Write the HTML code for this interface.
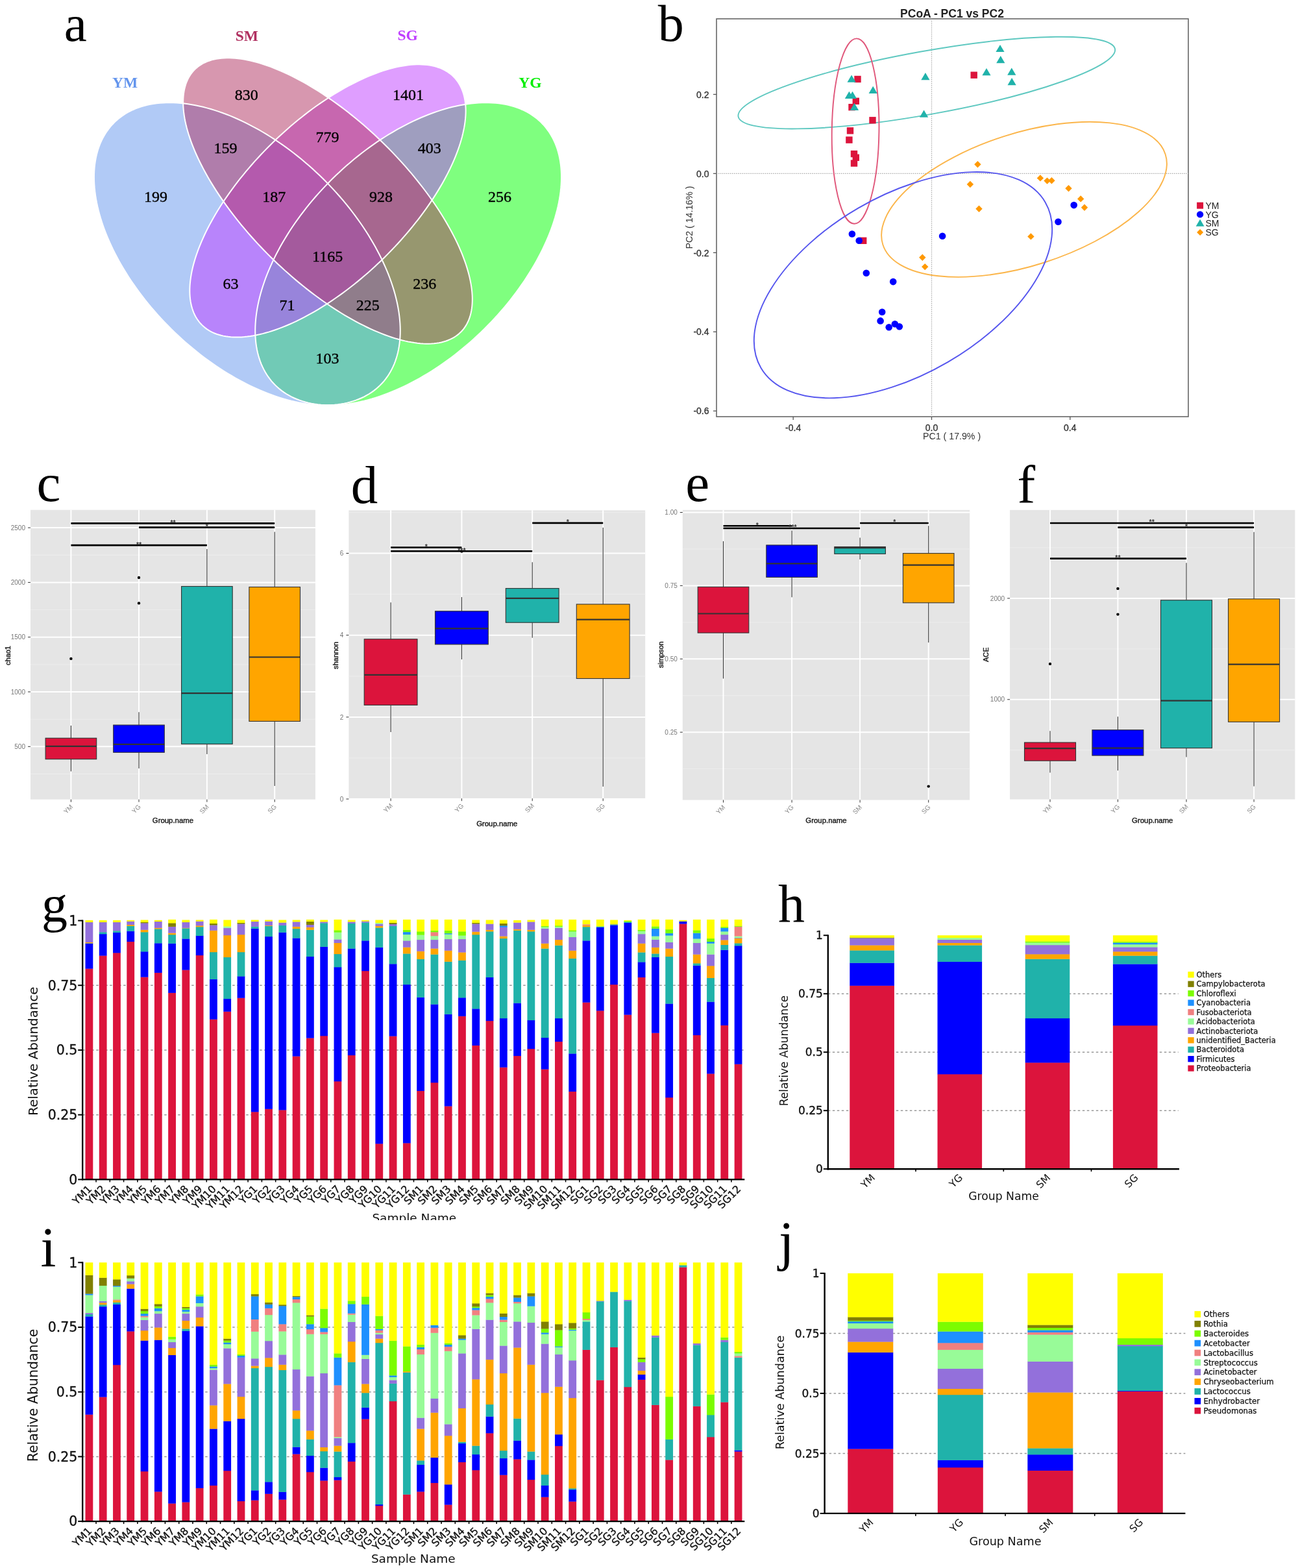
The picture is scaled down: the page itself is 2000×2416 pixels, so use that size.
<!DOCTYPE html>
<html><head><meta charset="utf-8"><title>Figure</title>
<style>html,body{margin:0;padding:0;background:#fff;}svg{display:block;}</style></head>
<body><svg width="2000" height="2416" viewBox="0 0 2000 2416">
<rect width="2000" height="2416" fill="#fff"/>
<path d="M833.96,188.84 L830.83,185.88 L827.55,183.06 L824.15,180.39 L820.6,177.86 L816.93,175.47 L813.13,173.24 L809.2,171.15 L805.15,169.22 L800.98,167.43 L796.69,165.8 L792.28,164.33 L787.77,163.01 L783.14,161.84 L778.41,160.84 L773.58,159.99 L768.65,159.3 L763.62,158.76 L758.5,158.39 L753.29,158.18 L748,158.13 L742.62,158.23 L737.17,158.5 L731.65,158.93 L726.05,159.51 L720.39,160.26 L714.66,161.16 L708.88,162.22 L703.04,163.44 L697.15,164.81 L691.21,166.34 L685.23,168.02 L679.21,169.86 L673.16,171.84 L667.08,173.98 L660.97,176.27 L654.84,178.7 L648.7,181.28 L642.53,184.01 L636.37,186.87 L630.19,189.88 L624.01,193.02 L617.84,196.3 L611.68,199.71 L605.53,203.26 L599.39,206.93 L593.27,210.73 L587.18,214.65 L581.12,218.7 L575.09,222.86 L569.1,227.14 L563.15,231.53 L557.24,236.03 L551.39,240.63 L545.58,245.34 L539.84,250.15 L534.15,255.06 L528.53,260.06 L522.98,265.15 L517.5,270.32 L512.1,275.58 L506.78,280.92 L501.54,286.33 L496.39,291.82 L491.33,297.37 L486.37,302.99 L481.5,308.67 L476.73,314.4 L472.07,320.19 L467.52,326.02 L463.08,331.9 L458.75,337.83 L454.54,343.78 L450.44,349.77 L446.47,355.79 L442.63,361.84 L438.91,367.9 L435.32,373.98 L431.87,380.07 L428.55,386.17 L425.37,392.27 L422.33,398.37 L419.43,404.47 L416.67,410.56 L414.06,416.63 L411.6,422.69 L409.28,428.73 L407.12,434.73 L405.11,440.71 L403.25,446.66 L401.55,452.57 L400,458.44 L398.61,464.26 L397.38,470.02 L396.31,475.74 L395.4,481.4 L394.64,487 L394.05,492.53 L393.62,497.99 L393.35,503.38 L393.24,508.69 L393.29,513.92 L393.51,519.06 L393.88,524.12 L394.42,529.09 L395.12,533.96 L395.98,538.74 L397,543.41 L398.18,547.98 L399.51,552.45 L401.01,556.8 L402.66,561.04 L404.46,565.16 L406.42,569.16 L408.53,573.05 L410.79,576.8 L413.21,580.43 L415.77,583.93 L418.47,587.3 L421.33,590.53 L424.32,593.63 L427.45,596.59 L430.73,599.4 L434.13,602.08 L437.68,604.61 L441.35,606.99 L445.15,609.23 L449.08,611.32 L453.13,613.25 L457.3,615.04 L461.59,616.67 L466,618.14 L470.51,619.46 L475.14,620.63 L479.87,621.63 L484.7,622.48 L489.63,623.17 L494.66,623.7 L499.78,624.08 L504.99,624.29 L510.28,624.34 L515.66,624.23 L521.11,623.97 L526.63,623.54 L532.23,622.96 L537.89,622.21 L543.62,621.31 L549.4,620.25 L555.24,619.03 L561.13,617.66 L567.07,616.13 L573.05,614.45 L579.07,612.61 L585.12,610.62 L591.2,608.49 L597.31,606.2 L603.44,603.77 L609.58,601.19 L615.75,598.46 L621.91,595.6 L628.09,592.59 L634.27,589.45 L640.44,586.17 L646.6,582.76 L652.75,579.21 L658.89,575.54 L665.01,571.74 L671.1,567.82 L677.16,563.77 L683.19,559.61 L689.18,555.33 L695.13,550.94 L701.04,546.44 L706.89,541.84 L712.7,537.13 L718.44,532.32 L724.13,527.41 L729.75,522.41 L735.3,517.32 L740.78,512.15 L746.18,506.89 L751.5,501.55 L756.74,496.14 L761.89,490.65 L766.95,485.1 L771.91,479.48 L776.78,473.8 L781.55,468.07 L786.21,462.28 L790.76,456.44 L795.2,450.56 L799.53,444.64 L803.74,438.68 L807.84,432.69 L811.81,426.67 L815.65,420.63 L819.37,414.57 L822.96,408.49 L826.41,402.4 L829.73,396.3 L832.91,390.2 L835.95,384.09 L838.85,378 L841.61,371.91 L844.22,365.84 L846.68,359.78 L849,353.74 L851.16,347.73 L853.17,341.75 L855.03,335.81 L856.73,329.9 L858.28,324.03 L859.67,318.21 L860.9,312.44 L861.97,306.73 L862.88,301.07 L863.64,295.47 L864.23,289.94 L864.66,284.48 L864.93,279.09 L865.04,273.78 L864.99,268.55 L864.77,263.4 L864.4,258.35 L863.86,253.38 L863.16,248.5 L862.3,243.73 L861.28,239.05 L860.1,234.48 L858.77,230.02 L857.27,225.67 L855.62,221.43 L853.82,217.31 L851.86,213.3 L849.75,209.42 L847.49,205.67 L845.07,202.04 L842.51,198.54 L839.81,195.17 L836.95,191.94Z" fill="#00FF00" fill-opacity="0.5"/>
<path d="M585.68,593.63 L588.67,590.53 L591.53,587.3 L594.23,583.93 L596.79,580.43 L599.21,576.8 L601.47,573.05 L603.58,569.16 L605.54,565.16 L607.34,561.04 L608.99,556.8 L610.49,552.45 L611.82,547.98 L613,543.41 L614.02,538.74 L614.88,533.96 L615.58,529.09 L616.12,524.12 L616.49,519.06 L616.71,513.92 L616.76,508.69 L616.65,503.38 L616.38,497.99 L615.95,492.53 L615.36,487 L614.6,481.4 L613.69,475.74 L612.62,470.02 L611.39,464.26 L610,458.44 L608.45,452.57 L606.75,446.66 L604.89,440.71 L602.88,434.73 L600.72,428.73 L598.4,422.69 L595.94,416.63 L593.33,410.56 L590.57,404.47 L587.67,398.37 L584.63,392.27 L581.45,386.17 L578.13,380.07 L574.68,373.98 L571.09,367.9 L567.37,361.84 L563.53,355.79 L559.56,349.77 L555.46,343.78 L551.25,337.83 L546.92,331.9 L542.48,326.02 L537.93,320.19 L533.27,314.4 L528.5,308.67 L523.63,302.99 L518.67,297.37 L513.61,291.82 L508.46,286.33 L503.22,280.92 L497.9,275.58 L492.5,270.32 L487.02,265.15 L481.47,260.06 L475.85,255.06 L470.16,250.15 L464.42,245.34 L458.61,240.63 L452.76,236.03 L446.85,231.53 L440.9,227.14 L434.91,222.86 L428.88,218.7 L422.82,214.65 L416.73,210.73 L410.61,206.93 L404.47,203.26 L398.32,199.71 L392.16,196.3 L385.99,193.02 L379.81,189.88 L373.63,186.87 L367.47,184.01 L361.3,181.28 L355.16,178.7 L349.03,176.27 L342.92,173.98 L336.84,171.84 L330.79,169.86 L324.77,168.02 L318.79,166.34 L312.85,164.81 L306.96,163.44 L301.12,162.22 L295.34,161.16 L289.61,160.26 L283.95,159.51 L278.35,158.93 L272.83,158.5 L267.38,158.23 L262,158.13 L256.71,158.18 L251.5,158.39 L246.38,158.76 L241.35,159.3 L236.42,159.99 L231.59,160.84 L226.86,161.84 L222.23,163.01 L217.72,164.33 L213.31,165.8 L209.02,167.43 L204.85,169.22 L200.8,171.15 L196.87,173.24 L193.07,175.47 L189.4,177.86 L185.85,180.39 L182.45,183.06 L179.17,185.88 L176.04,188.84 L173.05,191.94 L170.19,195.17 L167.49,198.54 L164.93,202.04 L162.51,205.67 L160.25,209.42 L158.14,213.3 L156.18,217.31 L154.38,221.43 L152.73,225.67 L151.23,230.02 L149.9,234.48 L148.72,239.05 L147.7,243.73 L146.84,248.5 L146.14,253.38 L145.6,258.35 L145.23,263.4 L145.01,268.55 L144.96,273.78 L145.07,279.09 L145.34,284.48 L145.77,289.94 L146.36,295.47 L147.12,301.07 L148.03,306.73 L149.1,312.44 L150.33,318.21 L151.72,324.03 L153.27,329.9 L154.97,335.81 L156.83,341.75 L158.84,347.73 L161,353.74 L163.32,359.78 L165.78,365.84 L168.39,371.91 L171.15,378 L174.05,384.09 L177.09,390.2 L180.27,396.3 L183.59,402.4 L187.04,408.49 L190.63,414.57 L194.35,420.63 L198.19,426.67 L202.16,432.69 L206.26,438.68 L210.47,444.64 L214.8,450.56 L219.24,456.44 L223.79,462.28 L228.45,468.07 L233.22,473.8 L238.09,479.48 L243.05,485.1 L248.11,490.65 L253.26,496.14 L258.5,501.55 L263.82,506.89 L269.22,512.15 L274.7,517.32 L280.25,522.41 L285.87,527.41 L291.56,532.32 L297.3,537.13 L303.11,541.84 L308.96,546.44 L314.87,550.94 L320.82,555.33 L326.81,559.61 L332.84,563.77 L338.9,567.82 L344.99,571.74 L351.11,575.54 L357.25,579.21 L363.4,582.76 L369.56,586.17 L375.73,589.45 L381.91,592.59 L388.09,595.6 L394.25,598.46 L400.42,601.19 L406.56,603.77 L412.69,606.2 L418.8,608.49 L424.88,610.62 L430.93,612.61 L436.95,614.45 L442.93,616.13 L448.87,617.66 L454.76,619.03 L460.6,620.25 L466.38,621.31 L472.11,622.21 L477.77,622.96 L483.37,623.54 L488.89,623.97 L494.34,624.23 L499.72,624.34 L505.01,624.29 L510.22,624.08 L515.34,623.7 L520.37,623.17 L525.3,622.48 L530.13,621.63 L534.86,620.63 L539.49,619.46 L544,618.14 L548.41,616.67 L552.7,615.04 L556.87,613.25 L560.92,611.32 L564.85,609.23 L568.65,606.99 L572.32,604.61 L575.87,602.08 L579.27,599.4 L582.55,596.59Z" fill="#6495ED" fill-opacity="0.5"/>
<path d="M698.7,118.05 L696.34,115.84 L693.84,113.77 L691.22,111.83 L688.47,110.03 L685.59,108.36 L682.59,106.83 L679.46,105.44 L676.22,104.19 L672.86,103.09 L669.38,102.12 L665.79,101.29 L662.1,100.61 L658.29,100.07 L654.38,99.67 L650.37,99.42 L646.25,99.31 L642.04,99.35 L637.74,99.53 L633.34,99.85 L628.86,100.32 L624.29,100.93 L619.64,101.68 L614.92,102.58 L610.11,103.62 L605.24,104.8 L600.29,106.11 L595.28,107.57 L590.21,109.17 L585.08,110.9 L579.9,112.77 L574.66,114.78 L569.38,116.92 L564.05,119.19 L558.68,121.59 L553.28,124.12 L547.84,126.77 L542.37,129.55 L536.88,132.46 L531.36,135.48 L525.83,138.63 L520.28,141.89 L514.73,145.27 L509.16,148.76 L503.59,152.36 L498.03,156.07 L492.47,159.88 L486.91,163.8 L481.37,167.81 L475.85,171.92 L470.34,176.13 L464.86,180.43 L459.41,184.81 L453.99,189.28 L448.6,193.84 L443.25,198.47 L437.95,203.18 L432.69,207.96 L427.48,212.81 L422.32,217.73 L417.22,222.71 L412.18,227.75 L407.2,232.85 L402.29,238 L397.45,243.2 L392.69,248.44 L388,253.72 L383.39,259.05 L378.87,264.4 L374.43,269.79 L370.08,275.21 L365.82,280.65 L361.66,286.11 L357.6,291.58 L353.63,297.07 L349.78,302.56 L346.02,308.06 L342.38,313.57 L338.85,319.06 L335.43,324.56 L332.13,330.04 L328.95,335.51 L325.88,340.96 L322.94,346.38 L320.13,351.79 L317.44,357.16 L314.88,362.5 L312.45,367.81 L310.15,373.07 L307.99,378.29 L305.96,383.46 L304.07,388.59 L302.32,393.66 L300.7,398.67 L299.22,403.62 L297.89,408.5 L296.7,413.32 L295.65,418.07 L294.74,422.74 L293.98,427.33 L293.36,431.85 L292.89,436.28 L292.56,440.62 L292.38,444.87 L292.34,449.03 L292.45,453.1 L292.71,457.06 L293.11,460.93 L293.65,464.69 L294.34,468.34 L295.18,471.89 L296.16,475.32 L297.28,478.64 L298.55,481.85 L299.95,484.94 L301.5,487.9 L303.18,490.75 L305.01,493.47 L306.97,496.06 L309.07,498.53 L311.3,500.86 L313.66,503.07 L316.16,505.14 L318.78,507.08 L321.53,508.88 L324.41,510.55 L327.41,512.07 L330.54,513.46 L333.78,514.71 L337.14,515.82 L340.62,516.79 L344.21,517.62 L347.9,518.3 L351.71,518.84 L355.62,519.23 L359.63,519.49 L363.75,519.59 L367.96,519.56 L372.26,519.38 L376.66,519.06 L381.14,518.59 L385.71,517.98 L390.36,517.22 L395.08,516.33 L399.89,515.29 L404.76,514.11 L409.71,512.79 L414.72,511.34 L419.79,509.74 L424.92,508 L430.1,506.13 L435.34,504.13 L440.62,501.99 L445.95,499.72 L451.32,497.32 L456.72,494.79 L462.16,492.14 L467.63,489.35 L473.12,486.45 L478.64,483.42 L484.17,480.28 L489.72,477.02 L495.27,473.64 L500.84,470.15 L506.41,466.55 L511.97,462.84 L517.53,459.03 L523.09,455.11 L528.63,451.1 L534.15,446.99 L539.66,442.78 L545.14,438.48 L550.59,434.1 L556.01,429.62 L561.4,425.07 L566.75,420.44 L572.05,415.73 L577.31,410.95 L582.52,406.09 L587.68,401.18 L592.78,396.19 L597.82,391.15 L602.8,386.06 L607.71,380.91 L612.55,375.71 L617.31,370.47 L622,365.18 L626.61,359.86 L631.13,354.5 L635.57,349.11 L639.92,343.7 L644.18,338.26 L648.34,332.8 L652.4,327.33 L656.37,321.84 L660.22,316.34 L663.98,310.84 L667.62,305.34 L671.15,299.84 L674.57,294.35 L677.87,288.87 L681.05,283.4 L684.12,277.95 L687.06,272.52 L689.87,267.12 L692.56,261.75 L695.12,256.41 L697.55,251.1 L699.85,245.84 L702.01,240.62 L704.04,235.44 L705.93,230.32 L707.68,225.25 L709.3,220.24 L710.78,215.29 L712.11,210.4 L713.3,205.59 L714.35,200.84 L715.26,196.17 L716.02,191.57 L716.64,187.06 L717.11,182.63 L717.44,178.29 L717.62,174.03 L717.66,169.87 L717.55,165.81 L717.29,161.84 L716.89,157.98 L716.35,154.22 L715.66,150.56 L714.82,147.02 L713.84,143.58 L712.72,140.26 L711.45,137.06 L710.05,133.97 L708.5,131.01 L706.82,128.16 L704.99,125.44 L703.03,122.85 L700.93,120.38Z" fill="#BF3EFF" fill-opacity="0.5"/>
<path d="M709.82,511.85 L712.05,509.51 L714.13,507.03 L716.08,504.42 L717.87,501.67 L719.53,498.8 L721.03,495.79 L722.39,492.65 L723.6,489.39 L724.65,486.01 L725.56,482.5 L726.32,478.88 L726.92,475.14 L727.37,471.29 L727.67,467.32 L727.82,463.25 L727.82,459.07 L727.66,454.79 L727.35,450.41 L726.88,445.93 L726.27,441.36 L725.5,436.7 L724.59,431.95 L723.52,427.12 L722.3,422.21 L720.93,417.22 L719.42,412.16 L717.76,407.02 L715.95,401.82 L714,396.56 L711.9,391.23 L709.66,385.85 L707.29,380.42 L704.77,374.94 L702.12,369.42 L699.33,363.85 L696.41,358.24 L693.35,352.61 L690.17,346.94 L686.86,341.25 L683.43,335.53 L679.87,329.8 L676.2,324.05 L672.41,318.3 L668.5,312.53 L664.48,306.77 L660.35,301.01 L656.12,295.25 L651.78,289.5 L647.34,283.77 L642.8,278.05 L638.17,272.36 L633.45,266.69 L628.64,261.05 L623.74,255.44 L618.76,249.87 L613.71,244.34 L608.58,238.86 L603.38,233.42 L598.11,228.04 L592.78,222.71 L587.39,217.44 L581.94,212.24 L576.44,207.1 L570.89,202.03 L565.29,197.04 L559.66,192.12 L553.98,187.28 L548.28,182.53 L542.54,177.86 L536.78,173.29 L530.99,168.8 L525.19,164.42 L519.37,160.13 L513.55,155.94 L507.72,151.86 L501.88,147.89 L496.05,144.03 L490.23,140.28 L484.41,136.65 L478.61,133.14 L472.83,129.74 L467.07,126.47 L461.33,123.33 L455.63,120.31 L449.95,117.43 L444.32,114.67 L438.73,112.05 L433.18,109.56 L427.68,107.21 L422.24,105 L416.85,102.93 L411.53,101 L406.26,99.22 L401.07,97.58 L395.94,96.08 L390.89,94.73 L385.92,93.52 L381.03,92.47 L376.23,91.56 L371.51,90.8 L366.89,90.2 L362.35,89.74 L357.92,89.43 L353.59,89.28 L349.36,89.27 L345.24,89.42 L341.23,89.71 L337.33,90.16 L333.54,90.76 L329.88,91.51 L326.33,92.4 L322.91,93.45 L319.61,94.64 L316.43,95.98 L313.39,97.47 L310.48,99.1 L307.7,100.88 L305.05,102.8 L302.55,104.86 L300.18,107.06 L297.95,109.4 L295.87,111.88 L293.92,114.49 L292.13,117.23 L290.47,120.11 L288.97,123.12 L287.61,126.26 L286.4,129.52 L285.35,132.9 L284.44,136.41 L283.68,140.03 L283.08,143.77 L282.63,147.62 L282.33,151.59 L282.18,155.66 L282.18,159.84 L282.34,164.12 L282.65,168.5 L283.12,172.97 L283.73,177.55 L284.5,182.21 L285.41,186.95 L286.48,191.79 L287.7,196.7 L289.07,201.69 L290.58,206.75 L292.24,211.89 L294.05,217.09 L296,222.35 L298.1,227.67 L300.34,233.05 L302.71,238.49 L305.23,243.97 L307.88,249.49 L310.67,255.06 L313.59,260.66 L316.65,266.3 L319.83,271.97 L323.14,277.66 L326.57,283.38 L330.13,289.11 L333.8,294.86 L337.59,300.61 L341.5,306.37 L345.52,312.14 L349.65,317.9 L353.88,323.66 L358.22,329.41 L362.66,335.14 L367.2,340.86 L371.83,346.55 L376.55,352.22 L381.36,357.86 L386.26,363.47 L391.24,369.03 L396.29,374.56 L401.42,380.05 L406.62,385.48 L411.89,390.87 L417.22,396.19 L422.61,401.46 L428.06,406.67 L433.56,411.81 L439.11,416.88 L444.71,421.87 L450.34,426.79 L456.02,431.63 L461.72,436.38 L467.46,441.05 L473.22,445.62 L479.01,450.11 L484.81,454.49 L490.63,458.78 L496.45,462.97 L502.28,467.05 L508.12,471.02 L513.95,474.88 L519.77,478.63 L525.59,482.26 L531.39,485.77 L537.17,489.16 L542.93,492.43 L548.67,495.58 L554.37,498.59 L560.05,501.48 L565.68,504.24 L571.27,506.86 L576.82,509.34 L582.32,511.69 L587.76,513.9 L593.15,515.97 L598.47,517.9 L603.74,519.69 L608.93,521.33 L614.06,522.83 L619.11,524.18 L624.08,525.38 L628.97,526.44 L633.77,527.35 L638.49,528.1 L643.11,528.71 L647.65,529.17 L652.08,529.48 L656.41,529.63 L660.64,529.64 L664.76,529.49 L668.77,529.19 L672.67,528.75 L676.46,528.15 L680.12,527.4 L683.67,526.51 L687.09,525.46 L690.39,524.27 L693.57,522.93 L696.61,521.44 L699.52,519.81 L702.3,518.03 L704.95,516.11 L707.45,514.05Z" fill="#B03060" fill-opacity="0.5"/>
<path d="M833.96,188.84 L830.83,185.88 L827.55,183.06 L824.15,180.39 L820.6,177.86 L816.93,175.47 L813.13,173.24 L809.2,171.15 L805.15,169.22 L800.98,167.43 L796.69,165.8 L792.28,164.33 L787.77,163.01 L783.14,161.84 L778.41,160.84 L773.58,159.99 L768.65,159.3 L763.62,158.76 L758.5,158.39 L753.29,158.18 L748,158.13 L742.62,158.23 L737.17,158.5 L731.65,158.93 L726.05,159.51 L720.39,160.26 L714.66,161.16 L708.88,162.22 L703.04,163.44 L697.15,164.81 L691.21,166.34 L685.23,168.02 L679.21,169.86 L673.16,171.84 L667.08,173.98 L660.97,176.27 L654.84,178.7 L648.7,181.28 L642.53,184.01 L636.37,186.87 L630.19,189.88 L624.01,193.02 L617.84,196.3 L611.68,199.71 L605.53,203.26 L599.39,206.93 L593.27,210.73 L587.18,214.65 L581.12,218.7 L575.09,222.86 L569.1,227.14 L563.15,231.53 L557.24,236.03 L551.39,240.63 L545.58,245.34 L539.84,250.15 L534.15,255.06 L528.53,260.06 L522.98,265.15 L517.5,270.32 L512.1,275.58 L506.78,280.92 L501.54,286.33 L496.39,291.82 L491.33,297.37 L486.37,302.99 L481.5,308.67 L476.73,314.4 L472.07,320.19 L467.52,326.02 L463.08,331.9 L458.75,337.83 L454.54,343.78 L450.44,349.77 L446.47,355.79 L442.63,361.84 L438.91,367.9 L435.32,373.98 L431.87,380.07 L428.55,386.17 L425.37,392.27 L422.33,398.37 L419.43,404.47 L416.67,410.56 L414.06,416.63 L411.6,422.69 L409.28,428.73 L407.12,434.73 L405.11,440.71 L403.25,446.66 L401.55,452.57 L400,458.44 L398.61,464.26 L397.38,470.02 L396.31,475.74 L395.4,481.4 L394.64,487 L394.05,492.53 L393.62,497.99 L393.35,503.38 L393.24,508.69 L393.29,513.92 L393.51,519.06 L393.88,524.12 L394.42,529.09 L395.12,533.96 L395.98,538.74 L397,543.41 L398.18,547.98 L399.51,552.45 L401.01,556.8 L402.66,561.04 L404.46,565.16 L406.42,569.16 L408.53,573.05 L410.79,576.8 L413.21,580.43 L415.77,583.93 L418.47,587.3 L421.33,590.53 L424.32,593.63 L427.45,596.59 L430.73,599.4 L434.13,602.08 L437.68,604.61 L441.35,606.99 L445.15,609.23 L449.08,611.32 L453.13,613.25 L457.3,615.04 L461.59,616.67 L466,618.14 L470.51,619.46 L475.14,620.63 L479.87,621.63 L484.7,622.48 L489.63,623.17 L494.66,623.7 L499.78,624.08 L504.99,624.29 L510.28,624.34 L515.66,624.23 L521.11,623.97 L526.63,623.54 L532.23,622.96 L537.89,622.21 L543.62,621.31 L549.4,620.25 L555.24,619.03 L561.13,617.66 L567.07,616.13 L573.05,614.45 L579.07,612.61 L585.12,610.62 L591.2,608.49 L597.31,606.2 L603.44,603.77 L609.58,601.19 L615.75,598.46 L621.91,595.6 L628.09,592.59 L634.27,589.45 L640.44,586.17 L646.6,582.76 L652.75,579.21 L658.89,575.54 L665.01,571.74 L671.1,567.82 L677.16,563.77 L683.19,559.61 L689.18,555.33 L695.13,550.94 L701.04,546.44 L706.89,541.84 L712.7,537.13 L718.44,532.32 L724.13,527.41 L729.75,522.41 L735.3,517.32 L740.78,512.15 L746.18,506.89 L751.5,501.55 L756.74,496.14 L761.89,490.65 L766.95,485.1 L771.91,479.48 L776.78,473.8 L781.55,468.07 L786.21,462.28 L790.76,456.44 L795.2,450.56 L799.53,444.64 L803.74,438.68 L807.84,432.69 L811.81,426.67 L815.65,420.63 L819.37,414.57 L822.96,408.49 L826.41,402.4 L829.73,396.3 L832.91,390.2 L835.95,384.09 L838.85,378 L841.61,371.91 L844.22,365.84 L846.68,359.78 L849,353.74 L851.16,347.73 L853.17,341.75 L855.03,335.81 L856.73,329.9 L858.28,324.03 L859.67,318.21 L860.9,312.44 L861.97,306.73 L862.88,301.07 L863.64,295.47 L864.23,289.94 L864.66,284.48 L864.93,279.09 L865.04,273.78 L864.99,268.55 L864.77,263.4 L864.4,258.35 L863.86,253.38 L863.16,248.5 L862.3,243.73 L861.28,239.05 L860.1,234.48 L858.77,230.02 L857.27,225.67 L855.62,221.43 L853.82,217.31 L851.86,213.3 L849.75,209.42 L847.49,205.67 L845.07,202.04 L842.51,198.54 L839.81,195.17 L836.95,191.94Z" fill="none" stroke="#fff" stroke-width="2"/>
<path d="M585.68,593.63 L588.67,590.53 L591.53,587.3 L594.23,583.93 L596.79,580.43 L599.21,576.8 L601.47,573.05 L603.58,569.16 L605.54,565.16 L607.34,561.04 L608.99,556.8 L610.49,552.45 L611.82,547.98 L613,543.41 L614.02,538.74 L614.88,533.96 L615.58,529.09 L616.12,524.12 L616.49,519.06 L616.71,513.92 L616.76,508.69 L616.65,503.38 L616.38,497.99 L615.95,492.53 L615.36,487 L614.6,481.4 L613.69,475.74 L612.62,470.02 L611.39,464.26 L610,458.44 L608.45,452.57 L606.75,446.66 L604.89,440.71 L602.88,434.73 L600.72,428.73 L598.4,422.69 L595.94,416.63 L593.33,410.56 L590.57,404.47 L587.67,398.37 L584.63,392.27 L581.45,386.17 L578.13,380.07 L574.68,373.98 L571.09,367.9 L567.37,361.84 L563.53,355.79 L559.56,349.77 L555.46,343.78 L551.25,337.83 L546.92,331.9 L542.48,326.02 L537.93,320.19 L533.27,314.4 L528.5,308.67 L523.63,302.99 L518.67,297.37 L513.61,291.82 L508.46,286.33 L503.22,280.92 L497.9,275.58 L492.5,270.32 L487.02,265.15 L481.47,260.06 L475.85,255.06 L470.16,250.15 L464.42,245.34 L458.61,240.63 L452.76,236.03 L446.85,231.53 L440.9,227.14 L434.91,222.86 L428.88,218.7 L422.82,214.65 L416.73,210.73 L410.61,206.93 L404.47,203.26 L398.32,199.71 L392.16,196.3 L385.99,193.02 L379.81,189.88 L373.63,186.87 L367.47,184.01 L361.3,181.28 L355.16,178.7 L349.03,176.27 L342.92,173.98 L336.84,171.84 L330.79,169.86 L324.77,168.02 L318.79,166.34 L312.85,164.81 L306.96,163.44 L301.12,162.22 L295.34,161.16 L289.61,160.26 L283.95,159.51 L278.35,158.93 L272.83,158.5 L267.38,158.23 L262,158.13 L256.71,158.18 L251.5,158.39 L246.38,158.76 L241.35,159.3 L236.42,159.99 L231.59,160.84 L226.86,161.84 L222.23,163.01 L217.72,164.33 L213.31,165.8 L209.02,167.43 L204.85,169.22 L200.8,171.15 L196.87,173.24 L193.07,175.47 L189.4,177.86 L185.85,180.39 L182.45,183.06 L179.17,185.88 L176.04,188.84 L173.05,191.94 L170.19,195.17 L167.49,198.54 L164.93,202.04 L162.51,205.67 L160.25,209.42 L158.14,213.3 L156.18,217.31 L154.38,221.43 L152.73,225.67 L151.23,230.02 L149.9,234.48 L148.72,239.05 L147.7,243.73 L146.84,248.5 L146.14,253.38 L145.6,258.35 L145.23,263.4 L145.01,268.55 L144.96,273.78 L145.07,279.09 L145.34,284.48 L145.77,289.94 L146.36,295.47 L147.12,301.07 L148.03,306.73 L149.1,312.44 L150.33,318.21 L151.72,324.03 L153.27,329.9 L154.97,335.81 L156.83,341.75 L158.84,347.73 L161,353.74 L163.32,359.78 L165.78,365.84 L168.39,371.91 L171.15,378 L174.05,384.09 L177.09,390.2 L180.27,396.3 L183.59,402.4 L187.04,408.49 L190.63,414.57 L194.35,420.63 L198.19,426.67 L202.16,432.69 L206.26,438.68 L210.47,444.64 L214.8,450.56 L219.24,456.44 L223.79,462.28 L228.45,468.07 L233.22,473.8 L238.09,479.48 L243.05,485.1 L248.11,490.65 L253.26,496.14 L258.5,501.55 L263.82,506.89 L269.22,512.15 L274.7,517.32 L280.25,522.41 L285.87,527.41 L291.56,532.32 L297.3,537.13 L303.11,541.84 L308.96,546.44 L314.87,550.94 L320.82,555.33 L326.81,559.61 L332.84,563.77 L338.9,567.82 L344.99,571.74 L351.11,575.54 L357.25,579.21 L363.4,582.76 L369.56,586.17 L375.73,589.45 L381.91,592.59 L388.09,595.6 L394.25,598.46 L400.42,601.19 L406.56,603.77 L412.69,606.2 L418.8,608.49 L424.88,610.62 L430.93,612.61 L436.95,614.45 L442.93,616.13 L448.87,617.66 L454.76,619.03 L460.6,620.25 L466.38,621.31 L472.11,622.21 L477.77,622.96 L483.37,623.54 L488.89,623.97 L494.34,624.23 L499.72,624.34 L505.01,624.29 L510.22,624.08 L515.34,623.7 L520.37,623.17 L525.3,622.48 L530.13,621.63 L534.86,620.63 L539.49,619.46 L544,618.14 L548.41,616.67 L552.7,615.04 L556.87,613.25 L560.92,611.32 L564.85,609.23 L568.65,606.99 L572.32,604.61 L575.87,602.08 L579.27,599.4 L582.55,596.59Z" fill="none" stroke="#fff" stroke-width="2"/>
<path d="M698.7,118.05 L696.34,115.84 L693.84,113.77 L691.22,111.83 L688.47,110.03 L685.59,108.36 L682.59,106.83 L679.46,105.44 L676.22,104.19 L672.86,103.09 L669.38,102.12 L665.79,101.29 L662.1,100.61 L658.29,100.07 L654.38,99.67 L650.37,99.42 L646.25,99.31 L642.04,99.35 L637.74,99.53 L633.34,99.85 L628.86,100.32 L624.29,100.93 L619.64,101.68 L614.92,102.58 L610.11,103.62 L605.24,104.8 L600.29,106.11 L595.28,107.57 L590.21,109.17 L585.08,110.9 L579.9,112.77 L574.66,114.78 L569.38,116.92 L564.05,119.19 L558.68,121.59 L553.28,124.12 L547.84,126.77 L542.37,129.55 L536.88,132.46 L531.36,135.48 L525.83,138.63 L520.28,141.89 L514.73,145.27 L509.16,148.76 L503.59,152.36 L498.03,156.07 L492.47,159.88 L486.91,163.8 L481.37,167.81 L475.85,171.92 L470.34,176.13 L464.86,180.43 L459.41,184.81 L453.99,189.28 L448.6,193.84 L443.25,198.47 L437.95,203.18 L432.69,207.96 L427.48,212.81 L422.32,217.73 L417.22,222.71 L412.18,227.75 L407.2,232.85 L402.29,238 L397.45,243.2 L392.69,248.44 L388,253.72 L383.39,259.05 L378.87,264.4 L374.43,269.79 L370.08,275.21 L365.82,280.65 L361.66,286.11 L357.6,291.58 L353.63,297.07 L349.78,302.56 L346.02,308.06 L342.38,313.57 L338.85,319.06 L335.43,324.56 L332.13,330.04 L328.95,335.51 L325.88,340.96 L322.94,346.38 L320.13,351.79 L317.44,357.16 L314.88,362.5 L312.45,367.81 L310.15,373.07 L307.99,378.29 L305.96,383.46 L304.07,388.59 L302.32,393.66 L300.7,398.67 L299.22,403.62 L297.89,408.5 L296.7,413.32 L295.65,418.07 L294.74,422.74 L293.98,427.33 L293.36,431.85 L292.89,436.28 L292.56,440.62 L292.38,444.87 L292.34,449.03 L292.45,453.1 L292.71,457.06 L293.11,460.93 L293.65,464.69 L294.34,468.34 L295.18,471.89 L296.16,475.32 L297.28,478.64 L298.55,481.85 L299.95,484.94 L301.5,487.9 L303.18,490.75 L305.01,493.47 L306.97,496.06 L309.07,498.53 L311.3,500.86 L313.66,503.07 L316.16,505.14 L318.78,507.08 L321.53,508.88 L324.41,510.55 L327.41,512.07 L330.54,513.46 L333.78,514.71 L337.14,515.82 L340.62,516.79 L344.21,517.62 L347.9,518.3 L351.71,518.84 L355.62,519.23 L359.63,519.49 L363.75,519.59 L367.96,519.56 L372.26,519.38 L376.66,519.06 L381.14,518.59 L385.71,517.98 L390.36,517.22 L395.08,516.33 L399.89,515.29 L404.76,514.11 L409.71,512.79 L414.72,511.34 L419.79,509.74 L424.92,508 L430.1,506.13 L435.34,504.13 L440.62,501.99 L445.95,499.72 L451.32,497.32 L456.72,494.79 L462.16,492.14 L467.63,489.35 L473.12,486.45 L478.64,483.42 L484.17,480.28 L489.72,477.02 L495.27,473.64 L500.84,470.15 L506.41,466.55 L511.97,462.84 L517.53,459.03 L523.09,455.11 L528.63,451.1 L534.15,446.99 L539.66,442.78 L545.14,438.48 L550.59,434.1 L556.01,429.62 L561.4,425.07 L566.75,420.44 L572.05,415.73 L577.31,410.95 L582.52,406.09 L587.68,401.18 L592.78,396.19 L597.82,391.15 L602.8,386.06 L607.71,380.91 L612.55,375.71 L617.31,370.47 L622,365.18 L626.61,359.86 L631.13,354.5 L635.57,349.11 L639.92,343.7 L644.18,338.26 L648.34,332.8 L652.4,327.33 L656.37,321.84 L660.22,316.34 L663.98,310.84 L667.62,305.34 L671.15,299.84 L674.57,294.35 L677.87,288.87 L681.05,283.4 L684.12,277.95 L687.06,272.52 L689.87,267.12 L692.56,261.75 L695.12,256.41 L697.55,251.1 L699.85,245.84 L702.01,240.62 L704.04,235.44 L705.93,230.32 L707.68,225.25 L709.3,220.24 L710.78,215.29 L712.11,210.4 L713.3,205.59 L714.35,200.84 L715.26,196.17 L716.02,191.57 L716.64,187.06 L717.11,182.63 L717.44,178.29 L717.62,174.03 L717.66,169.87 L717.55,165.81 L717.29,161.84 L716.89,157.98 L716.35,154.22 L715.66,150.56 L714.82,147.02 L713.84,143.58 L712.72,140.26 L711.45,137.06 L710.05,133.97 L708.5,131.01 L706.82,128.16 L704.99,125.44 L703.03,122.85 L700.93,120.38Z" fill="none" stroke="#fff" stroke-width="2"/>
<path d="M709.82,511.85 L712.05,509.51 L714.13,507.03 L716.08,504.42 L717.87,501.67 L719.53,498.8 L721.03,495.79 L722.39,492.65 L723.6,489.39 L724.65,486.01 L725.56,482.5 L726.32,478.88 L726.92,475.14 L727.37,471.29 L727.67,467.32 L727.82,463.25 L727.82,459.07 L727.66,454.79 L727.35,450.41 L726.88,445.93 L726.27,441.36 L725.5,436.7 L724.59,431.95 L723.52,427.12 L722.3,422.21 L720.93,417.22 L719.42,412.16 L717.76,407.02 L715.95,401.82 L714,396.56 L711.9,391.23 L709.66,385.85 L707.29,380.42 L704.77,374.94 L702.12,369.42 L699.33,363.85 L696.41,358.24 L693.35,352.61 L690.17,346.94 L686.86,341.25 L683.43,335.53 L679.87,329.8 L676.2,324.05 L672.41,318.3 L668.5,312.53 L664.48,306.77 L660.35,301.01 L656.12,295.25 L651.78,289.5 L647.34,283.77 L642.8,278.05 L638.17,272.36 L633.45,266.69 L628.64,261.05 L623.74,255.44 L618.76,249.87 L613.71,244.34 L608.58,238.86 L603.38,233.42 L598.11,228.04 L592.78,222.71 L587.39,217.44 L581.94,212.24 L576.44,207.1 L570.89,202.03 L565.29,197.04 L559.66,192.12 L553.98,187.28 L548.28,182.53 L542.54,177.86 L536.78,173.29 L530.99,168.8 L525.19,164.42 L519.37,160.13 L513.55,155.94 L507.72,151.86 L501.88,147.89 L496.05,144.03 L490.23,140.28 L484.41,136.65 L478.61,133.14 L472.83,129.74 L467.07,126.47 L461.33,123.33 L455.63,120.31 L449.95,117.43 L444.32,114.67 L438.73,112.05 L433.18,109.56 L427.68,107.21 L422.24,105 L416.85,102.93 L411.53,101 L406.26,99.22 L401.07,97.58 L395.94,96.08 L390.89,94.73 L385.92,93.52 L381.03,92.47 L376.23,91.56 L371.51,90.8 L366.89,90.2 L362.35,89.74 L357.92,89.43 L353.59,89.28 L349.36,89.27 L345.24,89.42 L341.23,89.71 L337.33,90.16 L333.54,90.76 L329.88,91.51 L326.33,92.4 L322.91,93.45 L319.61,94.64 L316.43,95.98 L313.39,97.47 L310.48,99.1 L307.7,100.88 L305.05,102.8 L302.55,104.86 L300.18,107.06 L297.95,109.4 L295.87,111.88 L293.92,114.49 L292.13,117.23 L290.47,120.11 L288.97,123.12 L287.61,126.26 L286.4,129.52 L285.35,132.9 L284.44,136.41 L283.68,140.03 L283.08,143.77 L282.63,147.62 L282.33,151.59 L282.18,155.66 L282.18,159.84 L282.34,164.12 L282.65,168.5 L283.12,172.97 L283.73,177.55 L284.5,182.21 L285.41,186.95 L286.48,191.79 L287.7,196.7 L289.07,201.69 L290.58,206.75 L292.24,211.89 L294.05,217.09 L296,222.35 L298.1,227.67 L300.34,233.05 L302.71,238.49 L305.23,243.97 L307.88,249.49 L310.67,255.06 L313.59,260.66 L316.65,266.3 L319.83,271.97 L323.14,277.66 L326.57,283.38 L330.13,289.11 L333.8,294.86 L337.59,300.61 L341.5,306.37 L345.52,312.14 L349.65,317.9 L353.88,323.66 L358.22,329.41 L362.66,335.14 L367.2,340.86 L371.83,346.55 L376.55,352.22 L381.36,357.86 L386.26,363.47 L391.24,369.03 L396.29,374.56 L401.42,380.05 L406.62,385.48 L411.89,390.87 L417.22,396.19 L422.61,401.46 L428.06,406.67 L433.56,411.81 L439.11,416.88 L444.71,421.87 L450.34,426.79 L456.02,431.63 L461.72,436.38 L467.46,441.05 L473.22,445.62 L479.01,450.11 L484.81,454.49 L490.63,458.78 L496.45,462.97 L502.28,467.05 L508.12,471.02 L513.95,474.88 L519.77,478.63 L525.59,482.26 L531.39,485.77 L537.17,489.16 L542.93,492.43 L548.67,495.58 L554.37,498.59 L560.05,501.48 L565.68,504.24 L571.27,506.86 L576.82,509.34 L582.32,511.69 L587.76,513.9 L593.15,515.97 L598.47,517.9 L603.74,519.69 L608.93,521.33 L614.06,522.83 L619.11,524.18 L624.08,525.38 L628.97,526.44 L633.77,527.35 L638.49,528.1 L643.11,528.71 L647.65,529.17 L652.08,529.48 L656.41,529.63 L660.64,529.64 L664.76,529.49 L668.77,529.19 L672.67,528.75 L676.46,528.15 L680.12,527.4 L683.67,526.51 L687.09,525.46 L690.39,524.27 L693.57,522.93 L696.61,521.44 L699.52,519.81 L702.3,518.03 L704.95,516.11 L707.45,514.05Z" fill="none" stroke="#fff" stroke-width="2"/>
<text x="379.8" y="154.3" font-family="'Liberation Serif', 'Times New Roman', serif" font-size="24" text-anchor="middle" fill="#000" stroke="#000" stroke-width="0.35">830</text>
<text x="628.9" y="154.3" font-family="'Liberation Serif', 'Times New Roman', serif" font-size="24" text-anchor="middle" fill="#000" stroke="#000" stroke-width="0.35">1401</text>
<text x="347.5" y="236" font-family="'Liberation Serif', 'Times New Roman', serif" font-size="24" text-anchor="middle" fill="#000" stroke="#000" stroke-width="0.35">159</text>
<text x="504.6" y="219.3" font-family="'Liberation Serif', 'Times New Roman', serif" font-size="24" text-anchor="middle" fill="#000" stroke="#000" stroke-width="0.35">779</text>
<text x="661.7" y="236" font-family="'Liberation Serif', 'Times New Roman', serif" font-size="24" text-anchor="middle" fill="#000" stroke="#000" stroke-width="0.35">403</text>
<text x="239.9" y="310.8" font-family="'Liberation Serif', 'Times New Roman', serif" font-size="24" text-anchor="middle" fill="#000" stroke="#000" stroke-width="0.35">199</text>
<text x="422.3" y="310.8" font-family="'Liberation Serif', 'Times New Roman', serif" font-size="24" text-anchor="middle" fill="#000" stroke="#000" stroke-width="0.35">187</text>
<text x="586.9" y="310.8" font-family="'Liberation Serif', 'Times New Roman', serif" font-size="24" text-anchor="middle" fill="#000" stroke="#000" stroke-width="0.35">928</text>
<text x="769.9" y="310.8" font-family="'Liberation Serif', 'Times New Roman', serif" font-size="24" text-anchor="middle" fill="#000" stroke="#000" stroke-width="0.35">256</text>
<text x="504.6" y="402.9" font-family="'Liberation Serif', 'Times New Roman', serif" font-size="24" text-anchor="middle" fill="#000" stroke="#000" stroke-width="0.35">1165</text>
<text x="355.6" y="444.9" font-family="'Liberation Serif', 'Times New Roman', serif" font-size="24" text-anchor="middle" fill="#000" stroke="#000" stroke-width="0.35">63</text>
<text x="654.2" y="444.9" font-family="'Liberation Serif', 'Times New Roman', serif" font-size="24" text-anchor="middle" fill="#000" stroke="#000" stroke-width="0.35">236</text>
<text x="442.5" y="477.7" font-family="'Liberation Serif', 'Times New Roman', serif" font-size="24" text-anchor="middle" fill="#000" stroke="#000" stroke-width="0.35">71</text>
<text x="566.7" y="477.7" font-family="'Liberation Serif', 'Times New Roman', serif" font-size="24" text-anchor="middle" fill="#000" stroke="#000" stroke-width="0.35">225</text>
<text x="504.6" y="560" font-family="'Liberation Serif', 'Times New Roman', serif" font-size="24" text-anchor="middle" fill="#000" stroke="#000" stroke-width="0.35">103</text>
<text x="192.6" y="135" font-family="'Liberation Serif', 'Times New Roman', serif" font-size="23.5" font-weight="bold" text-anchor="middle" fill="#6495ED">YM</text>
<text x="380.3" y="62.5" font-family="'Liberation Serif', 'Times New Roman', serif" font-size="23.5" font-weight="bold" text-anchor="middle" fill="#B03060">SM</text>
<text x="628.2" y="62.2" font-family="'Liberation Serif', 'Times New Roman', serif" font-size="23.5" font-weight="bold" text-anchor="middle" fill="#BF3EFF">SG</text>
<text x="816.9" y="134.6" font-family="'Liberation Serif', 'Times New Roman', serif" font-size="23.5" font-weight="bold" text-anchor="middle" fill="#00EE00">YG</text>
<rect x="1104" y="29" width="727" height="613" fill="#fff" stroke="#666" stroke-width="1.6"/>
<line x1="1104" y1="267.4" x2="1831" y2="267.4" stroke="#aaa" stroke-width="1.2" stroke-dasharray="1.5,1.5"/>
<line x1="1435.5" y1="29" x2="1435.5" y2="642" stroke="#aaa" stroke-width="1.2" stroke-dasharray="1.5,1.5"/>
<line x1="1099" y1="145.46" x2="1104" y2="145.46" stroke="#555" stroke-width="1.3"/>
<text x="1092.5" y="150.66" font-family="'Liberation Sans', Arial, sans-serif" font-size="14" text-anchor="end" fill="#333" stroke="#333" stroke-width="0.35">0.2</text>
<line x1="1099" y1="267.4" x2="1104" y2="267.4" stroke="#555" stroke-width="1.3"/>
<text x="1092.5" y="272.6" font-family="'Liberation Sans', Arial, sans-serif" font-size="14" text-anchor="end" fill="#333" stroke="#333" stroke-width="0.35">0.0</text>
<line x1="1099" y1="389.34" x2="1104" y2="389.34" stroke="#555" stroke-width="1.3"/>
<text x="1092.5" y="394.54" font-family="'Liberation Sans', Arial, sans-serif" font-size="14" text-anchor="end" fill="#333" stroke="#333" stroke-width="0.35">-0.2</text>
<line x1="1099" y1="511.28" x2="1104" y2="511.28" stroke="#555" stroke-width="1.3"/>
<text x="1092.5" y="516.48" font-family="'Liberation Sans', Arial, sans-serif" font-size="14" text-anchor="end" fill="#333" stroke="#333" stroke-width="0.35">-0.4</text>
<line x1="1099" y1="633.22" x2="1104" y2="633.22" stroke="#555" stroke-width="1.3"/>
<text x="1092.5" y="638.42" font-family="'Liberation Sans', Arial, sans-serif" font-size="14" text-anchor="end" fill="#333" stroke="#333" stroke-width="0.35">-0.6</text>
<line x1="1222.18" y1="642" x2="1222.18" y2="647" stroke="#555" stroke-width="1.3"/>
<text x="1222.18" y="664" font-family="'Liberation Sans', Arial, sans-serif" font-size="14" text-anchor="middle" fill="#333" stroke="#333" stroke-width="0.35">-0.4</text>
<line x1="1435.5" y1="642" x2="1435.5" y2="647" stroke="#555" stroke-width="1.3"/>
<text x="1435.5" y="664" font-family="'Liberation Sans', Arial, sans-serif" font-size="14" text-anchor="middle" fill="#333" stroke="#333" stroke-width="0.35">0.0</text>
<line x1="1648.82" y1="642" x2="1648.82" y2="647" stroke="#555" stroke-width="1.3"/>
<text x="1648.82" y="664" font-family="'Liberation Sans', Arial, sans-serif" font-size="14" text-anchor="middle" fill="#333" stroke="#333" stroke-width="0.35">0.4</text>
<text x="1467" y="26.5" font-family="'Liberation Sans', Arial, sans-serif" font-size="17.5" font-weight="bold" text-anchor="middle" fill="#222">PCoA - PC1 vs PC2</text>
<text x="1466.6" y="676.5" font-family="'Liberation Sans', Arial, sans-serif" font-size="14.2" text-anchor="middle" fill="#333">PC1 ( 17.9% )</text>
<text transform="translate(1066.5 335) rotate(-90)" font-family="'Liberation Sans', Arial, sans-serif" font-size="14.2" text-anchor="middle" fill="#333">PC2 ( 14.16% )</text>
<ellipse cx="1427.8" cy="127.6" rx="294.86" ry="48.81" transform="rotate(169.83 1427.8 127.6)" fill="none" stroke="#5ec8c0" stroke-width="1.9"/>
<ellipse cx="1318.1" cy="202.1" rx="142.71" ry="36.35" transform="rotate(90.77 1318.1 202.1)" fill="none" stroke="#e0567a" stroke-width="1.9"/>
<ellipse cx="1578" cy="307.3" rx="228.51" ry="102.03" transform="rotate(162.26 1578 307.3)" fill="none" stroke="#fbb54a" stroke-width="1.9"/>
<ellipse cx="1391.5" cy="439.2" rx="253.49" ry="137.23" transform="rotate(149.8 1391.5 439.2)" fill="none" stroke="#5555ee" stroke-width="1.9"/>
<rect x="1316.3" y="116.8" width="10.4" height="10.4" fill="#DC143C"/>
<rect x="1313.6" y="150.6" width="10.4" height="10.4" fill="#DC143C"/>
<rect x="1307.3" y="160" width="10.4" height="10.4" fill="#DC143C"/>
<rect x="1339.3" y="180.1" width="10.4" height="10.4" fill="#DC143C"/>
<rect x="1304.8" y="196.2" width="10.4" height="10.4" fill="#DC143C"/>
<rect x="1303.2" y="210.4" width="10.4" height="10.4" fill="#DC143C"/>
<rect x="1310.8" y="231.9" width="10.4" height="10.4" fill="#DC143C"/>
<rect x="1313.6" y="237.6" width="10.4" height="10.4" fill="#DC143C"/>
<rect x="1310.8" y="246.4" width="10.4" height="10.4" fill="#DC143C"/>
<rect x="1495.5" y="110.5" width="10.4" height="10.4" fill="#DC143C"/>
<rect x="1325" y="365.6" width="10.4" height="10.4" fill="#DC143C"/>
<circle cx="1312.9" cy="360.5" r="5.3" fill="#0000FF"/>
<circle cx="1323.7" cy="370.8" r="5.3" fill="#0000FF"/>
<circle cx="1334.8" cy="420.8" r="5.3" fill="#0000FF"/>
<circle cx="1376.2" cy="434.1" r="5.3" fill="#0000FF"/>
<circle cx="1359.2" cy="480.8" r="5.3" fill="#0000FF"/>
<circle cx="1356.6" cy="494.4" r="5.3" fill="#0000FF"/>
<circle cx="1369.7" cy="504.3" r="5.3" fill="#0000FF"/>
<circle cx="1378.9" cy="499.3" r="5.3" fill="#0000FF"/>
<circle cx="1385.8" cy="503.2" r="5.3" fill="#0000FF"/>
<circle cx="1452.1" cy="363.7" r="5.3" fill="#0000FF"/>
<circle cx="1654.7" cy="316.1" r="5.3" fill="#0000FF"/>
<circle cx="1630.5" cy="341.8" r="5.3" fill="#0000FF"/>
<path d="M1312.1,115.5 L1318.7,126.7 L1305.5,126.7Z" fill="#20B2AA"/>
<path d="M1345.2,132.7 L1351.8,143.9 L1338.6,143.9Z" fill="#20B2AA"/>
<path d="M1308.4,140.8 L1315,152 L1301.8,152Z" fill="#20B2AA"/>
<path d="M1313.5,140.8 L1320.1,152 L1306.9,152Z" fill="#20B2AA"/>
<path d="M1316.5,158.7 L1323.1,169.9 L1309.9,169.9Z" fill="#20B2AA"/>
<path d="M1541,68.9 L1547.6,80.1 L1534.4,80.1Z" fill="#20B2AA"/>
<path d="M1541.8,86.1 L1548.4,97.3 L1535.2,97.3Z" fill="#20B2AA"/>
<path d="M1520,105.1 L1526.6,116.3 L1513.4,116.3Z" fill="#20B2AA"/>
<path d="M1558.8,104.5 L1565.4,115.7 L1552.2,115.7Z" fill="#20B2AA"/>
<path d="M1559.1,120.1 L1565.7,131.3 L1552.5,131.3Z" fill="#20B2AA"/>
<path d="M1425.9,112 L1432.5,123.2 L1419.3,123.2Z" fill="#20B2AA"/>
<path d="M1423.6,169.6 L1430.2,180.8 L1417,180.8Z" fill="#20B2AA"/>
<path d="M1506.4,248.1 L1511.6,253.3 L1506.4,258.5 L1501.2,253.3Z" fill="#FF9900"/>
<path d="M1494.9,278.8 L1500.1,284 L1494.9,289.2 L1489.7,284Z" fill="#FF9900"/>
<path d="M1602.9,269.2 L1608.1,274.4 L1602.9,279.6 L1597.7,274.4Z" fill="#FF9900"/>
<path d="M1613.5,273.4 L1618.7,278.6 L1613.5,283.8 L1608.3,278.6Z" fill="#FF9900"/>
<path d="M1620.4,273.1 L1625.6,278.3 L1620.4,283.5 L1615.2,278.3Z" fill="#FF9900"/>
<path d="M1646.5,285 L1651.7,290.2 L1646.5,295.4 L1641.3,290.2Z" fill="#FF9900"/>
<path d="M1665.2,301.2 L1670.4,306.4 L1665.2,311.6 L1660,306.4Z" fill="#FF9900"/>
<path d="M1671,314.5 L1676.2,319.7 L1671,324.9 L1665.8,319.7Z" fill="#FF9900"/>
<path d="M1508.5,316.6 L1513.7,321.8 L1508.5,327 L1503.3,321.8Z" fill="#FF9900"/>
<path d="M1588.4,359.2 L1593.6,364.4 L1588.4,369.6 L1583.2,364.4Z" fill="#FF9900"/>
<path d="M1421.3,391.6 L1426.5,396.8 L1421.3,402 L1416.1,396.8Z" fill="#FF9900"/>
<path d="M1425.2,405.9 L1430.4,411.1 L1425.2,416.3 L1420,411.1Z" fill="#FF9900"/>
<rect x="1844.1" y="311.7" width="10" height="10" fill="#DC143C"/>
<circle cx="1849.1" cy="330.4" r="5.2" fill="#0000FF"/>
<path d="M1849.1,337.8 L1855.5,348.7 L1842.7,348.7Z" fill="#20B2AA"/>
<path d="M1849.1,352.9 L1854.1,357.9 L1849.1,362.9 L1844.1,357.9Z" fill="#FF9900"/>
<text x="1857.5" y="321.9" font-family="'Liberation Sans', Arial, sans-serif" font-size="14" fill="#222">YM</text>
<text x="1857.5" y="335.6" font-family="'Liberation Sans', Arial, sans-serif" font-size="14" fill="#222">YG</text>
<text x="1857.5" y="349.3" font-family="'Liberation Sans', Arial, sans-serif" font-size="14" fill="#222">SM</text>
<text x="1857.5" y="363.1" font-family="'Liberation Sans', Arial, sans-serif" font-size="14" fill="#222">SG</text>
<rect x="47" y="785.7" width="438.9" height="446.1" fill="#E5E5E5"/>
<line x1="47" y1="1192.45" x2="485.9" y2="1192.45" stroke="#EEEEEE" stroke-width="0.9"/>
<line x1="47" y1="1108.15" x2="485.9" y2="1108.15" stroke="#EEEEEE" stroke-width="0.9"/>
<line x1="47" y1="1023.85" x2="485.9" y2="1023.85" stroke="#EEEEEE" stroke-width="0.9"/>
<line x1="47" y1="939.55" x2="485.9" y2="939.55" stroke="#EEEEEE" stroke-width="0.9"/>
<line x1="47" y1="855.25" x2="485.9" y2="855.25" stroke="#EEEEEE" stroke-width="0.9"/>
<line x1="47" y1="1150.3" x2="485.9" y2="1150.3" stroke="#fff" stroke-width="2"/>
<line x1="43" y1="1150.3" x2="47" y2="1150.3" stroke="#333" stroke-width="1"/>
<text x="39" y="1153.9" font-family="'Liberation Sans', Arial, sans-serif" font-size="10" text-anchor="end" fill="#777">500</text>
<line x1="47" y1="1066" x2="485.9" y2="1066" stroke="#fff" stroke-width="2"/>
<line x1="43" y1="1066" x2="47" y2="1066" stroke="#333" stroke-width="1"/>
<text x="39" y="1069.6" font-family="'Liberation Sans', Arial, sans-serif" font-size="10" text-anchor="end" fill="#777">1000</text>
<line x1="47" y1="981.7" x2="485.9" y2="981.7" stroke="#fff" stroke-width="2"/>
<line x1="43" y1="981.7" x2="47" y2="981.7" stroke="#333" stroke-width="1"/>
<text x="39" y="985.3" font-family="'Liberation Sans', Arial, sans-serif" font-size="10" text-anchor="end" fill="#777">1500</text>
<line x1="47" y1="897.4" x2="485.9" y2="897.4" stroke="#fff" stroke-width="2"/>
<line x1="43" y1="897.4" x2="47" y2="897.4" stroke="#333" stroke-width="1"/>
<text x="39" y="901" font-family="'Liberation Sans', Arial, sans-serif" font-size="10" text-anchor="end" fill="#777">2000</text>
<line x1="47" y1="813.1" x2="485.9" y2="813.1" stroke="#fff" stroke-width="2"/>
<line x1="43" y1="813.1" x2="47" y2="813.1" stroke="#333" stroke-width="1"/>
<text x="39" y="816.7" font-family="'Liberation Sans', Arial, sans-serif" font-size="10" text-anchor="end" fill="#777">2500</text>
<line x1="109.4" y1="785.7" x2="109.4" y2="1231.8" stroke="#fff" stroke-width="2"/>
<line x1="214" y1="785.7" x2="214" y2="1231.8" stroke="#fff" stroke-width="2"/>
<line x1="318.9" y1="785.7" x2="318.9" y2="1231.8" stroke="#fff" stroke-width="2"/>
<line x1="423.2" y1="785.7" x2="423.2" y2="1231.8" stroke="#fff" stroke-width="2"/>
<line x1="109.4" y1="1117.9" x2="109.4" y2="1188.6" stroke="#333" stroke-width="1.1"/>
<rect x="70.1" y="1137.3" width="78.6" height="32.4" fill="#DC143C" stroke="#333" stroke-width="1.1"/>
<line x1="70.1" y1="1149.8" x2="148.7" y2="1149.8" stroke="#333" stroke-width="2.2"/>
<circle cx="109.4" cy="1014.9" r="2.2" fill="#000"/>
<line x1="214" y1="1097.2" x2="214" y2="1183.9" stroke="#333" stroke-width="1.1"/>
<rect x="174.7" y="1117.1" width="78.6" height="42.2" fill="#0000FF" stroke="#333" stroke-width="1.1"/>
<line x1="174.7" y1="1146.9" x2="253.3" y2="1146.9" stroke="#333" stroke-width="2.2"/>
<circle cx="214" cy="890" r="2.2" fill="#000"/>
<circle cx="214" cy="929.4" r="2.2" fill="#000"/>
<line x1="318.9" y1="846" x2="318.9" y2="1161.9" stroke="#333" stroke-width="1.1"/>
<rect x="279.6" y="903.5" width="78.6" height="242.9" fill="#20B2AA" stroke="#333" stroke-width="1.1"/>
<line x1="279.6" y1="1068.2" x2="358.2" y2="1068.2" stroke="#333" stroke-width="2.2"/>
<line x1="423.2" y1="819.4" x2="423.2" y2="1211.1" stroke="#333" stroke-width="1.1"/>
<rect x="383.9" y="904.5" width="78.6" height="206.9" fill="#FFA500" stroke="#333" stroke-width="1.1"/>
<line x1="383.9" y1="1012.5" x2="462.5" y2="1012.5" stroke="#333" stroke-width="2.2"/>
<line x1="109.4" y1="806.4" x2="423.2" y2="806.4" stroke="#000" stroke-width="2.6"/>
<text x="266.6" y="808.8" font-family="'Liberation Sans', Arial, sans-serif" font-size="10.5" font-weight="bold" text-anchor="middle" fill="#333">**</text>
<line x1="214" y1="812.6" x2="423.2" y2="812.6" stroke="#000" stroke-width="2.6"/>
<text x="318.9" y="815" font-family="'Liberation Sans', Arial, sans-serif" font-size="10.5" font-weight="bold" text-anchor="middle" fill="#333">*</text>
<line x1="109.4" y1="840.1" x2="318.9" y2="840.1" stroke="#000" stroke-width="2.6"/>
<text x="214" y="842.5" font-family="'Liberation Sans', Arial, sans-serif" font-size="10.5" font-weight="bold" text-anchor="middle" fill="#333">**</text>
<line x1="109.4" y1="1231.8" x2="109.4" y2="1235.8" stroke="#333" stroke-width="1"/>
<text transform="translate(112.9 1243.8) rotate(-45)" font-family="'Liberation Sans', Arial, sans-serif" font-size="10" text-anchor="end" fill="#888">YM</text>
<line x1="214" y1="1231.8" x2="214" y2="1235.8" stroke="#333" stroke-width="1"/>
<text transform="translate(217.5 1243.8) rotate(-45)" font-family="'Liberation Sans', Arial, sans-serif" font-size="10" text-anchor="end" fill="#888">YG</text>
<line x1="318.9" y1="1231.8" x2="318.9" y2="1235.8" stroke="#333" stroke-width="1"/>
<text transform="translate(322.4 1243.8) rotate(-45)" font-family="'Liberation Sans', Arial, sans-serif" font-size="10" text-anchor="end" fill="#888">SM</text>
<line x1="423.2" y1="1231.8" x2="423.2" y2="1235.8" stroke="#333" stroke-width="1"/>
<text transform="translate(426.7 1243.8) rotate(-45)" font-family="'Liberation Sans', Arial, sans-serif" font-size="10" text-anchor="end" fill="#888">SG</text>
<text x="266.45" y="1268" font-family="'Liberation Sans', Arial, sans-serif" font-size="11.4" text-anchor="middle" fill="#222" stroke="#222" stroke-width="0.45">Group.name</text>
<text transform="translate(15.5 1010) rotate(-90)" font-family="'Liberation Sans', Arial, sans-serif" font-size="11" text-anchor="middle" fill="#222" stroke="#222" stroke-width="0.45">chao1</text>
<rect x="537.4" y="786.3" width="456.8" height="443.9" fill="#E5E5E5"/>
<line x1="537.4" y1="1168" x2="994.2" y2="1168" stroke="#EEEEEE" stroke-width="0.9"/>
<line x1="537.4" y1="1041.8" x2="994.2" y2="1041.8" stroke="#EEEEEE" stroke-width="0.9"/>
<line x1="537.4" y1="915.6" x2="994.2" y2="915.6" stroke="#EEEEEE" stroke-width="0.9"/>
<line x1="537.4" y1="789.4" x2="994.2" y2="789.4" stroke="#EEEEEE" stroke-width="0.9"/>
<line x1="537.4" y1="1231.1" x2="994.2" y2="1231.1" stroke="#fff" stroke-width="2"/>
<line x1="533.4" y1="1231.1" x2="537.4" y2="1231.1" stroke="#333" stroke-width="1"/>
<text x="529.4" y="1234.7" font-family="'Liberation Sans', Arial, sans-serif" font-size="10" text-anchor="end" fill="#777">0</text>
<line x1="537.4" y1="1104.9" x2="994.2" y2="1104.9" stroke="#fff" stroke-width="2"/>
<line x1="533.4" y1="1104.9" x2="537.4" y2="1104.9" stroke="#333" stroke-width="1"/>
<text x="529.4" y="1108.5" font-family="'Liberation Sans', Arial, sans-serif" font-size="10" text-anchor="end" fill="#777">2</text>
<line x1="537.4" y1="978.7" x2="994.2" y2="978.7" stroke="#fff" stroke-width="2"/>
<line x1="533.4" y1="978.7" x2="537.4" y2="978.7" stroke="#333" stroke-width="1"/>
<text x="529.4" y="982.3" font-family="'Liberation Sans', Arial, sans-serif" font-size="10" text-anchor="end" fill="#777">4</text>
<line x1="537.4" y1="852.5" x2="994.2" y2="852.5" stroke="#fff" stroke-width="2"/>
<line x1="533.4" y1="852.5" x2="537.4" y2="852.5" stroke="#333" stroke-width="1"/>
<text x="529.4" y="856.1" font-family="'Liberation Sans', Arial, sans-serif" font-size="10" text-anchor="end" fill="#777">6</text>
<line x1="602.1" y1="786.3" x2="602.1" y2="1230.2" stroke="#fff" stroke-width="2"/>
<line x1="711.4" y1="786.3" x2="711.4" y2="1230.2" stroke="#fff" stroke-width="2"/>
<line x1="820.2" y1="786.3" x2="820.2" y2="1230.2" stroke="#fff" stroke-width="2"/>
<line x1="929.2" y1="786.3" x2="929.2" y2="1230.2" stroke="#fff" stroke-width="2"/>
<line x1="602.1" y1="928.2" x2="602.1" y2="1128.1" stroke="#333" stroke-width="1.1"/>
<rect x="561.2" y="984.8" width="81.8" height="101.6" fill="#DC143C" stroke="#333" stroke-width="1.1"/>
<line x1="561.2" y1="1039.8" x2="643" y2="1039.8" stroke="#333" stroke-width="2.2"/>
<line x1="711.4" y1="920.1" x2="711.4" y2="1015.9" stroke="#333" stroke-width="1.1"/>
<rect x="670.5" y="941.7" width="81.8" height="51.2" fill="#0000FF" stroke="#333" stroke-width="1.1"/>
<line x1="670.5" y1="968.4" x2="752.3" y2="968.4" stroke="#333" stroke-width="2.2"/>
<circle cx="711.4" cy="849.6" r="2.2" fill="#000"/>
<line x1="820.2" y1="866.3" x2="820.2" y2="982.8" stroke="#333" stroke-width="1.1"/>
<rect x="779.3" y="906.6" width="81.8" height="52.6" fill="#20B2AA" stroke="#333" stroke-width="1.1"/>
<line x1="779.3" y1="921.8" x2="861.1" y2="921.8" stroke="#333" stroke-width="2.2"/>
<line x1="929.2" y1="813.1" x2="929.2" y2="1212.1" stroke="#333" stroke-width="1.1"/>
<rect x="888.3" y="931" width="81.8" height="114.5" fill="#FFA500" stroke="#333" stroke-width="1.1"/>
<line x1="888.3" y1="954.6" x2="970.1" y2="954.6" stroke="#333" stroke-width="2.2"/>
<line x1="602.1" y1="843.5" x2="711.4" y2="843.5" stroke="#000" stroke-width="2.6"/>
<text x="656.8" y="845.9" font-family="'Liberation Sans', Arial, sans-serif" font-size="10.5" font-weight="bold" text-anchor="middle" fill="#333">*</text>
<line x1="602.1" y1="849.3" x2="820.2" y2="849.3" stroke="#000" stroke-width="2.6"/>
<text x="711.4" y="851.7" font-family="'Liberation Sans', Arial, sans-serif" font-size="10.5" font-weight="bold" text-anchor="middle" fill="#333">***</text>
<line x1="820.2" y1="805.9" x2="929.2" y2="805.9" stroke="#000" stroke-width="2.6"/>
<text x="874.7" y="808.3" font-family="'Liberation Sans', Arial, sans-serif" font-size="10.5" font-weight="bold" text-anchor="middle" fill="#333">*</text>
<line x1="602.1" y1="1230.2" x2="602.1" y2="1234.2" stroke="#333" stroke-width="1"/>
<text transform="translate(605.6 1242.2) rotate(-45)" font-family="'Liberation Sans', Arial, sans-serif" font-size="10" text-anchor="end" fill="#888">YM</text>
<line x1="711.4" y1="1230.2" x2="711.4" y2="1234.2" stroke="#333" stroke-width="1"/>
<text transform="translate(714.9 1242.2) rotate(-45)" font-family="'Liberation Sans', Arial, sans-serif" font-size="10" text-anchor="end" fill="#888">YG</text>
<line x1="820.2" y1="1230.2" x2="820.2" y2="1234.2" stroke="#333" stroke-width="1"/>
<text transform="translate(823.7 1242.2) rotate(-45)" font-family="'Liberation Sans', Arial, sans-serif" font-size="10" text-anchor="end" fill="#888">SM</text>
<line x1="929.2" y1="1230.2" x2="929.2" y2="1234.2" stroke="#333" stroke-width="1"/>
<text transform="translate(932.7 1242.2) rotate(-45)" font-family="'Liberation Sans', Arial, sans-serif" font-size="10" text-anchor="end" fill="#888">SG</text>
<text x="765.8" y="1273" font-family="'Liberation Sans', Arial, sans-serif" font-size="11.4" text-anchor="middle" fill="#222" stroke="#222" stroke-width="0.45">Group.name</text>
<text transform="translate(520.5 1010) rotate(-90)" font-family="'Liberation Sans', Arial, sans-serif" font-size="11" text-anchor="middle" fill="#222" stroke="#222" stroke-width="0.45">shannon</text>
<rect x="1051.8" y="785.8" width="442.4" height="446.8" fill="#E5E5E5"/>
<line x1="1051.8" y1="1184.65" x2="1494.2" y2="1184.65" stroke="#EEEEEE" stroke-width="0.9"/>
<line x1="1051.8" y1="1071.75" x2="1494.2" y2="1071.75" stroke="#EEEEEE" stroke-width="0.9"/>
<line x1="1051.8" y1="958.85" x2="1494.2" y2="958.85" stroke="#EEEEEE" stroke-width="0.9"/>
<line x1="1051.8" y1="845.95" x2="1494.2" y2="845.95" stroke="#EEEEEE" stroke-width="0.9"/>
<line x1="1051.8" y1="1128.2" x2="1494.2" y2="1128.2" stroke="#fff" stroke-width="2"/>
<line x1="1047.8" y1="1128.2" x2="1051.8" y2="1128.2" stroke="#333" stroke-width="1"/>
<text x="1043.8" y="1131.8" font-family="'Liberation Sans', Arial, sans-serif" font-size="10" text-anchor="end" fill="#777">0.25</text>
<line x1="1051.8" y1="1015.3" x2="1494.2" y2="1015.3" stroke="#fff" stroke-width="2"/>
<line x1="1047.8" y1="1015.3" x2="1051.8" y2="1015.3" stroke="#333" stroke-width="1"/>
<text x="1043.8" y="1018.9" font-family="'Liberation Sans', Arial, sans-serif" font-size="10" text-anchor="end" fill="#777">0.50</text>
<line x1="1051.8" y1="902.4" x2="1494.2" y2="902.4" stroke="#fff" stroke-width="2"/>
<line x1="1047.8" y1="902.4" x2="1051.8" y2="902.4" stroke="#333" stroke-width="1"/>
<text x="1043.8" y="906" font-family="'Liberation Sans', Arial, sans-serif" font-size="10" text-anchor="end" fill="#777">0.75</text>
<line x1="1051.8" y1="789.5" x2="1494.2" y2="789.5" stroke="#fff" stroke-width="2"/>
<line x1="1047.8" y1="789.5" x2="1051.8" y2="789.5" stroke="#333" stroke-width="1"/>
<text x="1043.8" y="793.1" font-family="'Liberation Sans', Arial, sans-serif" font-size="10" text-anchor="end" fill="#777">1.00</text>
<line x1="1114.5" y1="785.8" x2="1114.5" y2="1232.6" stroke="#fff" stroke-width="2"/>
<line x1="1220.1" y1="785.8" x2="1220.1" y2="1232.6" stroke="#fff" stroke-width="2"/>
<line x1="1325.1" y1="785.8" x2="1325.1" y2="1232.6" stroke="#fff" stroke-width="2"/>
<line x1="1430.7" y1="785.8" x2="1430.7" y2="1232.6" stroke="#fff" stroke-width="2"/>
<line x1="1114.5" y1="833.9" x2="1114.5" y2="1045.6" stroke="#333" stroke-width="1.1"/>
<rect x="1075.2" y="904.3" width="78.6" height="70.8" fill="#DC143C" stroke="#333" stroke-width="1.1"/>
<line x1="1075.2" y1="945.5" x2="1153.8" y2="945.5" stroke="#333" stroke-width="2.2"/>
<line x1="1220.1" y1="817.5" x2="1220.1" y2="920.2" stroke="#333" stroke-width="1.1"/>
<rect x="1180.8" y="839.9" width="78.6" height="49.5" fill="#0000FF" stroke="#333" stroke-width="1.1"/>
<line x1="1180.8" y1="868.4" x2="1259.4" y2="868.4" stroke="#333" stroke-width="2.2"/>
<line x1="1325.1" y1="828.4" x2="1325.1" y2="862.1" stroke="#333" stroke-width="1.1"/>
<rect x="1285.8" y="842.5" width="78.6" height="10.9" fill="#20B2AA" stroke="#333" stroke-width="1.1"/>
<line x1="1285.8" y1="844.2" x2="1364.4" y2="844.2" stroke="#333" stroke-width="2.2"/>
<line x1="1430.7" y1="810.3" x2="1430.7" y2="990.1" stroke="#333" stroke-width="1.1"/>
<rect x="1391.4" y="852.6" width="78.6" height="76.2" fill="#FFA500" stroke="#333" stroke-width="1.1"/>
<line x1="1391.4" y1="870.7" x2="1470" y2="870.7" stroke="#333" stroke-width="2.2"/>
<circle cx="1430.7" cy="1211.6" r="2.2" fill="#000"/>
<line x1="1114.5" y1="810.3" x2="1220.1" y2="810.3" stroke="#000" stroke-width="2.6"/>
<text x="1166.9" y="812.7" font-family="'Liberation Sans', Arial, sans-serif" font-size="10.5" font-weight="bold" text-anchor="middle" fill="#333">*</text>
<line x1="1114.5" y1="814" x2="1325.1" y2="814" stroke="#000" stroke-width="2.6"/>
<text x="1221.5" y="816.4" font-family="'Liberation Sans', Arial, sans-serif" font-size="10.5" font-weight="bold" text-anchor="middle" fill="#333">***</text>
<line x1="1325.1" y1="806" x2="1430.7" y2="806" stroke="#000" stroke-width="2.6"/>
<text x="1378.3" y="808.4" font-family="'Liberation Sans', Arial, sans-serif" font-size="10.5" font-weight="bold" text-anchor="middle" fill="#333">*</text>
<line x1="1114.5" y1="1232.6" x2="1114.5" y2="1236.6" stroke="#333" stroke-width="1"/>
<text transform="translate(1118 1244.6) rotate(-45)" font-family="'Liberation Sans', Arial, sans-serif" font-size="10" text-anchor="end" fill="#888">YM</text>
<line x1="1220.1" y1="1232.6" x2="1220.1" y2="1236.6" stroke="#333" stroke-width="1"/>
<text transform="translate(1223.6 1244.6) rotate(-45)" font-family="'Liberation Sans', Arial, sans-serif" font-size="10" text-anchor="end" fill="#888">YG</text>
<line x1="1325.1" y1="1232.6" x2="1325.1" y2="1236.6" stroke="#333" stroke-width="1"/>
<text transform="translate(1328.6 1244.6) rotate(-45)" font-family="'Liberation Sans', Arial, sans-serif" font-size="10" text-anchor="end" fill="#888">SM</text>
<line x1="1430.7" y1="1232.6" x2="1430.7" y2="1236.6" stroke="#333" stroke-width="1"/>
<text transform="translate(1434.2 1244.6) rotate(-45)" font-family="'Liberation Sans', Arial, sans-serif" font-size="10" text-anchor="end" fill="#888">SG</text>
<text x="1273" y="1268" font-family="'Liberation Sans', Arial, sans-serif" font-size="11.4" text-anchor="middle" fill="#222" stroke="#222" stroke-width="0.45">Group.name</text>
<text transform="translate(1021.5 1008.8) rotate(-90)" font-family="'Liberation Sans', Arial, sans-serif" font-size="11" text-anchor="middle" fill="#222" stroke="#222" stroke-width="0.45">simpson</text>
<rect x="1556.1" y="785.8" width="439.3" height="445.9" fill="#E5E5E5"/>
<line x1="1556.1" y1="1155.75" x2="1995.4" y2="1155.75" stroke="#EEEEEE" stroke-width="0.9"/>
<line x1="1556.1" y1="999.85" x2="1995.4" y2="999.85" stroke="#EEEEEE" stroke-width="0.9"/>
<line x1="1556.1" y1="843.95" x2="1995.4" y2="843.95" stroke="#EEEEEE" stroke-width="0.9"/>
<line x1="1556.1" y1="1077.8" x2="1995.4" y2="1077.8" stroke="#fff" stroke-width="2"/>
<line x1="1552.1" y1="1077.8" x2="1556.1" y2="1077.8" stroke="#333" stroke-width="1"/>
<text x="1548.1" y="1081.4" font-family="'Liberation Sans', Arial, sans-serif" font-size="10" text-anchor="end" fill="#777">1000</text>
<line x1="1556.1" y1="921.9" x2="1995.4" y2="921.9" stroke="#fff" stroke-width="2"/>
<line x1="1552.1" y1="921.9" x2="1556.1" y2="921.9" stroke="#333" stroke-width="1"/>
<text x="1548.1" y="925.5" font-family="'Liberation Sans', Arial, sans-serif" font-size="10" text-anchor="end" fill="#777">2000</text>
<line x1="1618" y1="785.8" x2="1618" y2="1231.7" stroke="#fff" stroke-width="2"/>
<line x1="1722.4" y1="785.8" x2="1722.4" y2="1231.7" stroke="#fff" stroke-width="2"/>
<line x1="1828" y1="785.8" x2="1828" y2="1231.7" stroke="#fff" stroke-width="2"/>
<line x1="1932.1" y1="785.8" x2="1932.1" y2="1231.7" stroke="#fff" stroke-width="2"/>
<line x1="1618" y1="1126.2" x2="1618" y2="1190.6" stroke="#333" stroke-width="1.1"/>
<rect x="1578.5" y="1144" width="79" height="28.2" fill="#DC143C" stroke="#333" stroke-width="1.1"/>
<line x1="1578.5" y1="1153.2" x2="1657.5" y2="1153.2" stroke="#333" stroke-width="2.2"/>
<circle cx="1618" cy="1022.9" r="2.2" fill="#000"/>
<line x1="1722.4" y1="1104.3" x2="1722.4" y2="1187.2" stroke="#333" stroke-width="1.1"/>
<rect x="1682.9" y="1124.7" width="79" height="39.4" fill="#0000FF" stroke="#333" stroke-width="1.1"/>
<line x1="1682.9" y1="1152.6" x2="1761.9" y2="1152.6" stroke="#333" stroke-width="2.2"/>
<circle cx="1722.4" cy="906.9" r="2.2" fill="#000"/>
<circle cx="1722.4" cy="946.6" r="2.2" fill="#000"/>
<line x1="1828" y1="867.2" x2="1828" y2="1166.4" stroke="#333" stroke-width="1.1"/>
<rect x="1788.5" y="924.8" width="79" height="227.8" fill="#20B2AA" stroke="#333" stroke-width="1.1"/>
<line x1="1788.5" y1="1079.6" x2="1867.5" y2="1079.6" stroke="#333" stroke-width="2.2"/>
<line x1="1932.1" y1="819.8" x2="1932.1" y2="1211.6" stroke="#333" stroke-width="1.1"/>
<rect x="1892.6" y="922.8" width="79" height="189.5" fill="#FFA500" stroke="#333" stroke-width="1.1"/>
<line x1="1892.6" y1="1023.7" x2="1971.6" y2="1023.7" stroke="#333" stroke-width="2.2"/>
<line x1="1618" y1="806" x2="1932.1" y2="806" stroke="#000" stroke-width="2.6"/>
<text x="1774.7" y="808.4" font-family="'Liberation Sans', Arial, sans-serif" font-size="10.5" font-weight="bold" text-anchor="middle" fill="#333">**</text>
<line x1="1722.4" y1="812.6" x2="1932.1" y2="812.6" stroke="#000" stroke-width="2.6"/>
<text x="1828" y="815" font-family="'Liberation Sans', Arial, sans-serif" font-size="10.5" font-weight="bold" text-anchor="middle" fill="#333">*</text>
<line x1="1618" y1="860.6" x2="1828" y2="860.6" stroke="#000" stroke-width="2.6"/>
<text x="1722.4" y="863" font-family="'Liberation Sans', Arial, sans-serif" font-size="10.5" font-weight="bold" text-anchor="middle" fill="#333">**</text>
<line x1="1618" y1="1231.7" x2="1618" y2="1235.7" stroke="#333" stroke-width="1"/>
<text transform="translate(1621.5 1243.7) rotate(-45)" font-family="'Liberation Sans', Arial, sans-serif" font-size="10" text-anchor="end" fill="#888">YM</text>
<line x1="1722.4" y1="1231.7" x2="1722.4" y2="1235.7" stroke="#333" stroke-width="1"/>
<text transform="translate(1725.9 1243.7) rotate(-45)" font-family="'Liberation Sans', Arial, sans-serif" font-size="10" text-anchor="end" fill="#888">YG</text>
<line x1="1828" y1="1231.7" x2="1828" y2="1235.7" stroke="#333" stroke-width="1"/>
<text transform="translate(1831.5 1243.7) rotate(-45)" font-family="'Liberation Sans', Arial, sans-serif" font-size="10" text-anchor="end" fill="#888">SM</text>
<line x1="1932.1" y1="1231.7" x2="1932.1" y2="1235.7" stroke="#333" stroke-width="1"/>
<text transform="translate(1935.6 1243.7) rotate(-45)" font-family="'Liberation Sans', Arial, sans-serif" font-size="10" text-anchor="end" fill="#888">SG</text>
<text x="1775.75" y="1268" font-family="'Liberation Sans', Arial, sans-serif" font-size="11.4" text-anchor="middle" fill="#222" stroke="#222" stroke-width="0.45">Group.name</text>
<text transform="translate(1522.5 1008.8) rotate(-90)" font-family="'Liberation Sans', Arial, sans-serif" font-size="11" text-anchor="middle" fill="#222" stroke="#222" stroke-width="0.45">ACE</text>
<line x1="127.2" y1="1717.68" x2="1147.3" y2="1717.68" stroke="#999" stroke-width="1.5" stroke-dasharray="3.5,3.5"/>
<line x1="127.2" y1="1617.95" x2="1147.3" y2="1617.95" stroke="#999" stroke-width="1.5" stroke-dasharray="3.5,3.5"/>
<line x1="127.2" y1="1518.22" x2="1147.3" y2="1518.22" stroke="#999" stroke-width="1.5" stroke-dasharray="3.5,3.5"/>
<rect x="131.5" y="1492.4" width="11.8" height="325.25" fill="#DC143C"/>
<rect x="131.5" y="1453.55" width="11.8" height="39.1" fill="#0000FF"/>
<rect x="131.5" y="1453.16" width="11.8" height="0.64" fill="#20B2AA"/>
<rect x="131.5" y="1451.79" width="11.8" height="1.62" fill="#FFA500"/>
<rect x="131.5" y="1420.79" width="11.8" height="31.25" fill="#9370DB"/>
<rect x="131.5" y="1417.85" width="11.8" height="3.19" fill="#FFFF00"/>
<rect x="152.78" y="1472.39" width="11.8" height="345.26" fill="#DC143C"/>
<rect x="152.78" y="1439.04" width="11.8" height="33.6" fill="#0000FF"/>
<rect x="152.78" y="1436.09" width="11.8" height="3.19" fill="#20B2AA"/>
<rect x="152.78" y="1420.79" width="11.8" height="15.55" fill="#9370DB"/>
<rect x="152.78" y="1417.85" width="11.8" height="3.19" fill="#FFFF00"/>
<rect x="174.06" y="1468.07" width="11.8" height="349.58" fill="#DC143C"/>
<rect x="174.06" y="1436.68" width="11.8" height="31.64" fill="#0000FF"/>
<rect x="174.06" y="1434.13" width="11.8" height="2.8" fill="#20B2AA"/>
<rect x="174.06" y="1420.79" width="11.8" height="13.59" fill="#9370DB"/>
<rect x="174.06" y="1417.85" width="11.8" height="3.19" fill="#FFFF00"/>
<rect x="195.34" y="1450.81" width="11.8" height="366.84" fill="#DC143C"/>
<rect x="195.34" y="1434.52" width="11.8" height="16.53" fill="#0000FF"/>
<rect x="195.34" y="1426.68" width="11.8" height="8.1" fill="#20B2AA"/>
<rect x="195.34" y="1424.71" width="11.8" height="2.21" fill="#FFA500"/>
<rect x="195.34" y="1419.42" width="11.8" height="5.55" fill="#9370DB"/>
<rect x="195.34" y="1417.85" width="11.8" height="1.82" fill="#FFFF00"/>
<rect x="216.62" y="1505.35" width="11.8" height="312.3" fill="#DC143C"/>
<rect x="216.62" y="1466.11" width="11.8" height="39.49" fill="#0000FF"/>
<rect x="216.62" y="1436.09" width="11.8" height="30.27" fill="#20B2AA"/>
<rect x="216.62" y="1432.56" width="11.8" height="3.78" fill="#FFA500"/>
<rect x="216.62" y="1422.16" width="11.8" height="10.65" fill="#9370DB"/>
<rect x="216.62" y="1420.79" width="11.8" height="1.62" fill="#808000"/>
<rect x="216.62" y="1417.46" width="11.8" height="3.59" fill="#FFFF00"/>
<rect x="237.9" y="1498.68" width="11.8" height="318.97" fill="#DC143C"/>
<rect x="237.9" y="1453.16" width="11.8" height="45.77" fill="#0000FF"/>
<rect x="237.9" y="1431.19" width="11.8" height="22.22" fill="#20B2AA"/>
<rect x="237.9" y="1429.62" width="11.8" height="1.82" fill="#FFA500"/>
<rect x="237.9" y="1419.81" width="11.8" height="10.06" fill="#9370DB"/>
<rect x="237.9" y="1417.85" width="11.8" height="2.21" fill="#FFFF00"/>
<rect x="259.18" y="1529.68" width="11.8" height="287.97" fill="#DC143C"/>
<rect x="259.18" y="1453.55" width="11.8" height="76.37" fill="#0000FF"/>
<rect x="259.18" y="1440.02" width="11.8" height="13.79" fill="#20B2AA"/>
<rect x="259.18" y="1437.47" width="11.8" height="2.8" fill="#FFA500"/>
<rect x="259.18" y="1427.66" width="11.8" height="10.06" fill="#9370DB"/>
<rect x="259.18" y="1422.16" width="11.8" height="5.74" fill="#808000"/>
<rect x="259.18" y="1416.87" width="11.8" height="5.55" fill="#FFFF00"/>
<rect x="280.46" y="1494.36" width="11.8" height="323.29" fill="#DC143C"/>
<rect x="280.46" y="1446.3" width="11.8" height="48.32" fill="#0000FF"/>
<rect x="280.46" y="1430.21" width="11.8" height="16.34" fill="#20B2AA"/>
<rect x="280.46" y="1429.62" width="11.8" height="0.84" fill="#FFA500"/>
<rect x="280.46" y="1420.79" width="11.8" height="9.08" fill="#9370DB"/>
<rect x="280.46" y="1417.46" width="11.8" height="3.59" fill="#FFFF00"/>
<rect x="301.74" y="1471.8" width="11.8" height="345.85" fill="#DC143C"/>
<rect x="301.74" y="1441.78" width="11.8" height="30.27" fill="#0000FF"/>
<rect x="301.74" y="1428.05" width="11.8" height="13.98" fill="#20B2AA"/>
<rect x="301.74" y="1426.09" width="11.8" height="2.21" fill="#FFA500"/>
<rect x="301.74" y="1419.42" width="11.8" height="6.92" fill="#9370DB"/>
<rect x="301.74" y="1417.46" width="11.8" height="2.21" fill="#FFFF00"/>
<rect x="323.02" y="1570.48" width="11.8" height="247.17" fill="#DC143C"/>
<rect x="323.02" y="1508.68" width="11.8" height="62.05" fill="#0000FF"/>
<rect x="323.02" y="1466.9" width="11.8" height="42.04" fill="#20B2AA"/>
<rect x="323.02" y="1433.54" width="11.8" height="33.6" fill="#FFA500"/>
<rect x="323.02" y="1425.3" width="11.8" height="8.49" fill="#9370DB"/>
<rect x="323.02" y="1422.75" width="11.8" height="2.8" fill="#808000"/>
<rect x="323.02" y="1416.87" width="11.8" height="6.14" fill="#FFFF00"/>
<rect x="344.3" y="1558.52" width="11.8" height="259.13" fill="#DC143C"/>
<rect x="344.3" y="1538.9" width="11.8" height="19.87" fill="#0000FF"/>
<rect x="344.3" y="1474.74" width="11.8" height="64.4" fill="#20B2AA"/>
<rect x="344.3" y="1441" width="11.8" height="33.99" fill="#FFA500"/>
<rect x="344.3" y="1429.62" width="11.8" height="11.63" fill="#9370DB"/>
<rect x="344.3" y="1427.26" width="11.8" height="2.6" fill="#98FB98"/>
<rect x="344.3" y="1417.46" width="11.8" height="10.06" fill="#FFFF00"/>
<rect x="365.58" y="1537.52" width="11.8" height="280.13" fill="#DC143C"/>
<rect x="365.58" y="1504.17" width="11.8" height="33.6" fill="#0000FF"/>
<rect x="365.58" y="1466.9" width="11.8" height="37.53" fill="#20B2AA"/>
<rect x="365.58" y="1440.02" width="11.8" height="27.13" fill="#FFA500"/>
<rect x="365.58" y="1423.34" width="11.8" height="16.93" fill="#9370DB"/>
<rect x="365.58" y="1421.77" width="11.8" height="1.82" fill="#808000"/>
<rect x="365.58" y="1417.46" width="11.8" height="4.57" fill="#FFFF00"/>
<rect x="386.86" y="1713.11" width="11.8" height="104.54" fill="#DC143C"/>
<rect x="386.86" y="1430.6" width="11.8" height="282.76" fill="#0000FF"/>
<rect x="386.86" y="1427.66" width="11.8" height="3.19" fill="#20B2AA"/>
<rect x="386.86" y="1419.81" width="11.8" height="8.1" fill="#9370DB"/>
<rect x="386.86" y="1417.46" width="11.8" height="2.6" fill="#FFFF00"/>
<rect x="408.14" y="1708.6" width="11.8" height="109.05" fill="#DC143C"/>
<rect x="408.14" y="1442.96" width="11.8" height="265.89" fill="#0000FF"/>
<rect x="408.14" y="1426.68" width="11.8" height="16.53" fill="#20B2AA"/>
<rect x="408.14" y="1425.7" width="11.8" height="1.23" fill="#FFA500"/>
<rect x="408.14" y="1419.42" width="11.8" height="6.53" fill="#9370DB"/>
<rect x="408.14" y="1417.46" width="11.8" height="2.21" fill="#FFFF00"/>
<rect x="429.42" y="1710.17" width="11.8" height="107.48" fill="#DC143C"/>
<rect x="429.42" y="1436.49" width="11.8" height="273.94" fill="#0000FF"/>
<rect x="429.42" y="1425.7" width="11.8" height="11.04" fill="#20B2AA"/>
<rect x="429.42" y="1421.38" width="11.8" height="4.57" fill="#9370DB"/>
<rect x="429.42" y="1417.46" width="11.8" height="4.17" fill="#FFFF00"/>
<rect x="450.7" y="1627.38" width="11.8" height="190.27" fill="#DC143C"/>
<rect x="450.7" y="1445.31" width="11.8" height="182.31" fill="#0000FF"/>
<rect x="450.7" y="1430.99" width="11.8" height="14.57" fill="#20B2AA"/>
<rect x="450.7" y="1427.66" width="11.8" height="3.59" fill="#FFA500"/>
<rect x="450.7" y="1420.2" width="11.8" height="7.71" fill="#9370DB"/>
<rect x="450.7" y="1417.46" width="11.8" height="3" fill="#FFFF00"/>
<rect x="471.98" y="1599.32" width="11.8" height="218.33" fill="#DC143C"/>
<rect x="471.98" y="1473.76" width="11.8" height="125.81" fill="#0000FF"/>
<rect x="471.98" y="1432.56" width="11.8" height="41.45" fill="#20B2AA"/>
<rect x="471.98" y="1428.64" width="11.8" height="4.17" fill="#FFA500"/>
<rect x="471.98" y="1424.71" width="11.8" height="4.17" fill="#9370DB"/>
<rect x="471.98" y="1419.81" width="11.8" height="5.15" fill="#808000"/>
<rect x="471.98" y="1416.87" width="11.8" height="3.19" fill="#FFFF00"/>
<rect x="493.26" y="1595.99" width="11.8" height="221.66" fill="#DC143C"/>
<rect x="493.26" y="1458.66" width="11.8" height="137.58" fill="#0000FF"/>
<rect x="493.26" y="1422.16" width="11.8" height="36.74" fill="#20B2AA"/>
<rect x="493.26" y="1420.2" width="11.8" height="2.21" fill="#9370DB"/>
<rect x="493.26" y="1417.46" width="11.8" height="3" fill="#FFFF00"/>
<rect x="514.54" y="1666.03" width="11.8" height="151.62" fill="#DC143C"/>
<rect x="514.54" y="1490.05" width="11.8" height="176.23" fill="#0000FF"/>
<rect x="514.54" y="1469.84" width="11.8" height="20.46" fill="#20B2AA"/>
<rect x="514.54" y="1452.77" width="11.8" height="17.32" fill="#FFA500"/>
<rect x="514.54" y="1447.28" width="11.8" height="5.74" fill="#9370DB"/>
<rect x="514.54" y="1436.49" width="11.8" height="11.04" fill="#98FB98"/>
<rect x="514.54" y="1433.15" width="11.8" height="3.59" fill="#7CFC00"/>
<rect x="514.54" y="1416.87" width="11.8" height="16.53" fill="#FFFF00"/>
<rect x="535.82" y="1625.81" width="11.8" height="191.84" fill="#DC143C"/>
<rect x="535.82" y="1461.4" width="11.8" height="164.66" fill="#0000FF"/>
<rect x="535.82" y="1422.75" width="11.8" height="38.9" fill="#20B2AA"/>
<rect x="535.82" y="1420.2" width="11.8" height="2.8" fill="#9370DB"/>
<rect x="535.82" y="1417.46" width="11.8" height="3" fill="#FFFF00"/>
<rect x="557.1" y="1495.93" width="11.8" height="321.72" fill="#DC143C"/>
<rect x="557.1" y="1449.24" width="11.8" height="46.94" fill="#0000FF"/>
<rect x="557.1" y="1421.38" width="11.8" height="28.11" fill="#20B2AA"/>
<rect x="557.1" y="1419.42" width="11.8" height="2.21" fill="#9370DB"/>
<rect x="557.1" y="1417.85" width="11.8" height="1.82" fill="#FFFF00"/>
<rect x="578.38" y="1762.16" width="11.8" height="55.49" fill="#DC143C"/>
<rect x="578.38" y="1459.64" width="11.8" height="302.77" fill="#0000FF"/>
<rect x="578.38" y="1429.23" width="11.8" height="30.66" fill="#20B2AA"/>
<rect x="578.38" y="1426.68" width="11.8" height="2.8" fill="#FFA500"/>
<rect x="578.38" y="1423.34" width="11.8" height="3.59" fill="#9370DB"/>
<rect x="578.38" y="1421.77" width="11.8" height="1.82" fill="#98FB98"/>
<rect x="578.38" y="1417.46" width="11.8" height="4.57" fill="#FFFF00"/>
<rect x="599.66" y="1596.38" width="11.8" height="221.27" fill="#DC143C"/>
<rect x="599.66" y="1485.14" width="11.8" height="111.49" fill="#0000FF"/>
<rect x="599.66" y="1426.68" width="11.8" height="58.71" fill="#20B2AA"/>
<rect x="599.66" y="1423.73" width="11.8" height="3.19" fill="#9370DB"/>
<rect x="599.66" y="1421.77" width="11.8" height="2.21" fill="#808000"/>
<rect x="599.66" y="1417.46" width="11.8" height="4.57" fill="#FFFF00"/>
<rect x="620.94" y="1761.18" width="11.8" height="56.47" fill="#DC143C"/>
<rect x="620.94" y="1516.92" width="11.8" height="244.51" fill="#0000FF"/>
<rect x="620.94" y="1469.25" width="11.8" height="47.92" fill="#20B2AA"/>
<rect x="620.94" y="1459.44" width="11.8" height="10.06" fill="#FFA500"/>
<rect x="620.94" y="1449.24" width="11.8" height="10.45" fill="#9370DB"/>
<rect x="620.94" y="1439.82" width="11.8" height="9.67" fill="#98FB98"/>
<rect x="620.94" y="1435.9" width="11.8" height="4.17" fill="#1E90FF"/>
<rect x="620.94" y="1432.56" width="11.8" height="3.59" fill="#7CFC00"/>
<rect x="620.94" y="1416.87" width="11.8" height="15.95" fill="#FFFF00"/>
<rect x="642.22" y="1680.74" width="11.8" height="136.91" fill="#DC143C"/>
<rect x="642.22" y="1536.54" width="11.8" height="144.45" fill="#0000FF"/>
<rect x="642.22" y="1477.69" width="11.8" height="59.11" fill="#20B2AA"/>
<rect x="642.22" y="1465.52" width="11.8" height="12.41" fill="#FFA500"/>
<rect x="642.22" y="1447.86" width="11.8" height="17.91" fill="#9370DB"/>
<rect x="642.22" y="1440.41" width="11.8" height="7.71" fill="#98FB98"/>
<rect x="642.22" y="1435.11" width="11.8" height="5.55" fill="#7CFC00"/>
<rect x="642.22" y="1416.87" width="11.8" height="18.5" fill="#FFFF00"/>
<rect x="663.5" y="1667.99" width="11.8" height="149.66" fill="#DC143C"/>
<rect x="663.5" y="1547.33" width="11.8" height="120.91" fill="#0000FF"/>
<rect x="663.5" y="1470.43" width="11.8" height="77.16" fill="#20B2AA"/>
<rect x="663.5" y="1461.4" width="11.8" height="9.27" fill="#FFA500"/>
<rect x="663.5" y="1447.86" width="11.8" height="13.79" fill="#9370DB"/>
<rect x="663.5" y="1441.98" width="11.8" height="6.14" fill="#98FB98"/>
<rect x="663.5" y="1436.09" width="11.8" height="6.14" fill="#F08080"/>
<rect x="663.5" y="1433.54" width="11.8" height="2.8" fill="#7CFC00"/>
<rect x="663.5" y="1416.87" width="11.8" height="16.93" fill="#FFFF00"/>
<rect x="684.78" y="1704.28" width="11.8" height="113.37" fill="#DC143C"/>
<rect x="684.78" y="1562.64" width="11.8" height="141.9" fill="#0000FF"/>
<rect x="684.78" y="1481.61" width="11.8" height="81.28" fill="#20B2AA"/>
<rect x="684.78" y="1464.54" width="11.8" height="17.32" fill="#FFA500"/>
<rect x="684.78" y="1446.88" width="11.8" height="17.91" fill="#9370DB"/>
<rect x="684.78" y="1439.43" width="11.8" height="7.71" fill="#98FB98"/>
<rect x="684.78" y="1438.06" width="11.8" height="1.62" fill="#1E90FF"/>
<rect x="684.78" y="1433.54" width="11.8" height="4.76" fill="#7CFC00"/>
<rect x="684.78" y="1416.87" width="11.8" height="16.93" fill="#FFFF00"/>
<rect x="706.06" y="1565.58" width="11.8" height="252.07" fill="#DC143C"/>
<rect x="706.06" y="1537.13" width="11.8" height="28.7" fill="#0000FF"/>
<rect x="706.06" y="1479.65" width="11.8" height="57.73" fill="#20B2AA"/>
<rect x="706.06" y="1467.29" width="11.8" height="12.61" fill="#FFA500"/>
<rect x="706.06" y="1446.88" width="11.8" height="20.65" fill="#9370DB"/>
<rect x="706.06" y="1441.39" width="11.8" height="5.74" fill="#98FB98"/>
<rect x="706.06" y="1435.11" width="11.8" height="6.53" fill="#7CFC00"/>
<rect x="706.06" y="1416.87" width="11.8" height="18.5" fill="#FFFF00"/>
<rect x="727.34" y="1610.7" width="11.8" height="206.95" fill="#DC143C"/>
<rect x="727.34" y="1554.2" width="11.8" height="56.75" fill="#0000FF"/>
<rect x="727.34" y="1440.02" width="11.8" height="114.43" fill="#20B2AA"/>
<rect x="727.34" y="1435.5" width="11.8" height="4.76" fill="#FFA500"/>
<rect x="727.34" y="1423.34" width="11.8" height="12.41" fill="#9370DB"/>
<rect x="727.34" y="1421.77" width="11.8" height="1.82" fill="#808000"/>
<rect x="727.34" y="1417.46" width="11.8" height="4.57" fill="#FFFF00"/>
<rect x="748.62" y="1572.84" width="11.8" height="244.81" fill="#DC143C"/>
<rect x="748.62" y="1505.74" width="11.8" height="67.35" fill="#0000FF"/>
<rect x="748.62" y="1435.11" width="11.8" height="70.88" fill="#20B2AA"/>
<rect x="748.62" y="1432.56" width="11.8" height="2.8" fill="#FFA500"/>
<rect x="748.62" y="1423.34" width="11.8" height="9.47" fill="#9370DB"/>
<rect x="748.62" y="1417.46" width="11.8" height="6.14" fill="#FFFF00"/>
<rect x="769.9" y="1644.45" width="11.8" height="173.2" fill="#DC143C"/>
<rect x="769.9" y="1568.91" width="11.8" height="75.78" fill="#0000FF"/>
<rect x="769.9" y="1445.9" width="11.8" height="123.26" fill="#20B2AA"/>
<rect x="769.9" y="1442.37" width="11.8" height="3.78" fill="#FFA500"/>
<rect x="769.9" y="1428.64" width="11.8" height="13.98" fill="#9370DB"/>
<rect x="769.9" y="1426.09" width="11.8" height="2.8" fill="#1E90FF"/>
<rect x="769.9" y="1422.75" width="11.8" height="3.59" fill="#808000"/>
<rect x="769.9" y="1417.46" width="11.8" height="5.55" fill="#FFFF00"/>
<rect x="791.18" y="1626.79" width="11.8" height="190.86" fill="#DC143C"/>
<rect x="791.18" y="1545.37" width="11.8" height="81.67" fill="#0000FF"/>
<rect x="791.18" y="1433.54" width="11.8" height="112.08" fill="#20B2AA"/>
<rect x="791.18" y="1431.58" width="11.8" height="2.21" fill="#FFA500"/>
<rect x="791.18" y="1421.38" width="11.8" height="10.45" fill="#9370DB"/>
<rect x="791.18" y="1417.85" width="11.8" height="3.78" fill="#FFFF00"/>
<rect x="812.46" y="1616" width="11.8" height="201.65" fill="#DC143C"/>
<rect x="812.46" y="1571.86" width="11.8" height="44.39" fill="#0000FF"/>
<rect x="812.46" y="1435.11" width="11.8" height="136.99" fill="#20B2AA"/>
<rect x="812.46" y="1432.56" width="11.8" height="2.8" fill="#FFA500"/>
<rect x="812.46" y="1420.2" width="11.8" height="12.61" fill="#9370DB"/>
<rect x="812.46" y="1417.46" width="11.8" height="3" fill="#FFFF00"/>
<rect x="833.74" y="1647.39" width="11.8" height="170.26" fill="#DC143C"/>
<rect x="833.74" y="1598.73" width="11.8" height="48.91" fill="#0000FF"/>
<rect x="833.74" y="1461.4" width="11.8" height="137.58" fill="#20B2AA"/>
<rect x="833.74" y="1453.55" width="11.8" height="8.1" fill="#FFA500"/>
<rect x="833.74" y="1430.6" width="11.8" height="23.2" fill="#9370DB"/>
<rect x="833.74" y="1428.05" width="11.8" height="2.8" fill="#98FB98"/>
<rect x="833.74" y="1426.68" width="11.8" height="1.62" fill="#7CFC00"/>
<rect x="833.74" y="1416.87" width="11.8" height="10.06" fill="#FFFF00"/>
<rect x="855.02" y="1604.82" width="11.8" height="212.83" fill="#DC143C"/>
<rect x="855.02" y="1568.91" width="11.8" height="36.15" fill="#0000FF"/>
<rect x="855.02" y="1456.5" width="11.8" height="112.67" fill="#20B2AA"/>
<rect x="855.02" y="1447.86" width="11.8" height="8.88" fill="#FFA500"/>
<rect x="855.02" y="1429.62" width="11.8" height="18.5" fill="#9370DB"/>
<rect x="855.02" y="1427.66" width="11.8" height="2.21" fill="#98FB98"/>
<rect x="855.02" y="1426.09" width="11.8" height="1.82" fill="#7CFC00"/>
<rect x="855.02" y="1416.87" width="11.8" height="9.47" fill="#FFFF00"/>
<rect x="876.3" y="1681.72" width="11.8" height="135.93" fill="#DC143C"/>
<rect x="876.3" y="1623.26" width="11.8" height="58.71" fill="#0000FF"/>
<rect x="876.3" y="1476.7" width="11.8" height="146.8" fill="#20B2AA"/>
<rect x="876.3" y="1464.54" width="11.8" height="12.41" fill="#FFA500"/>
<rect x="876.3" y="1443.74" width="11.8" height="21.05" fill="#9370DB"/>
<rect x="876.3" y="1435.11" width="11.8" height="8.88" fill="#98FB98"/>
<rect x="876.3" y="1433.15" width="11.8" height="2.21" fill="#7CFC00"/>
<rect x="876.3" y="1416.87" width="11.8" height="16.53" fill="#FFFF00"/>
<rect x="897.58" y="1544.39" width="11.8" height="273.26" fill="#DC143C"/>
<rect x="897.58" y="1449.24" width="11.8" height="95.4" fill="#0000FF"/>
<rect x="897.58" y="1428.05" width="11.8" height="21.44" fill="#20B2AA"/>
<rect x="897.58" y="1425.7" width="11.8" height="2.6" fill="#FFA500"/>
<rect x="897.58" y="1424.13" width="11.8" height="1.82" fill="#F08080"/>
<rect x="897.58" y="1417.46" width="11.8" height="6.92" fill="#FFFF00"/>
<rect x="918.86" y="1557.14" width="11.8" height="260.51" fill="#DC143C"/>
<rect x="918.86" y="1428.64" width="11.8" height="128.75" fill="#0000FF"/>
<rect x="918.86" y="1427.26" width="11.8" height="1.62" fill="#20B2AA"/>
<rect x="918.86" y="1416.87" width="11.8" height="10.65" fill="#FFFF00"/>
<rect x="940.14" y="1516.92" width="11.8" height="300.73" fill="#DC143C"/>
<rect x="940.14" y="1425.3" width="11.8" height="91.87" fill="#0000FF"/>
<rect x="940.14" y="1424.13" width="11.8" height="1.43" fill="#20B2AA"/>
<rect x="940.14" y="1423.34" width="11.8" height="1.03" fill="#FFA500"/>
<rect x="940.14" y="1417.46" width="11.8" height="6.14" fill="#FFFF00"/>
<rect x="961.42" y="1563.42" width="11.8" height="254.23" fill="#DC143C"/>
<rect x="961.42" y="1421.77" width="11.8" height="141.9" fill="#0000FF"/>
<rect x="961.42" y="1420.2" width="11.8" height="1.82" fill="#20B2AA"/>
<rect x="961.42" y="1419.02" width="11.8" height="1.43" fill="#7CFC00"/>
<rect x="961.42" y="1417.85" width="11.8" height="1.43" fill="#FFFF00"/>
<rect x="982.7" y="1505.74" width="11.8" height="311.91" fill="#DC143C"/>
<rect x="982.7" y="1482.2" width="11.8" height="23.79" fill="#0000FF"/>
<rect x="982.7" y="1467.29" width="11.8" height="15.16" fill="#20B2AA"/>
<rect x="982.7" y="1453.55" width="11.8" height="13.98" fill="#FFA500"/>
<rect x="982.7" y="1439.04" width="11.8" height="14.77" fill="#9370DB"/>
<rect x="982.7" y="1434.52" width="11.8" height="4.76" fill="#98FB98"/>
<rect x="982.7" y="1432.56" width="11.8" height="2.21" fill="#7CFC00"/>
<rect x="982.7" y="1416.87" width="11.8" height="15.95" fill="#FFFF00"/>
<rect x="1003.98" y="1591.48" width="11.8" height="226.17" fill="#DC143C"/>
<rect x="1003.98" y="1474.74" width="11.8" height="116.98" fill="#0000FF"/>
<rect x="1003.98" y="1469.25" width="11.8" height="5.74" fill="#20B2AA"/>
<rect x="1003.98" y="1459.64" width="11.8" height="9.86" fill="#FFA500"/>
<rect x="1003.98" y="1447.67" width="11.8" height="12.22" fill="#9370DB"/>
<rect x="1003.98" y="1442.37" width="11.8" height="5.55" fill="#98FB98"/>
<rect x="1003.98" y="1430.6" width="11.8" height="12.02" fill="#1E90FF"/>
<rect x="1003.98" y="1427.26" width="11.8" height="3.59" fill="#7CFC00"/>
<rect x="1003.98" y="1416.87" width="11.8" height="10.65" fill="#FFFF00"/>
<rect x="1025.26" y="1690.94" width="11.8" height="126.71" fill="#DC143C"/>
<rect x="1025.26" y="1546.35" width="11.8" height="144.84" fill="#0000FF"/>
<rect x="1025.26" y="1473.76" width="11.8" height="72.84" fill="#20B2AA"/>
<rect x="1025.26" y="1461.4" width="11.8" height="12.61" fill="#FFA500"/>
<rect x="1025.26" y="1451.59" width="11.8" height="10.06" fill="#9370DB"/>
<rect x="1025.26" y="1441.39" width="11.8" height="10.45" fill="#98FB98"/>
<rect x="1025.26" y="1437.86" width="11.8" height="3.78" fill="#1E90FF"/>
<rect x="1025.26" y="1431.97" width="11.8" height="6.14" fill="#7CFC00"/>
<rect x="1025.26" y="1416.87" width="11.8" height="15.36" fill="#FFFF00"/>
<rect x="1046.54" y="1423.34" width="11.8" height="394.31" fill="#DC143C"/>
<rect x="1046.54" y="1419.42" width="11.8" height="4.17" fill="#0000FF"/>
<rect x="1046.54" y="1417.85" width="11.8" height="1.82" fill="#FFFF00"/>
<rect x="1067.82" y="1594.81" width="11.8" height="222.84" fill="#DC143C"/>
<rect x="1067.82" y="1487.5" width="11.8" height="107.57" fill="#0000FF"/>
<rect x="1067.82" y="1484.16" width="11.8" height="3.59" fill="#20B2AA"/>
<rect x="1067.82" y="1470.43" width="11.8" height="13.98" fill="#FFA500"/>
<rect x="1067.82" y="1452.77" width="11.8" height="17.91" fill="#9370DB"/>
<rect x="1067.82" y="1446.3" width="11.8" height="6.72" fill="#98FB98"/>
<rect x="1067.82" y="1437.47" width="11.8" height="9.08" fill="#1E90FF"/>
<rect x="1067.82" y="1433.15" width="11.8" height="4.57" fill="#7CFC00"/>
<rect x="1067.82" y="1416.87" width="11.8" height="16.53" fill="#FFFF00"/>
<rect x="1089.1" y="1654.26" width="11.8" height="163.39" fill="#DC143C"/>
<rect x="1089.1" y="1543.41" width="11.8" height="111.1" fill="#0000FF"/>
<rect x="1089.1" y="1506.72" width="11.8" height="36.94" fill="#20B2AA"/>
<rect x="1089.1" y="1488.08" width="11.8" height="18.89" fill="#FFA500"/>
<rect x="1089.1" y="1470.43" width="11.8" height="17.91" fill="#9370DB"/>
<rect x="1089.1" y="1453.55" width="11.8" height="17.12" fill="#98FB98"/>
<rect x="1089.1" y="1450.81" width="11.8" height="3" fill="#1E90FF"/>
<rect x="1089.1" y="1445.9" width="11.8" height="5.15" fill="#7CFC00"/>
<rect x="1089.1" y="1416.87" width="11.8" height="29.29" fill="#FFFF00"/>
<rect x="1110.38" y="1579.7" width="11.8" height="237.95" fill="#DC143C"/>
<rect x="1110.38" y="1463.56" width="11.8" height="116.39" fill="#0000FF"/>
<rect x="1110.38" y="1455.71" width="11.8" height="8.1" fill="#20B2AA"/>
<rect x="1110.38" y="1448.26" width="11.8" height="7.71" fill="#FFA500"/>
<rect x="1110.38" y="1440.02" width="11.8" height="8.49" fill="#9370DB"/>
<rect x="1110.38" y="1435.11" width="11.8" height="5.15" fill="#98FB98"/>
<rect x="1110.38" y="1429.62" width="11.8" height="5.74" fill="#1E90FF"/>
<rect x="1110.38" y="1428.05" width="11.8" height="1.82" fill="#7CFC00"/>
<rect x="1110.38" y="1416.87" width="11.8" height="11.43" fill="#FFFF00"/>
<rect x="1131.66" y="1639.54" width="11.8" height="178.11" fill="#DC143C"/>
<rect x="1131.66" y="1457.09" width="11.8" height="182.71" fill="#0000FF"/>
<rect x="1131.66" y="1453.16" width="11.8" height="4.17" fill="#20B2AA"/>
<rect x="1131.66" y="1445.71" width="11.8" height="7.71" fill="#FFA500"/>
<rect x="1131.66" y="1444.92" width="11.8" height="1.03" fill="#9370DB"/>
<rect x="1131.66" y="1442.37" width="11.8" height="2.8" fill="#98FB98"/>
<rect x="1131.66" y="1427.66" width="11.8" height="14.96" fill="#F08080"/>
<rect x="1131.66" y="1426.48" width="11.8" height="1.43" fill="#7CFC00"/>
<rect x="1131.66" y="1416.87" width="11.8" height="9.86" fill="#FFFF00"/>
<line x1="127.2" y1="1417.5" x2="127.2" y2="1818.6" stroke="#000" stroke-width="2.4"/>
<line x1="126" y1="1817.4" x2="1147.3" y2="1817.4" stroke="#000" stroke-width="2.4"/>
<line x1="120.2" y1="1817.4" x2="127.2" y2="1817.4" stroke="#000" stroke-width="2"/>
<text x="119.4" y="1824.78" font-family="'DejaVu Sans', 'Liberation Sans', sans-serif" font-size="20.5" text-anchor="end" fill="#111" stroke="#111" stroke-width="0.35">0</text>
<line x1="120.2" y1="1717.68" x2="127.2" y2="1717.68" stroke="#000" stroke-width="2"/>
<text x="119.4" y="1725.06" font-family="'DejaVu Sans', 'Liberation Sans', sans-serif" font-size="20.5" text-anchor="end" fill="#111" stroke="#111" stroke-width="0.35">0.25</text>
<line x1="120.2" y1="1617.95" x2="127.2" y2="1617.95" stroke="#000" stroke-width="2"/>
<text x="119.4" y="1625.33" font-family="'DejaVu Sans', 'Liberation Sans', sans-serif" font-size="20.5" text-anchor="end" fill="#111" stroke="#111" stroke-width="0.35">0.5</text>
<line x1="120.2" y1="1518.22" x2="127.2" y2="1518.22" stroke="#000" stroke-width="2"/>
<text x="119.4" y="1525.61" font-family="'DejaVu Sans', 'Liberation Sans', sans-serif" font-size="20.5" text-anchor="end" fill="#111" stroke="#111" stroke-width="0.35">0.75</text>
<line x1="120.2" y1="1418.5" x2="127.2" y2="1418.5" stroke="#000" stroke-width="2"/>
<text x="119.4" y="1425.88" font-family="'DejaVu Sans', 'Liberation Sans', sans-serif" font-size="20.5" text-anchor="end" fill="#111" stroke="#111" stroke-width="0.35">1</text>
<line x1="148.04" y1="1817.4" x2="148.04" y2="1821.4" stroke="#000" stroke-width="1.6"/>
<line x1="169.32" y1="1817.4" x2="169.32" y2="1821.4" stroke="#000" stroke-width="1.6"/>
<line x1="190.6" y1="1817.4" x2="190.6" y2="1821.4" stroke="#000" stroke-width="1.6"/>
<line x1="211.88" y1="1817.4" x2="211.88" y2="1821.4" stroke="#000" stroke-width="1.6"/>
<line x1="233.16" y1="1817.4" x2="233.16" y2="1821.4" stroke="#000" stroke-width="1.6"/>
<line x1="254.44" y1="1817.4" x2="254.44" y2="1821.4" stroke="#000" stroke-width="1.6"/>
<line x1="275.72" y1="1817.4" x2="275.72" y2="1821.4" stroke="#000" stroke-width="1.6"/>
<line x1="297" y1="1817.4" x2="297" y2="1821.4" stroke="#000" stroke-width="1.6"/>
<line x1="318.28" y1="1817.4" x2="318.28" y2="1821.4" stroke="#000" stroke-width="1.6"/>
<line x1="339.56" y1="1817.4" x2="339.56" y2="1821.4" stroke="#000" stroke-width="1.6"/>
<line x1="360.84" y1="1817.4" x2="360.84" y2="1821.4" stroke="#000" stroke-width="1.6"/>
<line x1="382.12" y1="1817.4" x2="382.12" y2="1821.4" stroke="#000" stroke-width="1.6"/>
<line x1="403.4" y1="1817.4" x2="403.4" y2="1821.4" stroke="#000" stroke-width="1.6"/>
<line x1="424.68" y1="1817.4" x2="424.68" y2="1821.4" stroke="#000" stroke-width="1.6"/>
<line x1="445.96" y1="1817.4" x2="445.96" y2="1821.4" stroke="#000" stroke-width="1.6"/>
<line x1="467.24" y1="1817.4" x2="467.24" y2="1821.4" stroke="#000" stroke-width="1.6"/>
<line x1="488.52" y1="1817.4" x2="488.52" y2="1821.4" stroke="#000" stroke-width="1.6"/>
<line x1="509.8" y1="1817.4" x2="509.8" y2="1821.4" stroke="#000" stroke-width="1.6"/>
<line x1="531.08" y1="1817.4" x2="531.08" y2="1821.4" stroke="#000" stroke-width="1.6"/>
<line x1="552.36" y1="1817.4" x2="552.36" y2="1821.4" stroke="#000" stroke-width="1.6"/>
<line x1="573.64" y1="1817.4" x2="573.64" y2="1821.4" stroke="#000" stroke-width="1.6"/>
<line x1="594.92" y1="1817.4" x2="594.92" y2="1821.4" stroke="#000" stroke-width="1.6"/>
<line x1="616.2" y1="1817.4" x2="616.2" y2="1821.4" stroke="#000" stroke-width="1.6"/>
<line x1="637.48" y1="1817.4" x2="637.48" y2="1821.4" stroke="#000" stroke-width="1.6"/>
<line x1="658.76" y1="1817.4" x2="658.76" y2="1821.4" stroke="#000" stroke-width="1.6"/>
<line x1="680.04" y1="1817.4" x2="680.04" y2="1821.4" stroke="#000" stroke-width="1.6"/>
<line x1="701.32" y1="1817.4" x2="701.32" y2="1821.4" stroke="#000" stroke-width="1.6"/>
<line x1="722.6" y1="1817.4" x2="722.6" y2="1821.4" stroke="#000" stroke-width="1.6"/>
<line x1="743.88" y1="1817.4" x2="743.88" y2="1821.4" stroke="#000" stroke-width="1.6"/>
<line x1="765.16" y1="1817.4" x2="765.16" y2="1821.4" stroke="#000" stroke-width="1.6"/>
<line x1="786.44" y1="1817.4" x2="786.44" y2="1821.4" stroke="#000" stroke-width="1.6"/>
<line x1="807.72" y1="1817.4" x2="807.72" y2="1821.4" stroke="#000" stroke-width="1.6"/>
<line x1="829" y1="1817.4" x2="829" y2="1821.4" stroke="#000" stroke-width="1.6"/>
<line x1="850.28" y1="1817.4" x2="850.28" y2="1821.4" stroke="#000" stroke-width="1.6"/>
<line x1="871.56" y1="1817.4" x2="871.56" y2="1821.4" stroke="#000" stroke-width="1.6"/>
<line x1="892.84" y1="1817.4" x2="892.84" y2="1821.4" stroke="#000" stroke-width="1.6"/>
<line x1="914.12" y1="1817.4" x2="914.12" y2="1821.4" stroke="#000" stroke-width="1.6"/>
<line x1="935.4" y1="1817.4" x2="935.4" y2="1821.4" stroke="#000" stroke-width="1.6"/>
<line x1="956.68" y1="1817.4" x2="956.68" y2="1821.4" stroke="#000" stroke-width="1.6"/>
<line x1="977.96" y1="1817.4" x2="977.96" y2="1821.4" stroke="#000" stroke-width="1.6"/>
<line x1="999.24" y1="1817.4" x2="999.24" y2="1821.4" stroke="#000" stroke-width="1.6"/>
<line x1="1020.52" y1="1817.4" x2="1020.52" y2="1821.4" stroke="#000" stroke-width="1.6"/>
<line x1="1041.8" y1="1817.4" x2="1041.8" y2="1821.4" stroke="#000" stroke-width="1.6"/>
<line x1="1063.08" y1="1817.4" x2="1063.08" y2="1821.4" stroke="#000" stroke-width="1.6"/>
<line x1="1084.36" y1="1817.4" x2="1084.36" y2="1821.4" stroke="#000" stroke-width="1.6"/>
<line x1="1105.64" y1="1817.4" x2="1105.64" y2="1821.4" stroke="#000" stroke-width="1.6"/>
<line x1="1126.92" y1="1817.4" x2="1126.92" y2="1821.4" stroke="#000" stroke-width="1.6"/>
<text transform="translate(142.4 1833) rotate(-45)" font-family="'DejaVu Sans', 'Liberation Sans', sans-serif" font-size="16" text-anchor="end" fill="#111" stroke="#111" stroke-width="0.3">YM1</text>
<text transform="translate(163.68 1833) rotate(-45)" font-family="'DejaVu Sans', 'Liberation Sans', sans-serif" font-size="16" text-anchor="end" fill="#111" stroke="#111" stroke-width="0.3">YM2</text>
<text transform="translate(184.96 1833) rotate(-45)" font-family="'DejaVu Sans', 'Liberation Sans', sans-serif" font-size="16" text-anchor="end" fill="#111" stroke="#111" stroke-width="0.3">YM3</text>
<text transform="translate(206.24 1833) rotate(-45)" font-family="'DejaVu Sans', 'Liberation Sans', sans-serif" font-size="16" text-anchor="end" fill="#111" stroke="#111" stroke-width="0.3">YM4</text>
<text transform="translate(227.52 1833) rotate(-45)" font-family="'DejaVu Sans', 'Liberation Sans', sans-serif" font-size="16" text-anchor="end" fill="#111" stroke="#111" stroke-width="0.3">YM5</text>
<text transform="translate(248.8 1833) rotate(-45)" font-family="'DejaVu Sans', 'Liberation Sans', sans-serif" font-size="16" text-anchor="end" fill="#111" stroke="#111" stroke-width="0.3">YM6</text>
<text transform="translate(270.08 1833) rotate(-45)" font-family="'DejaVu Sans', 'Liberation Sans', sans-serif" font-size="16" text-anchor="end" fill="#111" stroke="#111" stroke-width="0.3">YM7</text>
<text transform="translate(291.36 1833) rotate(-45)" font-family="'DejaVu Sans', 'Liberation Sans', sans-serif" font-size="16" text-anchor="end" fill="#111" stroke="#111" stroke-width="0.3">YM8</text>
<text transform="translate(312.64 1833) rotate(-45)" font-family="'DejaVu Sans', 'Liberation Sans', sans-serif" font-size="16" text-anchor="end" fill="#111" stroke="#111" stroke-width="0.3">YM9</text>
<text transform="translate(333.92 1833) rotate(-45)" font-family="'DejaVu Sans', 'Liberation Sans', sans-serif" font-size="16" text-anchor="end" fill="#111" stroke="#111" stroke-width="0.3">YM10</text>
<text transform="translate(355.2 1833) rotate(-45)" font-family="'DejaVu Sans', 'Liberation Sans', sans-serif" font-size="16" text-anchor="end" fill="#111" stroke="#111" stroke-width="0.3">YM11</text>
<text transform="translate(376.48 1833) rotate(-45)" font-family="'DejaVu Sans', 'Liberation Sans', sans-serif" font-size="16" text-anchor="end" fill="#111" stroke="#111" stroke-width="0.3">YM12</text>
<text transform="translate(397.76 1833) rotate(-45)" font-family="'DejaVu Sans', 'Liberation Sans', sans-serif" font-size="16" text-anchor="end" fill="#111" stroke="#111" stroke-width="0.3">YG1</text>
<text transform="translate(419.04 1833) rotate(-45)" font-family="'DejaVu Sans', 'Liberation Sans', sans-serif" font-size="16" text-anchor="end" fill="#111" stroke="#111" stroke-width="0.3">YG2</text>
<text transform="translate(440.32 1833) rotate(-45)" font-family="'DejaVu Sans', 'Liberation Sans', sans-serif" font-size="16" text-anchor="end" fill="#111" stroke="#111" stroke-width="0.3">YG3</text>
<text transform="translate(461.6 1833) rotate(-45)" font-family="'DejaVu Sans', 'Liberation Sans', sans-serif" font-size="16" text-anchor="end" fill="#111" stroke="#111" stroke-width="0.3">YG4</text>
<text transform="translate(482.88 1833) rotate(-45)" font-family="'DejaVu Sans', 'Liberation Sans', sans-serif" font-size="16" text-anchor="end" fill="#111" stroke="#111" stroke-width="0.3">YG5</text>
<text transform="translate(504.16 1833) rotate(-45)" font-family="'DejaVu Sans', 'Liberation Sans', sans-serif" font-size="16" text-anchor="end" fill="#111" stroke="#111" stroke-width="0.3">YG6</text>
<text transform="translate(525.44 1833) rotate(-45)" font-family="'DejaVu Sans', 'Liberation Sans', sans-serif" font-size="16" text-anchor="end" fill="#111" stroke="#111" stroke-width="0.3">YG7</text>
<text transform="translate(546.72 1833) rotate(-45)" font-family="'DejaVu Sans', 'Liberation Sans', sans-serif" font-size="16" text-anchor="end" fill="#111" stroke="#111" stroke-width="0.3">YG8</text>
<text transform="translate(568 1833) rotate(-45)" font-family="'DejaVu Sans', 'Liberation Sans', sans-serif" font-size="16" text-anchor="end" fill="#111" stroke="#111" stroke-width="0.3">YG9</text>
<text transform="translate(589.28 1833) rotate(-45)" font-family="'DejaVu Sans', 'Liberation Sans', sans-serif" font-size="16" text-anchor="end" fill="#111" stroke="#111" stroke-width="0.3">YG10</text>
<text transform="translate(610.56 1833) rotate(-45)" font-family="'DejaVu Sans', 'Liberation Sans', sans-serif" font-size="16" text-anchor="end" fill="#111" stroke="#111" stroke-width="0.3">YG11</text>
<text transform="translate(631.84 1833) rotate(-45)" font-family="'DejaVu Sans', 'Liberation Sans', sans-serif" font-size="16" text-anchor="end" fill="#111" stroke="#111" stroke-width="0.3">YG12</text>
<text transform="translate(653.12 1833) rotate(-45)" font-family="'DejaVu Sans', 'Liberation Sans', sans-serif" font-size="16" text-anchor="end" fill="#111" stroke="#111" stroke-width="0.3">SM1</text>
<text transform="translate(674.4 1833) rotate(-45)" font-family="'DejaVu Sans', 'Liberation Sans', sans-serif" font-size="16" text-anchor="end" fill="#111" stroke="#111" stroke-width="0.3">SM2</text>
<text transform="translate(695.68 1833) rotate(-45)" font-family="'DejaVu Sans', 'Liberation Sans', sans-serif" font-size="16" text-anchor="end" fill="#111" stroke="#111" stroke-width="0.3">SM3</text>
<text transform="translate(716.96 1833) rotate(-45)" font-family="'DejaVu Sans', 'Liberation Sans', sans-serif" font-size="16" text-anchor="end" fill="#111" stroke="#111" stroke-width="0.3">SM4</text>
<text transform="translate(738.24 1833) rotate(-45)" font-family="'DejaVu Sans', 'Liberation Sans', sans-serif" font-size="16" text-anchor="end" fill="#111" stroke="#111" stroke-width="0.3">SM5</text>
<text transform="translate(759.52 1833) rotate(-45)" font-family="'DejaVu Sans', 'Liberation Sans', sans-serif" font-size="16" text-anchor="end" fill="#111" stroke="#111" stroke-width="0.3">SM6</text>
<text transform="translate(780.8 1833) rotate(-45)" font-family="'DejaVu Sans', 'Liberation Sans', sans-serif" font-size="16" text-anchor="end" fill="#111" stroke="#111" stroke-width="0.3">SM7</text>
<text transform="translate(802.08 1833) rotate(-45)" font-family="'DejaVu Sans', 'Liberation Sans', sans-serif" font-size="16" text-anchor="end" fill="#111" stroke="#111" stroke-width="0.3">SM8</text>
<text transform="translate(823.36 1833) rotate(-45)" font-family="'DejaVu Sans', 'Liberation Sans', sans-serif" font-size="16" text-anchor="end" fill="#111" stroke="#111" stroke-width="0.3">SM9</text>
<text transform="translate(844.64 1833) rotate(-45)" font-family="'DejaVu Sans', 'Liberation Sans', sans-serif" font-size="16" text-anchor="end" fill="#111" stroke="#111" stroke-width="0.3">SM10</text>
<text transform="translate(865.92 1833) rotate(-45)" font-family="'DejaVu Sans', 'Liberation Sans', sans-serif" font-size="16" text-anchor="end" fill="#111" stroke="#111" stroke-width="0.3">SM11</text>
<text transform="translate(887.2 1833) rotate(-45)" font-family="'DejaVu Sans', 'Liberation Sans', sans-serif" font-size="16" text-anchor="end" fill="#111" stroke="#111" stroke-width="0.3">SM12</text>
<text transform="translate(908.48 1833) rotate(-45)" font-family="'DejaVu Sans', 'Liberation Sans', sans-serif" font-size="16" text-anchor="end" fill="#111" stroke="#111" stroke-width="0.3">SG1</text>
<text transform="translate(929.76 1833) rotate(-45)" font-family="'DejaVu Sans', 'Liberation Sans', sans-serif" font-size="16" text-anchor="end" fill="#111" stroke="#111" stroke-width="0.3">SG2</text>
<text transform="translate(951.04 1833) rotate(-45)" font-family="'DejaVu Sans', 'Liberation Sans', sans-serif" font-size="16" text-anchor="end" fill="#111" stroke="#111" stroke-width="0.3">SG3</text>
<text transform="translate(972.32 1833) rotate(-45)" font-family="'DejaVu Sans', 'Liberation Sans', sans-serif" font-size="16" text-anchor="end" fill="#111" stroke="#111" stroke-width="0.3">SG4</text>
<text transform="translate(993.6 1833) rotate(-45)" font-family="'DejaVu Sans', 'Liberation Sans', sans-serif" font-size="16" text-anchor="end" fill="#111" stroke="#111" stroke-width="0.3">SG5</text>
<text transform="translate(1014.88 1833) rotate(-45)" font-family="'DejaVu Sans', 'Liberation Sans', sans-serif" font-size="16" text-anchor="end" fill="#111" stroke="#111" stroke-width="0.3">SG6</text>
<text transform="translate(1036.16 1833) rotate(-45)" font-family="'DejaVu Sans', 'Liberation Sans', sans-serif" font-size="16" text-anchor="end" fill="#111" stroke="#111" stroke-width="0.3">SG7</text>
<text transform="translate(1057.44 1833) rotate(-45)" font-family="'DejaVu Sans', 'Liberation Sans', sans-serif" font-size="16" text-anchor="end" fill="#111" stroke="#111" stroke-width="0.3">SG8</text>
<text transform="translate(1078.72 1833) rotate(-45)" font-family="'DejaVu Sans', 'Liberation Sans', sans-serif" font-size="16" text-anchor="end" fill="#111" stroke="#111" stroke-width="0.3">SG9</text>
<text transform="translate(1100 1833) rotate(-45)" font-family="'DejaVu Sans', 'Liberation Sans', sans-serif" font-size="16" text-anchor="end" fill="#111" stroke="#111" stroke-width="0.3">SG10</text>
<text transform="translate(1121.28 1833) rotate(-45)" font-family="'DejaVu Sans', 'Liberation Sans', sans-serif" font-size="16" text-anchor="end" fill="#111" stroke="#111" stroke-width="0.3">SG11</text>
<text transform="translate(1142.56 1833) rotate(-45)" font-family="'DejaVu Sans', 'Liberation Sans', sans-serif" font-size="16" text-anchor="end" fill="#111" stroke="#111" stroke-width="0.3">SG12</text>
<text x="638.3" y="1883" font-family="'DejaVu Sans', 'Liberation Sans', sans-serif" font-size="18.5" text-anchor="middle" fill="#111">Sample Name</text>
<text transform="translate(57.6 1619.7) rotate(-90)" font-family="'DejaVu Sans', 'Liberation Sans', sans-serif" font-size="19.9" text-anchor="middle" fill="#111">Relative Abundance</text>
<rect x="0" y="1880" width="1180" height="536" fill="#fff"/>
<line x1="127.2" y1="2244.4" x2="1147.3" y2="2244.4" stroke="#999" stroke-width="1.5" stroke-dasharray="3.5,3.5"/>
<line x1="127.2" y1="2144.7" x2="1147.3" y2="2144.7" stroke="#999" stroke-width="1.5" stroke-dasharray="3.5,3.5"/>
<line x1="127.2" y1="2045" x2="1147.3" y2="2045" stroke="#999" stroke-width="1.5" stroke-dasharray="3.5,3.5"/>
<rect x="131.5" y="2179.46" width="11.8" height="164.89" fill="#DC143C"/>
<rect x="131.5" y="2028.28" width="11.8" height="151.43" fill="#0000FF"/>
<rect x="131.5" y="2024.92" width="11.8" height="3.61" fill="#20B2AA"/>
<rect x="131.5" y="2022.94" width="11.8" height="2.23" fill="#9370DB"/>
<rect x="131.5" y="1995.27" width="11.8" height="27.92" fill="#98FB98"/>
<rect x="131.5" y="1993.3" width="11.8" height="2.23" fill="#1E90FF"/>
<rect x="131.5" y="1964.64" width="11.8" height="28.9" fill="#808000"/>
<rect x="131.5" y="1945.28" width="11.8" height="19.62" fill="#FFFF00"/>
<rect x="152.78" y="2152.38" width="11.8" height="191.97" fill="#DC143C"/>
<rect x="152.78" y="2013.06" width="11.8" height="139.57" fill="#0000FF"/>
<rect x="152.78" y="2010.1" width="11.8" height="3.21" fill="#20B2AA"/>
<rect x="152.78" y="2007.13" width="11.8" height="3.21" fill="#FFA500"/>
<rect x="152.78" y="2004.56" width="11.8" height="2.82" fill="#9370DB"/>
<rect x="152.78" y="1980.85" width="11.8" height="23.96" fill="#98FB98"/>
<rect x="152.78" y="1968.6" width="11.8" height="12.5" fill="#808000"/>
<rect x="152.78" y="1945.28" width="11.8" height="23.57" fill="#FFFF00"/>
<rect x="174.06" y="2102.98" width="11.8" height="241.37" fill="#DC143C"/>
<rect x="174.06" y="2009.7" width="11.8" height="93.53" fill="#0000FF"/>
<rect x="174.06" y="2006.54" width="11.8" height="3.41" fill="#20B2AA"/>
<rect x="174.06" y="2003.57" width="11.8" height="3.21" fill="#FFA500"/>
<rect x="174.06" y="2002.19" width="11.8" height="1.63" fill="#F08080"/>
<rect x="174.06" y="1982.43" width="11.8" height="20.01" fill="#98FB98"/>
<rect x="174.06" y="1981.05" width="11.8" height="1.63" fill="#1E90FF"/>
<rect x="174.06" y="1971.16" width="11.8" height="10.13" fill="#808000"/>
<rect x="174.06" y="1945.28" width="11.8" height="26.14" fill="#FFFF00"/>
<rect x="195.34" y="2051.2" width="11.8" height="293.15" fill="#DC143C"/>
<rect x="195.34" y="1985.39" width="11.8" height="66.06" fill="#0000FF"/>
<rect x="195.34" y="1978.48" width="11.8" height="7.17" fill="#FFA500"/>
<rect x="195.34" y="1974.13" width="11.8" height="4.6" fill="#9370DB"/>
<rect x="195.34" y="1969.58" width="11.8" height="4.8" fill="#98FB98"/>
<rect x="195.34" y="1965.04" width="11.8" height="4.8" fill="#808000"/>
<rect x="195.34" y="1945.28" width="11.8" height="20.01" fill="#FFFF00"/>
<rect x="216.62" y="2267" width="11.8" height="77.35" fill="#DC143C"/>
<rect x="216.62" y="2065.43" width="11.8" height="201.82" fill="#0000FF"/>
<rect x="216.62" y="2050.02" width="11.8" height="15.66" fill="#FFA500"/>
<rect x="216.62" y="2033.81" width="11.8" height="16.45" fill="#9370DB"/>
<rect x="216.62" y="2029.46" width="11.8" height="4.6" fill="#98FB98"/>
<rect x="216.62" y="2027.49" width="11.8" height="2.23" fill="#F08080"/>
<rect x="216.62" y="2023.93" width="11.8" height="3.81" fill="#1E90FF"/>
<rect x="216.62" y="2019.98" width="11.8" height="4.2" fill="#7CFC00"/>
<rect x="216.62" y="2016.62" width="11.8" height="3.61" fill="#808000"/>
<rect x="216.62" y="1945.28" width="11.8" height="71.59" fill="#FFFF00"/>
<rect x="237.9" y="2298.23" width="11.8" height="46.12" fill="#DC143C"/>
<rect x="237.9" y="2064.44" width="11.8" height="234.04" fill="#0000FF"/>
<rect x="237.9" y="2045.27" width="11.8" height="19.42" fill="#FFA500"/>
<rect x="237.9" y="2023.93" width="11.8" height="21.59" fill="#9370DB"/>
<rect x="237.9" y="2019.98" width="11.8" height="4.2" fill="#98FB98"/>
<rect x="237.9" y="2015.63" width="11.8" height="4.6" fill="#1E90FF"/>
<rect x="237.9" y="2012.66" width="11.8" height="3.21" fill="#7CFC00"/>
<rect x="237.9" y="2009.11" width="11.8" height="3.81" fill="#808000"/>
<rect x="237.9" y="1945.28" width="11.8" height="64.08" fill="#FFFF00"/>
<rect x="259.18" y="2316.41" width="11.8" height="27.94" fill="#DC143C"/>
<rect x="259.18" y="2087.76" width="11.8" height="228.9" fill="#0000FF"/>
<rect x="259.18" y="2076.89" width="11.8" height="11.12" fill="#FFA500"/>
<rect x="259.18" y="2067.8" width="11.8" height="9.34" fill="#9370DB"/>
<rect x="259.18" y="2063.45" width="11.8" height="4.6" fill="#98FB98"/>
<rect x="259.18" y="2059.5" width="11.8" height="4.2" fill="#7CFC00"/>
<rect x="259.18" y="1945.28" width="11.8" height="114.47" fill="#FFFF00"/>
<rect x="280.46" y="2314.43" width="11.8" height="29.92" fill="#DC143C"/>
<rect x="280.46" y="2050.61" width="11.8" height="264.07" fill="#0000FF"/>
<rect x="280.46" y="2047.25" width="11.8" height="3.61" fill="#20B2AA"/>
<rect x="280.46" y="2034.8" width="11.8" height="12.7" fill="#FFA500"/>
<rect x="280.46" y="2023.93" width="11.8" height="11.12" fill="#9370DB"/>
<rect x="280.46" y="2020.96" width="11.8" height="3.21" fill="#98FB98"/>
<rect x="280.46" y="2018" width="11.8" height="3.21" fill="#1E90FF"/>
<rect x="280.46" y="2015.63" width="11.8" height="2.62" fill="#7CFC00"/>
<rect x="280.46" y="2013.65" width="11.8" height="2.23" fill="#808000"/>
<rect x="280.46" y="1945.28" width="11.8" height="68.63" fill="#FFFF00"/>
<rect x="301.74" y="2292.69" width="11.8" height="51.66" fill="#DC143C"/>
<rect x="301.74" y="2043.3" width="11.8" height="249.65" fill="#0000FF"/>
<rect x="301.74" y="2029.86" width="11.8" height="13.69" fill="#FFA500"/>
<rect x="301.74" y="2013.06" width="11.8" height="17.05" fill="#9370DB"/>
<rect x="301.74" y="2007.72" width="11.8" height="5.59" fill="#98FB98"/>
<rect x="301.74" y="1997.25" width="11.8" height="10.72" fill="#1E90FF"/>
<rect x="301.74" y="1994.29" width="11.8" height="3.21" fill="#7CFC00"/>
<rect x="301.74" y="1945.28" width="11.8" height="49.26" fill="#FFFF00"/>
<rect x="323.02" y="2288.74" width="11.8" height="55.61" fill="#DC143C"/>
<rect x="323.02" y="2201.39" width="11.8" height="87.6" fill="#0000FF"/>
<rect x="323.02" y="2165.23" width="11.8" height="36.41" fill="#FFA500"/>
<rect x="323.02" y="2110.49" width="11.8" height="54.99" fill="#9370DB"/>
<rect x="323.02" y="2107.92" width="11.8" height="2.82" fill="#98FB98"/>
<rect x="323.02" y="2105.35" width="11.8" height="2.82" fill="#1E90FF"/>
<rect x="323.02" y="2102.58" width="11.8" height="3.02" fill="#7CFC00"/>
<rect x="323.02" y="1945.28" width="11.8" height="157.56" fill="#FFFF00"/>
<rect x="344.3" y="2266.01" width="11.8" height="78.34" fill="#DC143C"/>
<rect x="344.3" y="2189.54" width="11.8" height="76.73" fill="#0000FF"/>
<rect x="344.3" y="2132.23" width="11.8" height="57.56" fill="#FFA500"/>
<rect x="344.3" y="2077.29" width="11.8" height="55.19" fill="#9370DB"/>
<rect x="344.3" y="2070.96" width="11.8" height="6.57" fill="#98FB98"/>
<rect x="344.3" y="2068.39" width="11.8" height="2.82" fill="#1E90FF"/>
<rect x="344.3" y="2065.43" width="11.8" height="3.21" fill="#7CFC00"/>
<rect x="344.3" y="2062.47" width="11.8" height="3.21" fill="#808000"/>
<rect x="344.3" y="1945.28" width="11.8" height="117.44" fill="#FFFF00"/>
<rect x="365.58" y="2312.85" width="11.8" height="31.5" fill="#DC143C"/>
<rect x="365.58" y="2185.98" width="11.8" height="127.12" fill="#0000FF"/>
<rect x="365.58" y="2151.99" width="11.8" height="34.24" fill="#FFA500"/>
<rect x="365.58" y="2091.52" width="11.8" height="60.72" fill="#9370DB"/>
<rect x="365.58" y="2088.75" width="11.8" height="3.02" fill="#1E90FF"/>
<rect x="365.58" y="2086.77" width="11.8" height="2.23" fill="#7CFC00"/>
<rect x="365.58" y="1945.28" width="11.8" height="141.75" fill="#FFFF00"/>
<rect x="386.86" y="2311.47" width="11.8" height="32.88" fill="#DC143C"/>
<rect x="386.86" y="2296.25" width="11.8" height="15.47" fill="#0000FF"/>
<rect x="386.86" y="2107.92" width="11.8" height="188.58" fill="#20B2AA"/>
<rect x="386.86" y="2104.36" width="11.8" height="3.81" fill="#FFA500"/>
<rect x="386.86" y="2093.1" width="11.8" height="11.51" fill="#9370DB"/>
<rect x="386.86" y="2051.6" width="11.8" height="41.75" fill="#98FB98"/>
<rect x="386.86" y="2032.82" width="11.8" height="19.02" fill="#F08080"/>
<rect x="386.86" y="1997.25" width="11.8" height="35.82" fill="#1E90FF"/>
<rect x="386.86" y="1993.89" width="11.8" height="3.61" fill="#808000"/>
<rect x="386.86" y="1945.28" width="11.8" height="48.86" fill="#FFFF00"/>
<rect x="408.14" y="2301.59" width="11.8" height="42.76" fill="#DC143C"/>
<rect x="408.14" y="2283.21" width="11.8" height="18.63" fill="#0000FF"/>
<rect x="408.14" y="2105.94" width="11.8" height="177.52" fill="#20B2AA"/>
<rect x="408.14" y="2092.11" width="11.8" height="14.08" fill="#FFA500"/>
<rect x="408.14" y="2066.02" width="11.8" height="26.34" fill="#9370DB"/>
<rect x="408.14" y="2025.91" width="11.8" height="40.37" fill="#98FB98"/>
<rect x="408.14" y="2015.63" width="11.8" height="10.53" fill="#F08080"/>
<rect x="408.14" y="2009.7" width="11.8" height="6.18" fill="#1E90FF"/>
<rect x="408.14" y="2006.54" width="11.8" height="3.41" fill="#808000"/>
<rect x="408.14" y="1945.28" width="11.8" height="61.51" fill="#FFFF00"/>
<rect x="429.42" y="2310.48" width="11.8" height="33.87" fill="#DC143C"/>
<rect x="429.42" y="2298.62" width="11.8" height="12.11" fill="#0000FF"/>
<rect x="429.42" y="2110.88" width="11.8" height="187.99" fill="#20B2AA"/>
<rect x="429.42" y="2102.58" width="11.8" height="8.55" fill="#FFA500"/>
<rect x="429.42" y="2087.17" width="11.8" height="15.66" fill="#9370DB"/>
<rect x="429.42" y="2051.2" width="11.8" height="36.22" fill="#98FB98"/>
<rect x="429.42" y="2040.13" width="11.8" height="11.32" fill="#F08080"/>
<rect x="429.42" y="2012.07" width="11.8" height="28.31" fill="#1E90FF"/>
<rect x="429.42" y="2010.1" width="11.8" height="2.23" fill="#808000"/>
<rect x="429.42" y="1945.28" width="11.8" height="65.07" fill="#FFFF00"/>
<rect x="450.7" y="2240.32" width="11.8" height="104.03" fill="#DC143C"/>
<rect x="450.7" y="2229.45" width="11.8" height="11.12" fill="#0000FF"/>
<rect x="450.7" y="2185.98" width="11.8" height="43.73" fill="#20B2AA"/>
<rect x="450.7" y="2173.13" width="11.8" height="13.1" fill="#FFA500"/>
<rect x="450.7" y="2109.89" width="11.8" height="63.49" fill="#9370DB"/>
<rect x="450.7" y="2007.13" width="11.8" height="103.01" fill="#98FB98"/>
<rect x="450.7" y="2001.8" width="11.8" height="5.59" fill="#F08080"/>
<rect x="450.7" y="1998.24" width="11.8" height="3.81" fill="#1E90FF"/>
<rect x="450.7" y="1996.66" width="11.8" height="1.83" fill="#808000"/>
<rect x="450.7" y="1945.28" width="11.8" height="51.63" fill="#FFFF00"/>
<rect x="471.98" y="2267.99" width="11.8" height="76.36" fill="#DC143C"/>
<rect x="471.98" y="2242.89" width="11.8" height="25.35" fill="#0000FF"/>
<rect x="471.98" y="2217.6" width="11.8" height="25.55" fill="#20B2AA"/>
<rect x="471.98" y="2204.16" width="11.8" height="13.69" fill="#FFA500"/>
<rect x="471.98" y="2120.37" width="11.8" height="84.04" fill="#9370DB"/>
<rect x="471.98" y="2055.55" width="11.8" height="65.07" fill="#98FB98"/>
<rect x="471.98" y="2048.04" width="11.8" height="7.76" fill="#F08080"/>
<rect x="471.98" y="2040.13" width="11.8" height="8.15" fill="#1E90FF"/>
<rect x="471.98" y="2028.28" width="11.8" height="12.11" fill="#7CFC00"/>
<rect x="471.98" y="2026.3" width="11.8" height="2.23" fill="#808000"/>
<rect x="471.98" y="1945.28" width="11.8" height="81.27" fill="#FFFF00"/>
<rect x="493.26" y="2281.23" width="11.8" height="63.12" fill="#DC143C"/>
<rect x="493.26" y="2261.47" width="11.8" height="20.01" fill="#0000FF"/>
<rect x="493.26" y="2235.98" width="11.8" height="25.74" fill="#20B2AA"/>
<rect x="493.26" y="2229.85" width="11.8" height="6.38" fill="#FFA500"/>
<rect x="493.26" y="2115.82" width="11.8" height="114.28" fill="#9370DB"/>
<rect x="493.26" y="2055.55" width="11.8" height="60.52" fill="#98FB98"/>
<rect x="493.26" y="2052.19" width="11.8" height="3.61" fill="#F08080"/>
<rect x="493.26" y="2046.06" width="11.8" height="6.38" fill="#1E90FF"/>
<rect x="493.26" y="2016.42" width="11.8" height="29.89" fill="#7CFC00"/>
<rect x="493.26" y="1945.28" width="11.8" height="71.39" fill="#FFFF00"/>
<rect x="514.54" y="2280.44" width="11.8" height="63.91" fill="#DC143C"/>
<rect x="514.54" y="2275.9" width="11.8" height="4.8" fill="#0000FF"/>
<rect x="514.54" y="2236.37" width="11.8" height="39.77" fill="#20B2AA"/>
<rect x="514.54" y="2227.48" width="11.8" height="9.14" fill="#FFA500"/>
<rect x="514.54" y="2215.62" width="11.8" height="12.11" fill="#9370DB"/>
<rect x="514.54" y="2214.04" width="11.8" height="1.83" fill="#98FB98"/>
<rect x="514.54" y="2134.2" width="11.8" height="80.09" fill="#F08080"/>
<rect x="514.54" y="2091.52" width="11.8" height="42.94" fill="#1E90FF"/>
<rect x="514.54" y="2085.19" width="11.8" height="6.57" fill="#7CFC00"/>
<rect x="514.54" y="1945.28" width="11.8" height="140.17" fill="#FFFF00"/>
<rect x="535.82" y="2251.79" width="11.8" height="92.56" fill="#DC143C"/>
<rect x="535.82" y="2223.13" width="11.8" height="28.9" fill="#0000FF"/>
<rect x="535.82" y="2098.63" width="11.8" height="124.75" fill="#20B2AA"/>
<rect x="535.82" y="2067.01" width="11.8" height="31.87" fill="#FFA500"/>
<rect x="535.82" y="2036.77" width="11.8" height="30.49" fill="#9370DB"/>
<rect x="535.82" y="2025.51" width="11.8" height="11.51" fill="#98FB98"/>
<rect x="535.82" y="2023.53" width="11.8" height="2.23" fill="#F08080"/>
<rect x="535.82" y="2009.11" width="11.8" height="14.68" fill="#1E90FF"/>
<rect x="535.82" y="2004.17" width="11.8" height="5.19" fill="#7CFC00"/>
<rect x="535.82" y="1945.28" width="11.8" height="59.14" fill="#FFFF00"/>
<rect x="557.1" y="2186.37" width="11.8" height="157.98" fill="#DC143C"/>
<rect x="557.1" y="2168.59" width="11.8" height="18.04" fill="#0000FF"/>
<rect x="557.1" y="2146.06" width="11.8" height="22.78" fill="#20B2AA"/>
<rect x="557.1" y="2132.23" width="11.8" height="14.08" fill="#FFA500"/>
<rect x="557.1" y="2093.69" width="11.8" height="38.79" fill="#9370DB"/>
<rect x="557.1" y="2087.56" width="11.8" height="6.38" fill="#98FB98"/>
<rect x="557.1" y="2009.7" width="11.8" height="78.11" fill="#1E90FF"/>
<rect x="557.1" y="1997.84" width="11.8" height="12.11" fill="#7CFC00"/>
<rect x="557.1" y="1945.28" width="11.8" height="52.82" fill="#FFFF00"/>
<rect x="578.38" y="2319.97" width="11.8" height="24.38" fill="#DC143C"/>
<rect x="578.38" y="2317.99" width="11.8" height="2.23" fill="#0000FF"/>
<rect x="578.38" y="2068.99" width="11.8" height="249.25" fill="#20B2AA"/>
<rect x="578.38" y="2062.47" width="11.8" height="6.77" fill="#FFA500"/>
<rect x="578.38" y="2055.94" width="11.8" height="6.77" fill="#9370DB"/>
<rect x="578.38" y="2053.57" width="11.8" height="2.62" fill="#98FB98"/>
<rect x="578.38" y="2049.62" width="11.8" height="4.2" fill="#F08080"/>
<rect x="578.38" y="2047.64" width="11.8" height="2.23" fill="#1E90FF"/>
<rect x="578.38" y="2027.49" width="11.8" height="20.41" fill="#7CFC00"/>
<rect x="578.38" y="1945.28" width="11.8" height="82.46" fill="#FFFF00"/>
<rect x="599.66" y="2158.9" width="11.8" height="185.45" fill="#DC143C"/>
<rect x="599.66" y="2131.63" width="11.8" height="27.52" fill="#20B2AA"/>
<rect x="599.66" y="2126.3" width="11.8" height="5.59" fill="#9370DB"/>
<rect x="599.66" y="2121.75" width="11.8" height="4.8" fill="#98FB98"/>
<rect x="599.66" y="2119.18" width="11.8" height="2.82" fill="#1E90FF"/>
<rect x="599.66" y="2065.82" width="11.8" height="53.61" fill="#7CFC00"/>
<rect x="599.66" y="1945.28" width="11.8" height="120.8" fill="#FFFF00"/>
<rect x="620.94" y="2302.57" width="11.8" height="41.78" fill="#DC143C"/>
<rect x="620.94" y="2114.44" width="11.8" height="188.38" fill="#20B2AA"/>
<rect x="620.94" y="2112.86" width="11.8" height="1.83" fill="#FFA500"/>
<rect x="620.94" y="2074.32" width="11.8" height="38.79" fill="#7CFC00"/>
<rect x="620.94" y="1945.28" width="11.8" height="129.3" fill="#FFFF00"/>
<rect x="642.22" y="2298.23" width="11.8" height="46.12" fill="#DC143C"/>
<rect x="642.22" y="2256.73" width="11.8" height="41.75" fill="#0000FF"/>
<rect x="642.22" y="2250.2" width="11.8" height="6.77" fill="#20B2AA"/>
<rect x="642.22" y="2201.39" width="11.8" height="49.06" fill="#FFA500"/>
<rect x="642.22" y="2184.4" width="11.8" height="17.25" fill="#9370DB"/>
<rect x="642.22" y="2086.77" width="11.8" height="97.87" fill="#98FB98"/>
<rect x="642.22" y="2078.87" width="11.8" height="8.15" fill="#F08080"/>
<rect x="642.22" y="2075.71" width="11.8" height="3.41" fill="#1E90FF"/>
<rect x="642.22" y="2071.75" width="11.8" height="4.2" fill="#7CFC00"/>
<rect x="642.22" y="1945.28" width="11.8" height="126.73" fill="#FFFF00"/>
<rect x="663.5" y="2284.79" width="11.8" height="59.56" fill="#DC143C"/>
<rect x="663.5" y="2245.66" width="11.8" height="39.38" fill="#0000FF"/>
<rect x="663.5" y="2176.49" width="11.8" height="69.42" fill="#FFA500"/>
<rect x="663.5" y="2154.75" width="11.8" height="21.99" fill="#9370DB"/>
<rect x="663.5" y="2053.57" width="11.8" height="101.43" fill="#98FB98"/>
<rect x="663.5" y="2045.67" width="11.8" height="8.15" fill="#F08080"/>
<rect x="663.5" y="2041.72" width="11.8" height="4.2" fill="#1E90FF"/>
<rect x="663.5" y="1945.28" width="11.8" height="96.69" fill="#FFFF00"/>
<rect x="684.78" y="2318.38" width="11.8" height="25.97" fill="#DC143C"/>
<rect x="684.78" y="2287.16" width="11.8" height="31.47" fill="#0000FF"/>
<rect x="684.78" y="2212.06" width="11.8" height="75.35" fill="#FFA500"/>
<rect x="684.78" y="2194.28" width="11.8" height="18.04" fill="#9370DB"/>
<rect x="684.78" y="2081.63" width="11.8" height="112.89" fill="#98FB98"/>
<rect x="684.78" y="2074.92" width="11.8" height="6.97" fill="#F08080"/>
<rect x="684.78" y="2071.75" width="11.8" height="3.41" fill="#1E90FF"/>
<rect x="684.78" y="2069.38" width="11.8" height="2.62" fill="#7CFC00"/>
<rect x="684.78" y="1945.28" width="11.8" height="124.36" fill="#FFFF00"/>
<rect x="706.06" y="2252.77" width="11.8" height="91.58" fill="#DC143C"/>
<rect x="706.06" y="2223.92" width="11.8" height="29.1" fill="#0000FF"/>
<rect x="706.06" y="2221.55" width="11.8" height="2.62" fill="#20B2AA"/>
<rect x="706.06" y="2169.77" width="11.8" height="52.03" fill="#FFA500"/>
<rect x="706.06" y="2085.19" width="11.8" height="84.83" fill="#9370DB"/>
<rect x="706.06" y="2064.44" width="11.8" height="21" fill="#98FB98"/>
<rect x="706.06" y="2062.47" width="11.8" height="2.23" fill="#1E90FF"/>
<rect x="706.06" y="2057.13" width="11.8" height="5.59" fill="#808000"/>
<rect x="706.06" y="1945.28" width="11.8" height="112.1" fill="#FFFF00"/>
<rect x="727.34" y="2265.03" width="11.8" height="79.32" fill="#DC143C"/>
<rect x="727.34" y="2240.92" width="11.8" height="24.36" fill="#0000FF"/>
<rect x="727.34" y="2227.48" width="11.8" height="13.69" fill="#20B2AA"/>
<rect x="727.34" y="2125.11" width="11.8" height="102.62" fill="#FFA500"/>
<rect x="727.34" y="2047.64" width="11.8" height="77.72" fill="#9370DB"/>
<rect x="727.34" y="2026.3" width="11.8" height="21.59" fill="#98FB98"/>
<rect x="727.34" y="2018.4" width="11.8" height="8.15" fill="#F08080"/>
<rect x="727.34" y="2015.04" width="11.8" height="3.61" fill="#1E90FF"/>
<rect x="727.34" y="2013.06" width="11.8" height="2.23" fill="#7CFC00"/>
<rect x="727.34" y="2008.12" width="11.8" height="5.19" fill="#808000"/>
<rect x="727.34" y="1945.28" width="11.8" height="63.09" fill="#FFFF00"/>
<rect x="748.62" y="2208.11" width="11.8" height="136.24" fill="#DC143C"/>
<rect x="748.62" y="2182.42" width="11.8" height="25.94" fill="#0000FF"/>
<rect x="748.62" y="2163.84" width="11.8" height="18.83" fill="#20B2AA"/>
<rect x="748.62" y="2094.68" width="11.8" height="69.42" fill="#FFA500"/>
<rect x="748.62" y="2033.42" width="11.8" height="61.51" fill="#9370DB"/>
<rect x="748.62" y="2007.13" width="11.8" height="26.53" fill="#98FB98"/>
<rect x="748.62" y="2001.2" width="11.8" height="6.18" fill="#F08080"/>
<rect x="748.62" y="1997.84" width="11.8" height="3.61" fill="#1E90FF"/>
<rect x="748.62" y="1995.27" width="11.8" height="2.82" fill="#7CFC00"/>
<rect x="748.62" y="1992.31" width="11.8" height="3.21" fill="#808000"/>
<rect x="748.62" y="1945.28" width="11.8" height="47.28" fill="#FFFF00"/>
<rect x="769.9" y="2272.54" width="11.8" height="71.81" fill="#DC143C"/>
<rect x="769.9" y="2246.85" width="11.8" height="25.94" fill="#0000FF"/>
<rect x="769.9" y="2234.99" width="11.8" height="12.11" fill="#20B2AA"/>
<rect x="769.9" y="2115.82" width="11.8" height="119.42" fill="#FFA500"/>
<rect x="769.9" y="2073.33" width="11.8" height="42.74" fill="#9370DB"/>
<rect x="769.9" y="2036.77" width="11.8" height="36.81" fill="#98FB98"/>
<rect x="769.9" y="2033.42" width="11.8" height="3.61" fill="#F08080"/>
<rect x="769.9" y="2028.87" width="11.8" height="4.8" fill="#1E90FF"/>
<rect x="769.9" y="2023.53" width="11.8" height="5.59" fill="#808000"/>
<rect x="769.9" y="1945.28" width="11.8" height="78.51" fill="#FFFF00"/>
<rect x="791.18" y="2248.23" width="11.8" height="96.12" fill="#DC143C"/>
<rect x="791.18" y="2219.57" width="11.8" height="28.9" fill="#0000FF"/>
<rect x="791.18" y="2185.58" width="11.8" height="34.24" fill="#20B2AA"/>
<rect x="791.18" y="2076.3" width="11.8" height="109.53" fill="#FFA500"/>
<rect x="791.18" y="2036.18" width="11.8" height="40.37" fill="#9370DB"/>
<rect x="791.18" y="2008.12" width="11.8" height="28.31" fill="#98FB98"/>
<rect x="791.18" y="2005.75" width="11.8" height="2.62" fill="#F08080"/>
<rect x="791.18" y="1999.23" width="11.8" height="6.77" fill="#1E90FF"/>
<rect x="791.18" y="1995.27" width="11.8" height="4.2" fill="#808000"/>
<rect x="791.18" y="1945.28" width="11.8" height="50.25" fill="#FFFF00"/>
<rect x="812.46" y="2279.85" width="11.8" height="64.5" fill="#DC143C"/>
<rect x="812.46" y="2249.22" width="11.8" height="30.88" fill="#0000FF"/>
<rect x="812.46" y="2236.37" width="11.8" height="13.1" fill="#20B2AA"/>
<rect x="812.46" y="2102.58" width="11.8" height="134.04" fill="#FFA500"/>
<rect x="812.46" y="2037.76" width="11.8" height="65.07" fill="#9370DB"/>
<rect x="812.46" y="2012.47" width="11.8" height="25.55" fill="#98FB98"/>
<rect x="812.46" y="1997.25" width="11.8" height="15.47" fill="#1E90FF"/>
<rect x="812.46" y="1992.31" width="11.8" height="5.19" fill="#808000"/>
<rect x="812.46" y="1945.28" width="11.8" height="47.28" fill="#FFFF00"/>
<rect x="833.74" y="2306.53" width="11.8" height="37.82" fill="#DC143C"/>
<rect x="833.74" y="2288.74" width="11.8" height="18.04" fill="#0000FF"/>
<rect x="833.74" y="2271.94" width="11.8" height="17.05" fill="#20B2AA"/>
<rect x="833.74" y="2146.06" width="11.8" height="126.13" fill="#FFA500"/>
<rect x="833.74" y="2070.37" width="11.8" height="75.94" fill="#9370DB"/>
<rect x="833.74" y="2055.55" width="11.8" height="15.07" fill="#98FB98"/>
<rect x="833.74" y="2053.18" width="11.8" height="2.62" fill="#1E90FF"/>
<rect x="833.74" y="2047.25" width="11.8" height="6.18" fill="#7CFC00"/>
<rect x="833.74" y="2036.18" width="11.8" height="11.32" fill="#808000"/>
<rect x="833.74" y="1945.28" width="11.8" height="91.16" fill="#FFFF00"/>
<rect x="855.02" y="2227.87" width="11.8" height="116.48" fill="#DC143C"/>
<rect x="855.02" y="2210.09" width="11.8" height="18.04" fill="#0000FF"/>
<rect x="855.02" y="2136.57" width="11.8" height="73.76" fill="#FFA500"/>
<rect x="855.02" y="2086.77" width="11.8" height="50.05" fill="#9370DB"/>
<rect x="855.02" y="2075.71" width="11.8" height="11.32" fill="#98FB98"/>
<rect x="855.02" y="2074.32" width="11.8" height="1.63" fill="#1E90FF"/>
<rect x="855.02" y="2049.22" width="11.8" height="25.35" fill="#7CFC00"/>
<rect x="855.02" y="2040.13" width="11.8" height="9.34" fill="#808000"/>
<rect x="855.02" y="1945.28" width="11.8" height="95.11" fill="#FFFF00"/>
<rect x="876.3" y="2313.44" width="11.8" height="30.91" fill="#DC143C"/>
<rect x="876.3" y="2295.06" width="11.8" height="18.63" fill="#0000FF"/>
<rect x="876.3" y="2293.09" width="11.8" height="2.23" fill="#20B2AA"/>
<rect x="876.3" y="2153.96" width="11.8" height="139.37" fill="#FFA500"/>
<rect x="876.3" y="2096.06" width="11.8" height="58.15" fill="#9370DB"/>
<rect x="876.3" y="2050.02" width="11.8" height="46.3" fill="#98FB98"/>
<rect x="876.3" y="2048.63" width="11.8" height="1.63" fill="#1E90FF"/>
<rect x="876.3" y="2046.66" width="11.8" height="2.23" fill="#7CFC00"/>
<rect x="876.3" y="2038.16" width="11.8" height="8.75" fill="#808000"/>
<rect x="876.3" y="1945.28" width="11.8" height="93.13" fill="#FFFF00"/>
<rect x="897.58" y="2079.66" width="11.8" height="264.69" fill="#DC143C"/>
<rect x="897.58" y="2036.18" width="11.8" height="43.73" fill="#20B2AA"/>
<rect x="897.58" y="2033.81" width="11.8" height="2.62" fill="#98FB98"/>
<rect x="897.58" y="2031.83" width="11.8" height="2.23" fill="#F08080"/>
<rect x="897.58" y="2021.95" width="11.8" height="10.13" fill="#7CFC00"/>
<rect x="897.58" y="1945.28" width="11.8" height="76.93" fill="#FFFF00"/>
<rect x="918.86" y="2126.3" width="11.8" height="218.05" fill="#DC143C"/>
<rect x="918.86" y="2005.16" width="11.8" height="121.39" fill="#20B2AA"/>
<rect x="918.86" y="2004.17" width="11.8" height="1.24" fill="#9370DB"/>
<rect x="918.86" y="1945.28" width="11.8" height="59.14" fill="#FFFF00"/>
<rect x="940.14" y="2075.71" width="11.8" height="268.64" fill="#DC143C"/>
<rect x="940.14" y="1990.33" width="11.8" height="85.62" fill="#20B2AA"/>
<rect x="940.14" y="1945.28" width="11.8" height="45.31" fill="#FFFF00"/>
<rect x="961.42" y="2136.97" width="11.8" height="207.38" fill="#DC143C"/>
<rect x="961.42" y="2004.56" width="11.8" height="132.66" fill="#20B2AA"/>
<rect x="961.42" y="2002.59" width="11.8" height="2.23" fill="#9370DB"/>
<rect x="961.42" y="1945.28" width="11.8" height="57.56" fill="#FFFF00"/>
<rect x="982.7" y="2125.7" width="11.8" height="218.65" fill="#DC143C"/>
<rect x="982.7" y="2117.8" width="11.8" height="8.15" fill="#0000FF"/>
<rect x="982.7" y="2111.87" width="11.8" height="6.18" fill="#FFA500"/>
<rect x="982.7" y="2098.63" width="11.8" height="13.49" fill="#9370DB"/>
<rect x="982.7" y="2094.08" width="11.8" height="4.8" fill="#7CFC00"/>
<rect x="982.7" y="2091.52" width="11.8" height="2.82" fill="#808000"/>
<rect x="982.7" y="1945.28" width="11.8" height="146.49" fill="#FFFF00"/>
<rect x="1003.98" y="2164.64" width="11.8" height="179.71" fill="#DC143C"/>
<rect x="1003.98" y="2060.49" width="11.8" height="104.4" fill="#20B2AA"/>
<rect x="1003.98" y="2057.52" width="11.8" height="3.21" fill="#9370DB"/>
<rect x="1003.98" y="1945.28" width="11.8" height="112.5" fill="#FFFF00"/>
<rect x="1025.26" y="2249.22" width="11.8" height="95.13" fill="#DC143C"/>
<rect x="1025.26" y="2217.6" width="11.8" height="31.87" fill="#20B2AA"/>
<rect x="1025.26" y="2151.99" width="11.8" height="65.86" fill="#7CFC00"/>
<rect x="1025.26" y="1945.28" width="11.8" height="206.96" fill="#FFFF00"/>
<rect x="1046.54" y="1952.39" width="11.8" height="391.96" fill="#DC143C"/>
<rect x="1046.54" y="1949.23" width="11.8" height="3.41" fill="#20B2AA"/>
<rect x="1046.54" y="1945.28" width="11.8" height="4.2" fill="#FFFF00"/>
<rect x="1067.82" y="2166.61" width="11.8" height="177.74" fill="#DC143C"/>
<rect x="1067.82" y="2072.35" width="11.8" height="94.52" fill="#20B2AA"/>
<rect x="1067.82" y="2069.78" width="11.8" height="2.82" fill="#9370DB"/>
<rect x="1067.82" y="1945.28" width="11.8" height="124.75" fill="#FFFF00"/>
<rect x="1089.1" y="2214.04" width="11.8" height="130.31" fill="#DC143C"/>
<rect x="1089.1" y="2180.05" width="11.8" height="34.24" fill="#20B2AA"/>
<rect x="1089.1" y="2148.43" width="11.8" height="31.87" fill="#7CFC00"/>
<rect x="1089.1" y="1945.28" width="11.8" height="203.4" fill="#FFFF00"/>
<rect x="1110.38" y="2160.29" width="11.8" height="184.06" fill="#DC143C"/>
<rect x="1110.38" y="2067.8" width="11.8" height="92.74" fill="#20B2AA"/>
<rect x="1110.38" y="2064.44" width="11.8" height="3.61" fill="#9370DB"/>
<rect x="1110.38" y="2060.49" width="11.8" height="4.2" fill="#7CFC00"/>
<rect x="1110.38" y="1945.28" width="11.8" height="115.46" fill="#FFFF00"/>
<rect x="1131.66" y="2236.37" width="11.8" height="107.98" fill="#DC143C"/>
<rect x="1131.66" y="2234.4" width="11.8" height="2.23" fill="#0000FF"/>
<rect x="1131.66" y="2091.52" width="11.8" height="143.13" fill="#20B2AA"/>
<rect x="1131.66" y="2089.14" width="11.8" height="2.62" fill="#F08080"/>
<rect x="1131.66" y="2085.19" width="11.8" height="4.2" fill="#98FB98"/>
<rect x="1131.66" y="2082.82" width="11.8" height="2.62" fill="#7CFC00"/>
<rect x="1131.66" y="1945.28" width="11.8" height="137.79" fill="#FFFF00"/>
<line x1="127.2" y1="1944.3" x2="127.2" y2="2345.3" stroke="#000" stroke-width="2.4"/>
<line x1="126" y1="2344.1" x2="1147.3" y2="2344.1" stroke="#000" stroke-width="2.4"/>
<line x1="120.2" y1="2344.1" x2="127.2" y2="2344.1" stroke="#000" stroke-width="2"/>
<text x="119.4" y="2351.48" font-family="'DejaVu Sans', 'Liberation Sans', sans-serif" font-size="20.5" text-anchor="end" fill="#111" stroke="#111" stroke-width="0.35">0</text>
<line x1="120.2" y1="2244.4" x2="127.2" y2="2244.4" stroke="#000" stroke-width="2"/>
<text x="119.4" y="2251.78" font-family="'DejaVu Sans', 'Liberation Sans', sans-serif" font-size="20.5" text-anchor="end" fill="#111" stroke="#111" stroke-width="0.35">0.25</text>
<line x1="120.2" y1="2144.7" x2="127.2" y2="2144.7" stroke="#000" stroke-width="2"/>
<text x="119.4" y="2152.08" font-family="'DejaVu Sans', 'Liberation Sans', sans-serif" font-size="20.5" text-anchor="end" fill="#111" stroke="#111" stroke-width="0.35">0.5</text>
<line x1="120.2" y1="2045" x2="127.2" y2="2045" stroke="#000" stroke-width="2"/>
<text x="119.4" y="2052.38" font-family="'DejaVu Sans', 'Liberation Sans', sans-serif" font-size="20.5" text-anchor="end" fill="#111" stroke="#111" stroke-width="0.35">0.75</text>
<line x1="120.2" y1="1945.3" x2="127.2" y2="1945.3" stroke="#000" stroke-width="2"/>
<text x="119.4" y="1952.68" font-family="'DejaVu Sans', 'Liberation Sans', sans-serif" font-size="20.5" text-anchor="end" fill="#111" stroke="#111" stroke-width="0.35">1</text>
<line x1="148.04" y1="2344.1" x2="148.04" y2="2348.1" stroke="#000" stroke-width="1.6"/>
<line x1="169.32" y1="2344.1" x2="169.32" y2="2348.1" stroke="#000" stroke-width="1.6"/>
<line x1="190.6" y1="2344.1" x2="190.6" y2="2348.1" stroke="#000" stroke-width="1.6"/>
<line x1="211.88" y1="2344.1" x2="211.88" y2="2348.1" stroke="#000" stroke-width="1.6"/>
<line x1="233.16" y1="2344.1" x2="233.16" y2="2348.1" stroke="#000" stroke-width="1.6"/>
<line x1="254.44" y1="2344.1" x2="254.44" y2="2348.1" stroke="#000" stroke-width="1.6"/>
<line x1="275.72" y1="2344.1" x2="275.72" y2="2348.1" stroke="#000" stroke-width="1.6"/>
<line x1="297" y1="2344.1" x2="297" y2="2348.1" stroke="#000" stroke-width="1.6"/>
<line x1="318.28" y1="2344.1" x2="318.28" y2="2348.1" stroke="#000" stroke-width="1.6"/>
<line x1="339.56" y1="2344.1" x2="339.56" y2="2348.1" stroke="#000" stroke-width="1.6"/>
<line x1="360.84" y1="2344.1" x2="360.84" y2="2348.1" stroke="#000" stroke-width="1.6"/>
<line x1="382.12" y1="2344.1" x2="382.12" y2="2348.1" stroke="#000" stroke-width="1.6"/>
<line x1="403.4" y1="2344.1" x2="403.4" y2="2348.1" stroke="#000" stroke-width="1.6"/>
<line x1="424.68" y1="2344.1" x2="424.68" y2="2348.1" stroke="#000" stroke-width="1.6"/>
<line x1="445.96" y1="2344.1" x2="445.96" y2="2348.1" stroke="#000" stroke-width="1.6"/>
<line x1="467.24" y1="2344.1" x2="467.24" y2="2348.1" stroke="#000" stroke-width="1.6"/>
<line x1="488.52" y1="2344.1" x2="488.52" y2="2348.1" stroke="#000" stroke-width="1.6"/>
<line x1="509.8" y1="2344.1" x2="509.8" y2="2348.1" stroke="#000" stroke-width="1.6"/>
<line x1="531.08" y1="2344.1" x2="531.08" y2="2348.1" stroke="#000" stroke-width="1.6"/>
<line x1="552.36" y1="2344.1" x2="552.36" y2="2348.1" stroke="#000" stroke-width="1.6"/>
<line x1="573.64" y1="2344.1" x2="573.64" y2="2348.1" stroke="#000" stroke-width="1.6"/>
<line x1="594.92" y1="2344.1" x2="594.92" y2="2348.1" stroke="#000" stroke-width="1.6"/>
<line x1="616.2" y1="2344.1" x2="616.2" y2="2348.1" stroke="#000" stroke-width="1.6"/>
<line x1="637.48" y1="2344.1" x2="637.48" y2="2348.1" stroke="#000" stroke-width="1.6"/>
<line x1="658.76" y1="2344.1" x2="658.76" y2="2348.1" stroke="#000" stroke-width="1.6"/>
<line x1="680.04" y1="2344.1" x2="680.04" y2="2348.1" stroke="#000" stroke-width="1.6"/>
<line x1="701.32" y1="2344.1" x2="701.32" y2="2348.1" stroke="#000" stroke-width="1.6"/>
<line x1="722.6" y1="2344.1" x2="722.6" y2="2348.1" stroke="#000" stroke-width="1.6"/>
<line x1="743.88" y1="2344.1" x2="743.88" y2="2348.1" stroke="#000" stroke-width="1.6"/>
<line x1="765.16" y1="2344.1" x2="765.16" y2="2348.1" stroke="#000" stroke-width="1.6"/>
<line x1="786.44" y1="2344.1" x2="786.44" y2="2348.1" stroke="#000" stroke-width="1.6"/>
<line x1="807.72" y1="2344.1" x2="807.72" y2="2348.1" stroke="#000" stroke-width="1.6"/>
<line x1="829" y1="2344.1" x2="829" y2="2348.1" stroke="#000" stroke-width="1.6"/>
<line x1="850.28" y1="2344.1" x2="850.28" y2="2348.1" stroke="#000" stroke-width="1.6"/>
<line x1="871.56" y1="2344.1" x2="871.56" y2="2348.1" stroke="#000" stroke-width="1.6"/>
<line x1="892.84" y1="2344.1" x2="892.84" y2="2348.1" stroke="#000" stroke-width="1.6"/>
<line x1="914.12" y1="2344.1" x2="914.12" y2="2348.1" stroke="#000" stroke-width="1.6"/>
<line x1="935.4" y1="2344.1" x2="935.4" y2="2348.1" stroke="#000" stroke-width="1.6"/>
<line x1="956.68" y1="2344.1" x2="956.68" y2="2348.1" stroke="#000" stroke-width="1.6"/>
<line x1="977.96" y1="2344.1" x2="977.96" y2="2348.1" stroke="#000" stroke-width="1.6"/>
<line x1="999.24" y1="2344.1" x2="999.24" y2="2348.1" stroke="#000" stroke-width="1.6"/>
<line x1="1020.52" y1="2344.1" x2="1020.52" y2="2348.1" stroke="#000" stroke-width="1.6"/>
<line x1="1041.8" y1="2344.1" x2="1041.8" y2="2348.1" stroke="#000" stroke-width="1.6"/>
<line x1="1063.08" y1="2344.1" x2="1063.08" y2="2348.1" stroke="#000" stroke-width="1.6"/>
<line x1="1084.36" y1="2344.1" x2="1084.36" y2="2348.1" stroke="#000" stroke-width="1.6"/>
<line x1="1105.64" y1="2344.1" x2="1105.64" y2="2348.1" stroke="#000" stroke-width="1.6"/>
<line x1="1126.92" y1="2344.1" x2="1126.92" y2="2348.1" stroke="#000" stroke-width="1.6"/>
<text transform="translate(142.4 2360) rotate(-45)" font-family="'DejaVu Sans', 'Liberation Sans', sans-serif" font-size="16" text-anchor="end" fill="#111" stroke="#111" stroke-width="0.3">YM1</text>
<text transform="translate(163.68 2360) rotate(-45)" font-family="'DejaVu Sans', 'Liberation Sans', sans-serif" font-size="16" text-anchor="end" fill="#111" stroke="#111" stroke-width="0.3">YM2</text>
<text transform="translate(184.96 2360) rotate(-45)" font-family="'DejaVu Sans', 'Liberation Sans', sans-serif" font-size="16" text-anchor="end" fill="#111" stroke="#111" stroke-width="0.3">YM3</text>
<text transform="translate(206.24 2360) rotate(-45)" font-family="'DejaVu Sans', 'Liberation Sans', sans-serif" font-size="16" text-anchor="end" fill="#111" stroke="#111" stroke-width="0.3">YM4</text>
<text transform="translate(227.52 2360) rotate(-45)" font-family="'DejaVu Sans', 'Liberation Sans', sans-serif" font-size="16" text-anchor="end" fill="#111" stroke="#111" stroke-width="0.3">YM5</text>
<text transform="translate(248.8 2360) rotate(-45)" font-family="'DejaVu Sans', 'Liberation Sans', sans-serif" font-size="16" text-anchor="end" fill="#111" stroke="#111" stroke-width="0.3">YM6</text>
<text transform="translate(270.08 2360) rotate(-45)" font-family="'DejaVu Sans', 'Liberation Sans', sans-serif" font-size="16" text-anchor="end" fill="#111" stroke="#111" stroke-width="0.3">YM7</text>
<text transform="translate(291.36 2360) rotate(-45)" font-family="'DejaVu Sans', 'Liberation Sans', sans-serif" font-size="16" text-anchor="end" fill="#111" stroke="#111" stroke-width="0.3">YM8</text>
<text transform="translate(312.64 2360) rotate(-45)" font-family="'DejaVu Sans', 'Liberation Sans', sans-serif" font-size="16" text-anchor="end" fill="#111" stroke="#111" stroke-width="0.3">YM9</text>
<text transform="translate(333.92 2360) rotate(-45)" font-family="'DejaVu Sans', 'Liberation Sans', sans-serif" font-size="16" text-anchor="end" fill="#111" stroke="#111" stroke-width="0.3">YM10</text>
<text transform="translate(355.2 2360) rotate(-45)" font-family="'DejaVu Sans', 'Liberation Sans', sans-serif" font-size="16" text-anchor="end" fill="#111" stroke="#111" stroke-width="0.3">YM11</text>
<text transform="translate(376.48 2360) rotate(-45)" font-family="'DejaVu Sans', 'Liberation Sans', sans-serif" font-size="16" text-anchor="end" fill="#111" stroke="#111" stroke-width="0.3">YM12</text>
<text transform="translate(397.76 2360) rotate(-45)" font-family="'DejaVu Sans', 'Liberation Sans', sans-serif" font-size="16" text-anchor="end" fill="#111" stroke="#111" stroke-width="0.3">YG1</text>
<text transform="translate(419.04 2360) rotate(-45)" font-family="'DejaVu Sans', 'Liberation Sans', sans-serif" font-size="16" text-anchor="end" fill="#111" stroke="#111" stroke-width="0.3">YG2</text>
<text transform="translate(440.32 2360) rotate(-45)" font-family="'DejaVu Sans', 'Liberation Sans', sans-serif" font-size="16" text-anchor="end" fill="#111" stroke="#111" stroke-width="0.3">YG3</text>
<text transform="translate(461.6 2360) rotate(-45)" font-family="'DejaVu Sans', 'Liberation Sans', sans-serif" font-size="16" text-anchor="end" fill="#111" stroke="#111" stroke-width="0.3">YG4</text>
<text transform="translate(482.88 2360) rotate(-45)" font-family="'DejaVu Sans', 'Liberation Sans', sans-serif" font-size="16" text-anchor="end" fill="#111" stroke="#111" stroke-width="0.3">YG5</text>
<text transform="translate(504.16 2360) rotate(-45)" font-family="'DejaVu Sans', 'Liberation Sans', sans-serif" font-size="16" text-anchor="end" fill="#111" stroke="#111" stroke-width="0.3">YG6</text>
<text transform="translate(525.44 2360) rotate(-45)" font-family="'DejaVu Sans', 'Liberation Sans', sans-serif" font-size="16" text-anchor="end" fill="#111" stroke="#111" stroke-width="0.3">YG7</text>
<text transform="translate(546.72 2360) rotate(-45)" font-family="'DejaVu Sans', 'Liberation Sans', sans-serif" font-size="16" text-anchor="end" fill="#111" stroke="#111" stroke-width="0.3">YG8</text>
<text transform="translate(568 2360) rotate(-45)" font-family="'DejaVu Sans', 'Liberation Sans', sans-serif" font-size="16" text-anchor="end" fill="#111" stroke="#111" stroke-width="0.3">YG9</text>
<text transform="translate(589.28 2360) rotate(-45)" font-family="'DejaVu Sans', 'Liberation Sans', sans-serif" font-size="16" text-anchor="end" fill="#111" stroke="#111" stroke-width="0.3">YG10</text>
<text transform="translate(610.56 2360) rotate(-45)" font-family="'DejaVu Sans', 'Liberation Sans', sans-serif" font-size="16" text-anchor="end" fill="#111" stroke="#111" stroke-width="0.3">YG11</text>
<text transform="translate(631.84 2360) rotate(-45)" font-family="'DejaVu Sans', 'Liberation Sans', sans-serif" font-size="16" text-anchor="end" fill="#111" stroke="#111" stroke-width="0.3">YG12</text>
<text transform="translate(653.12 2360) rotate(-45)" font-family="'DejaVu Sans', 'Liberation Sans', sans-serif" font-size="16" text-anchor="end" fill="#111" stroke="#111" stroke-width="0.3">SM1</text>
<text transform="translate(674.4 2360) rotate(-45)" font-family="'DejaVu Sans', 'Liberation Sans', sans-serif" font-size="16" text-anchor="end" fill="#111" stroke="#111" stroke-width="0.3">SM2</text>
<text transform="translate(695.68 2360) rotate(-45)" font-family="'DejaVu Sans', 'Liberation Sans', sans-serif" font-size="16" text-anchor="end" fill="#111" stroke="#111" stroke-width="0.3">SM3</text>
<text transform="translate(716.96 2360) rotate(-45)" font-family="'DejaVu Sans', 'Liberation Sans', sans-serif" font-size="16" text-anchor="end" fill="#111" stroke="#111" stroke-width="0.3">SM4</text>
<text transform="translate(738.24 2360) rotate(-45)" font-family="'DejaVu Sans', 'Liberation Sans', sans-serif" font-size="16" text-anchor="end" fill="#111" stroke="#111" stroke-width="0.3">SM5</text>
<text transform="translate(759.52 2360) rotate(-45)" font-family="'DejaVu Sans', 'Liberation Sans', sans-serif" font-size="16" text-anchor="end" fill="#111" stroke="#111" stroke-width="0.3">SM6</text>
<text transform="translate(780.8 2360) rotate(-45)" font-family="'DejaVu Sans', 'Liberation Sans', sans-serif" font-size="16" text-anchor="end" fill="#111" stroke="#111" stroke-width="0.3">SM7</text>
<text transform="translate(802.08 2360) rotate(-45)" font-family="'DejaVu Sans', 'Liberation Sans', sans-serif" font-size="16" text-anchor="end" fill="#111" stroke="#111" stroke-width="0.3">SM8</text>
<text transform="translate(823.36 2360) rotate(-45)" font-family="'DejaVu Sans', 'Liberation Sans', sans-serif" font-size="16" text-anchor="end" fill="#111" stroke="#111" stroke-width="0.3">SM9</text>
<text transform="translate(844.64 2360) rotate(-45)" font-family="'DejaVu Sans', 'Liberation Sans', sans-serif" font-size="16" text-anchor="end" fill="#111" stroke="#111" stroke-width="0.3">SM10</text>
<text transform="translate(865.92 2360) rotate(-45)" font-family="'DejaVu Sans', 'Liberation Sans', sans-serif" font-size="16" text-anchor="end" fill="#111" stroke="#111" stroke-width="0.3">SM11</text>
<text transform="translate(887.2 2360) rotate(-45)" font-family="'DejaVu Sans', 'Liberation Sans', sans-serif" font-size="16" text-anchor="end" fill="#111" stroke="#111" stroke-width="0.3">SM12</text>
<text transform="translate(908.48 2360) rotate(-45)" font-family="'DejaVu Sans', 'Liberation Sans', sans-serif" font-size="16" text-anchor="end" fill="#111" stroke="#111" stroke-width="0.3">SG1</text>
<text transform="translate(929.76 2360) rotate(-45)" font-family="'DejaVu Sans', 'Liberation Sans', sans-serif" font-size="16" text-anchor="end" fill="#111" stroke="#111" stroke-width="0.3">SG2</text>
<text transform="translate(951.04 2360) rotate(-45)" font-family="'DejaVu Sans', 'Liberation Sans', sans-serif" font-size="16" text-anchor="end" fill="#111" stroke="#111" stroke-width="0.3">SG3</text>
<text transform="translate(972.32 2360) rotate(-45)" font-family="'DejaVu Sans', 'Liberation Sans', sans-serif" font-size="16" text-anchor="end" fill="#111" stroke="#111" stroke-width="0.3">SG4</text>
<text transform="translate(993.6 2360) rotate(-45)" font-family="'DejaVu Sans', 'Liberation Sans', sans-serif" font-size="16" text-anchor="end" fill="#111" stroke="#111" stroke-width="0.3">SG5</text>
<text transform="translate(1014.88 2360) rotate(-45)" font-family="'DejaVu Sans', 'Liberation Sans', sans-serif" font-size="16" text-anchor="end" fill="#111" stroke="#111" stroke-width="0.3">SG6</text>
<text transform="translate(1036.16 2360) rotate(-45)" font-family="'DejaVu Sans', 'Liberation Sans', sans-serif" font-size="16" text-anchor="end" fill="#111" stroke="#111" stroke-width="0.3">SG7</text>
<text transform="translate(1057.44 2360) rotate(-45)" font-family="'DejaVu Sans', 'Liberation Sans', sans-serif" font-size="16" text-anchor="end" fill="#111" stroke="#111" stroke-width="0.3">SG8</text>
<text transform="translate(1078.72 2360) rotate(-45)" font-family="'DejaVu Sans', 'Liberation Sans', sans-serif" font-size="16" text-anchor="end" fill="#111" stroke="#111" stroke-width="0.3">SG9</text>
<text transform="translate(1100 2360) rotate(-45)" font-family="'DejaVu Sans', 'Liberation Sans', sans-serif" font-size="16" text-anchor="end" fill="#111" stroke="#111" stroke-width="0.3">SG10</text>
<text transform="translate(1121.28 2360) rotate(-45)" font-family="'DejaVu Sans', 'Liberation Sans', sans-serif" font-size="16" text-anchor="end" fill="#111" stroke="#111" stroke-width="0.3">SG11</text>
<text transform="translate(1142.56 2360) rotate(-45)" font-family="'DejaVu Sans', 'Liberation Sans', sans-serif" font-size="16" text-anchor="end" fill="#111" stroke="#111" stroke-width="0.3">SG12</text>
<text x="636.8" y="2407.5" font-family="'DejaVu Sans', 'Liberation Sans', sans-serif" font-size="18.5" text-anchor="middle" fill="#111">Sample Name</text>
<text transform="translate(57.6 2150) rotate(-90)" font-family="'DejaVu Sans', 'Liberation Sans', sans-serif" font-size="20.5" text-anchor="middle" fill="#111">Relative Abundance</text>
<line x1="1275.8" y1="1711.2" x2="1815.7" y2="1711.2" stroke="#999" stroke-width="1.5" stroke-dasharray="3.5,3.5"/>
<line x1="1275.8" y1="1621.2" x2="1815.7" y2="1621.2" stroke="#999" stroke-width="1.5" stroke-dasharray="3.5,3.5"/>
<line x1="1275.8" y1="1531.2" x2="1815.7" y2="1531.2" stroke="#999" stroke-width="1.5" stroke-dasharray="3.5,3.5"/>
<rect x="1309.3" y="1518.6" width="68.6" height="282.85" fill="#DC143C"/>
<rect x="1309.3" y="1483.5" width="68.6" height="35.35" fill="#0000FF"/>
<rect x="1309.3" y="1464.24" width="68.6" height="19.51" fill="#20B2AA"/>
<rect x="1309.3" y="1456.32" width="68.6" height="8.17" fill="#FFA500"/>
<rect x="1309.3" y="1445.3" width="68.6" height="11.27" fill="#9370DB"/>
<rect x="1309.3" y="1444.44" width="68.6" height="1.11" fill="#808000"/>
<rect x="1309.3" y="1441.2" width="68.6" height="3.49" fill="#FFFF00"/>
<rect x="1444.5" y="1655.04" width="68.6" height="146.41" fill="#DC143C"/>
<rect x="1444.5" y="1481.7" width="68.6" height="173.59" fill="#0000FF"/>
<rect x="1444.5" y="1456.32" width="68.6" height="25.63" fill="#20B2AA"/>
<rect x="1444.5" y="1452.72" width="68.6" height="3.85" fill="#FFA500"/>
<rect x="1444.5" y="1447.68" width="68.6" height="5.29" fill="#9370DB"/>
<rect x="1444.5" y="1444.8" width="68.6" height="3.13" fill="#98FB98"/>
<rect x="1444.5" y="1441.2" width="68.6" height="3.85" fill="#FFFF00"/>
<rect x="1579.7" y="1637.18" width="68.6" height="164.27" fill="#DC143C"/>
<rect x="1579.7" y="1568.89" width="68.6" height="68.54" fill="#0000FF"/>
<rect x="1579.7" y="1477.49" width="68.6" height="91.65" fill="#20B2AA"/>
<rect x="1579.7" y="1470.11" width="68.6" height="7.63" fill="#FFA500"/>
<rect x="1579.7" y="1456" width="68.6" height="14.36" fill="#9370DB"/>
<rect x="1579.7" y="1452.22" width="68.6" height="4.03" fill="#98FB98"/>
<rect x="1579.7" y="1450.42" width="68.6" height="2.05" fill="#7CFC00"/>
<rect x="1579.7" y="1441.2" width="68.6" height="9.47" fill="#FFFF00"/>
<rect x="1714.9" y="1580.02" width="68.6" height="221.43" fill="#DC143C"/>
<rect x="1714.9" y="1485.3" width="68.6" height="94.97" fill="#0000FF"/>
<rect x="1714.9" y="1472.41" width="68.6" height="13.14" fill="#20B2AA"/>
<rect x="1714.9" y="1466.11" width="68.6" height="6.55" fill="#FFA500"/>
<rect x="1714.9" y="1459.2" width="68.6" height="7.16" fill="#9370DB"/>
<rect x="1714.9" y="1454.92" width="68.6" height="4.53" fill="#98FB98"/>
<rect x="1714.9" y="1452.4" width="68.6" height="2.77" fill="#1E90FF"/>
<rect x="1714.9" y="1450.92" width="68.6" height="1.73" fill="#7CFC00"/>
<rect x="1714.9" y="1441.2" width="68.6" height="9.97" fill="#FFFF00"/>
<line x1="1275.8" y1="1440.2" x2="1275.8" y2="1802.4" stroke="#000" stroke-width="2.4"/>
<line x1="1274.6" y1="1801.2" x2="1817" y2="1801.2" stroke="#000" stroke-width="2.4"/>
<line x1="1268.8" y1="1801.2" x2="1275.8" y2="1801.2" stroke="#000" stroke-width="2"/>
<text x="1267.8" y="1807.32" font-family="'DejaVu Sans', 'Liberation Sans', sans-serif" font-size="17" text-anchor="end" fill="#111" stroke="#111" stroke-width="0.35">0</text>
<line x1="1268.8" y1="1711.2" x2="1275.8" y2="1711.2" stroke="#000" stroke-width="2"/>
<text x="1267.8" y="1717.32" font-family="'DejaVu Sans', 'Liberation Sans', sans-serif" font-size="17" text-anchor="end" fill="#111" stroke="#111" stroke-width="0.35">0.25</text>
<line x1="1268.8" y1="1621.2" x2="1275.8" y2="1621.2" stroke="#000" stroke-width="2"/>
<text x="1267.8" y="1627.32" font-family="'DejaVu Sans', 'Liberation Sans', sans-serif" font-size="17" text-anchor="end" fill="#111" stroke="#111" stroke-width="0.35">0.5</text>
<line x1="1268.8" y1="1531.2" x2="1275.8" y2="1531.2" stroke="#000" stroke-width="2"/>
<text x="1267.8" y="1537.32" font-family="'DejaVu Sans', 'Liberation Sans', sans-serif" font-size="17" text-anchor="end" fill="#111" stroke="#111" stroke-width="0.35">0.75</text>
<line x1="1268.8" y1="1441.2" x2="1275.8" y2="1441.2" stroke="#000" stroke-width="2"/>
<text x="1267.8" y="1447.32" font-family="'DejaVu Sans', 'Liberation Sans', sans-serif" font-size="17" text-anchor="end" fill="#111" stroke="#111" stroke-width="0.35">1</text>
<line x1="1411" y1="1801.2" x2="1411" y2="1805.2" stroke="#000" stroke-width="1.6"/>
<line x1="1546.3" y1="1801.2" x2="1546.3" y2="1805.2" stroke="#000" stroke-width="1.6"/>
<line x1="1681.5" y1="1801.2" x2="1681.5" y2="1805.2" stroke="#000" stroke-width="1.6"/>
<text transform="translate(1349.1 1815.5) rotate(-45)" font-family="'DejaVu Sans', 'Liberation Sans', sans-serif" font-size="15.5" text-anchor="end" fill="#111">YM</text>
<text transform="translate(1484.3 1815.5) rotate(-45)" font-family="'DejaVu Sans', 'Liberation Sans', sans-serif" font-size="15.5" text-anchor="end" fill="#111">YG</text>
<text transform="translate(1619.5 1815.5) rotate(-45)" font-family="'DejaVu Sans', 'Liberation Sans', sans-serif" font-size="15.5" text-anchor="end" fill="#111">SM</text>
<text transform="translate(1754.7 1815.5) rotate(-45)" font-family="'DejaVu Sans', 'Liberation Sans', sans-serif" font-size="15.5" text-anchor="end" fill="#111">SG</text>
<text x="1546.5" y="1849" font-family="'DejaVu Sans', 'Liberation Sans', sans-serif" font-size="17.2" text-anchor="middle" fill="#111">Group Name</text>
<text transform="translate(1213.6 1619) rotate(-90)" font-family="'DejaVu Sans', 'Liberation Sans', sans-serif" font-size="17.1" text-anchor="middle" fill="#111">Relative Abundance</text>
<rect x="1830.4" y="1497.15" width="9.3" height="9.3" fill="#FFFF00"/>
<text x="1843.5" y="1505.94" font-family="'DejaVu Sans', 'Liberation Sans', sans-serif" font-size="11.5" fill="#111" stroke="#111" stroke-width="0.25">Others</text>
<rect x="1830.4" y="1511.58" width="9.3" height="9.3" fill="#808000"/>
<text x="1843.5" y="1520.37" font-family="'DejaVu Sans', 'Liberation Sans', sans-serif" font-size="11.5" fill="#111" stroke="#111" stroke-width="0.25">Campylobacterota</text>
<rect x="1830.4" y="1526.01" width="9.3" height="9.3" fill="#7CFC00"/>
<text x="1843.5" y="1534.8" font-family="'DejaVu Sans', 'Liberation Sans', sans-serif" font-size="11.5" fill="#111" stroke="#111" stroke-width="0.25">Chloroflexi</text>
<rect x="1830.4" y="1540.44" width="9.3" height="9.3" fill="#1E90FF"/>
<text x="1843.5" y="1549.23" font-family="'DejaVu Sans', 'Liberation Sans', sans-serif" font-size="11.5" fill="#111" stroke="#111" stroke-width="0.25">Cyanobacteria</text>
<rect x="1830.4" y="1554.87" width="9.3" height="9.3" fill="#F08080"/>
<text x="1843.5" y="1563.66" font-family="'DejaVu Sans', 'Liberation Sans', sans-serif" font-size="11.5" fill="#111" stroke="#111" stroke-width="0.25">Fusobacteriota</text>
<rect x="1830.4" y="1569.3" width="9.3" height="9.3" fill="#98FB98"/>
<text x="1843.5" y="1578.09" font-family="'DejaVu Sans', 'Liberation Sans', sans-serif" font-size="11.5" fill="#111" stroke="#111" stroke-width="0.25">Acidobacteriota</text>
<rect x="1830.4" y="1583.73" width="9.3" height="9.3" fill="#9370DB"/>
<text x="1843.5" y="1592.52" font-family="'DejaVu Sans', 'Liberation Sans', sans-serif" font-size="11.5" fill="#111" stroke="#111" stroke-width="0.25">Actinobacteriota</text>
<rect x="1830.4" y="1598.16" width="9.3" height="9.3" fill="#FFA500"/>
<text x="1843.5" y="1606.95" font-family="'DejaVu Sans', 'Liberation Sans', sans-serif" font-size="11.5" fill="#111" stroke="#111" stroke-width="0.25">unidentified_Bacteria</text>
<rect x="1830.4" y="1612.59" width="9.3" height="9.3" fill="#20B2AA"/>
<text x="1843.5" y="1621.38" font-family="'DejaVu Sans', 'Liberation Sans', sans-serif" font-size="11.5" fill="#111" stroke="#111" stroke-width="0.25">Bacteroidota</text>
<rect x="1830.4" y="1627.02" width="9.3" height="9.3" fill="#0000FF"/>
<text x="1843.5" y="1635.81" font-family="'DejaVu Sans', 'Liberation Sans', sans-serif" font-size="11.5" fill="#111" stroke="#111" stroke-width="0.25">Firmicutes</text>
<rect x="1830.4" y="1641.45" width="9.3" height="9.3" fill="#DC143C"/>
<text x="1843.5" y="1650.24" font-family="'DejaVu Sans', 'Liberation Sans', sans-serif" font-size="11.5" fill="#111" stroke="#111" stroke-width="0.25">Proteobacteria</text>
<line x1="1270.6" y1="2239.4" x2="1826.4" y2="2239.4" stroke="#999" stroke-width="1.5" stroke-dasharray="3.5,3.5"/>
<line x1="1270.6" y1="2146.9" x2="1826.4" y2="2146.9" stroke="#999" stroke-width="1.5" stroke-dasharray="3.5,3.5"/>
<line x1="1270.6" y1="2054.4" x2="1826.4" y2="2054.4" stroke="#999" stroke-width="1.5" stroke-dasharray="3.5,3.5"/>
<rect x="1306.3" y="2232.37" width="70" height="99.78" fill="#DC143C"/>
<rect x="1306.3" y="2083.63" width="70" height="148.99" fill="#0000FF"/>
<rect x="1306.3" y="2067.35" width="70" height="16.53" fill="#FFA500"/>
<rect x="1306.3" y="2047" width="70" height="20.6" fill="#9370DB"/>
<rect x="1306.3" y="2038.86" width="70" height="8.39" fill="#98FB98"/>
<rect x="1306.3" y="2035.9" width="70" height="3.21" fill="#1E90FF"/>
<rect x="1306.3" y="2034.79" width="70" height="1.36" fill="#7CFC00"/>
<rect x="1306.3" y="2029.24" width="70" height="5.8" fill="#808000"/>
<rect x="1306.3" y="1961.9" width="70" height="67.59" fill="#FFFF00"/>
<rect x="1444.8" y="2260.97" width="70" height="71.18" fill="#DC143C"/>
<rect x="1444.8" y="2249.58" width="70" height="11.65" fill="#0000FF"/>
<rect x="1444.8" y="2149.01" width="70" height="100.82" fill="#20B2AA"/>
<rect x="1444.8" y="2139.76" width="70" height="9.5" fill="#FFA500"/>
<rect x="1444.8" y="2108.79" width="70" height="31.22" fill="#9370DB"/>
<rect x="1444.8" y="2079.67" width="70" height="29.37" fill="#98FB98"/>
<rect x="1444.8" y="2069.09" width="70" height="10.83" fill="#F08080"/>
<rect x="1444.8" y="2051.37" width="70" height="17.97" fill="#1E90FF"/>
<rect x="1444.8" y="2036.53" width="70" height="15.09" fill="#7CFC00"/>
<rect x="1444.8" y="1961.9" width="70" height="74.88" fill="#FFFF00"/>
<rect x="1583.3" y="2265.74" width="70" height="66.41" fill="#DC143C"/>
<rect x="1583.3" y="2241.1" width="70" height="24.89" fill="#0000FF"/>
<rect x="1583.3" y="2231.33" width="70" height="10.02" fill="#20B2AA"/>
<rect x="1583.3" y="2145.31" width="70" height="86.27" fill="#FFA500"/>
<rect x="1583.3" y="2097.69" width="70" height="47.87" fill="#9370DB"/>
<rect x="1583.3" y="2056.4" width="70" height="41.54" fill="#98FB98"/>
<rect x="1583.3" y="2052.7" width="70" height="3.95" fill="#F08080"/>
<rect x="1583.3" y="2049.26" width="70" height="3.69" fill="#1E90FF"/>
<rect x="1583.3" y="2045.82" width="70" height="3.69" fill="#7CFC00"/>
<rect x="1583.3" y="2041.3" width="70" height="4.76" fill="#808000"/>
<rect x="1583.3" y="1961.9" width="70" height="79.65" fill="#FFFF00"/>
<rect x="1721.8" y="2143.68" width="70" height="188.47" fill="#DC143C"/>
<rect x="1721.8" y="2142.83" width="70" height="1.1" fill="#0000FF"/>
<rect x="1721.8" y="2074.01" width="70" height="69.07" fill="#20B2AA"/>
<rect x="1721.8" y="2071.79" width="70" height="2.47" fill="#9370DB"/>
<rect x="1721.8" y="2061.8" width="70" height="10.24" fill="#7CFC00"/>
<rect x="1721.8" y="1961.9" width="70" height="100.15" fill="#FFFF00"/>
<line x1="1270.6" y1="1960.9" x2="1270.6" y2="2333.1" stroke="#000" stroke-width="2.4"/>
<line x1="1269.4" y1="2331.9" x2="1826.4" y2="2331.9" stroke="#000" stroke-width="2.4"/>
<line x1="1263.6" y1="2331.9" x2="1270.6" y2="2331.9" stroke="#000" stroke-width="2"/>
<text x="1262.6" y="2338.02" font-family="'DejaVu Sans', 'Liberation Sans', sans-serif" font-size="17" text-anchor="end" fill="#111" stroke="#111" stroke-width="0.35">0</text>
<line x1="1263.6" y1="2239.4" x2="1270.6" y2="2239.4" stroke="#000" stroke-width="2"/>
<text x="1262.6" y="2245.52" font-family="'DejaVu Sans', 'Liberation Sans', sans-serif" font-size="17" text-anchor="end" fill="#111" stroke="#111" stroke-width="0.35">0.25</text>
<line x1="1263.6" y1="2146.9" x2="1270.6" y2="2146.9" stroke="#000" stroke-width="2"/>
<text x="1262.6" y="2153.02" font-family="'DejaVu Sans', 'Liberation Sans', sans-serif" font-size="17" text-anchor="end" fill="#111" stroke="#111" stroke-width="0.35">0.5</text>
<line x1="1263.6" y1="2054.4" x2="1270.6" y2="2054.4" stroke="#000" stroke-width="2"/>
<text x="1262.6" y="2060.52" font-family="'DejaVu Sans', 'Liberation Sans', sans-serif" font-size="17" text-anchor="end" fill="#111" stroke="#111" stroke-width="0.35">0.75</text>
<line x1="1263.6" y1="1961.9" x2="1270.6" y2="1961.9" stroke="#000" stroke-width="2"/>
<text x="1262.6" y="1968.02" font-family="'DejaVu Sans', 'Liberation Sans', sans-serif" font-size="17" text-anchor="end" fill="#111" stroke="#111" stroke-width="0.35">1</text>
<line x1="1410.9" y1="2331.9" x2="1410.9" y2="2335.9" stroke="#000" stroke-width="1.6"/>
<line x1="1549" y1="2331.9" x2="1549" y2="2335.9" stroke="#000" stroke-width="1.6"/>
<line x1="1686.7" y1="2331.9" x2="1686.7" y2="2335.9" stroke="#000" stroke-width="1.6"/>
<text transform="translate(1346.8 2346.5) rotate(-45)" font-family="'DejaVu Sans', 'Liberation Sans', sans-serif" font-size="15.5" text-anchor="end" fill="#111">YM</text>
<text transform="translate(1485.3 2346.5) rotate(-45)" font-family="'DejaVu Sans', 'Liberation Sans', sans-serif" font-size="15.5" text-anchor="end" fill="#111">YG</text>
<text transform="translate(1623.8 2346.5) rotate(-45)" font-family="'DejaVu Sans', 'Liberation Sans', sans-serif" font-size="15.5" text-anchor="end" fill="#111">SM</text>
<text transform="translate(1762.3 2346.5) rotate(-45)" font-family="'DejaVu Sans', 'Liberation Sans', sans-serif" font-size="15.5" text-anchor="end" fill="#111">SG</text>
<text x="1549" y="2381" font-family="'DejaVu Sans', 'Liberation Sans', sans-serif" font-size="17.6" text-anchor="middle" fill="#111">Group Name</text>
<text transform="translate(1208.3 2145.5) rotate(-90)" font-family="'DejaVu Sans', 'Liberation Sans', sans-serif" font-size="17.6" text-anchor="middle" fill="#111">Relative Abundance</text>
<rect x="1840.5" y="2020.15" width="9.7" height="9.7" fill="#FFFF00"/>
<text x="1854.4" y="2029.25" font-family="'DejaVu Sans', 'Liberation Sans', sans-serif" font-size="11.8" fill="#111" stroke="#111" stroke-width="0.25">Others</text>
<rect x="1840.5" y="2035.02" width="9.7" height="9.7" fill="#808000"/>
<text x="1854.4" y="2044.12" font-family="'DejaVu Sans', 'Liberation Sans', sans-serif" font-size="11.8" fill="#111" stroke="#111" stroke-width="0.25">Rothia</text>
<rect x="1840.5" y="2049.89" width="9.7" height="9.7" fill="#7CFC00"/>
<text x="1854.4" y="2058.99" font-family="'DejaVu Sans', 'Liberation Sans', sans-serif" font-size="11.8" fill="#111" stroke="#111" stroke-width="0.25">Bacteroides</text>
<rect x="1840.5" y="2064.76" width="9.7" height="9.7" fill="#1E90FF"/>
<text x="1854.4" y="2073.86" font-family="'DejaVu Sans', 'Liberation Sans', sans-serif" font-size="11.8" fill="#111" stroke="#111" stroke-width="0.25">Acetobacter</text>
<rect x="1840.5" y="2079.63" width="9.7" height="9.7" fill="#F08080"/>
<text x="1854.4" y="2088.73" font-family="'DejaVu Sans', 'Liberation Sans', sans-serif" font-size="11.8" fill="#111" stroke="#111" stroke-width="0.25">Lactobacillus</text>
<rect x="1840.5" y="2094.5" width="9.7" height="9.7" fill="#98FB98"/>
<text x="1854.4" y="2103.6" font-family="'DejaVu Sans', 'Liberation Sans', sans-serif" font-size="11.8" fill="#111" stroke="#111" stroke-width="0.25">Streptococcus</text>
<rect x="1840.5" y="2109.37" width="9.7" height="9.7" fill="#9370DB"/>
<text x="1854.4" y="2118.47" font-family="'DejaVu Sans', 'Liberation Sans', sans-serif" font-size="11.8" fill="#111" stroke="#111" stroke-width="0.25">Acinetobacter</text>
<rect x="1840.5" y="2124.24" width="9.7" height="9.7" fill="#FFA500"/>
<text x="1854.4" y="2133.34" font-family="'DejaVu Sans', 'Liberation Sans', sans-serif" font-size="11.8" fill="#111" stroke="#111" stroke-width="0.25">Chryseobacterium</text>
<rect x="1840.5" y="2139.11" width="9.7" height="9.7" fill="#20B2AA"/>
<text x="1854.4" y="2148.21" font-family="'DejaVu Sans', 'Liberation Sans', sans-serif" font-size="11.8" fill="#111" stroke="#111" stroke-width="0.25">Lactococcus</text>
<rect x="1840.5" y="2153.98" width="9.7" height="9.7" fill="#0000FF"/>
<text x="1854.4" y="2163.08" font-family="'DejaVu Sans', 'Liberation Sans', sans-serif" font-size="11.8" fill="#111" stroke="#111" stroke-width="0.25">Enhydrobacter</text>
<rect x="1840.5" y="2168.85" width="9.7" height="9.7" fill="#DC143C"/>
<text x="1854.4" y="2177.95" font-family="'DejaVu Sans', 'Liberation Sans', sans-serif" font-size="11.8" fill="#111" stroke="#111" stroke-width="0.25">Pseudomonas</text>
<text x="98.8" y="63" font-family="'Liberation Serif', 'Times New Roman', serif" font-size="79" fill="#000">a</text>
<text x="1013.8" y="63.3" font-family="'Liberation Serif', 'Times New Roman', serif" font-size="80" fill="#000">b</text>
<text x="56.5" y="772.3" font-family="'Liberation Serif', 'Times New Roman', serif" font-size="83" fill="#000">c</text>
<text x="540.7" y="774.5" font-family="'Liberation Serif', 'Times New Roman', serif" font-size="83" fill="#000">d</text>
<text x="1056.3" y="772" font-family="'Liberation Serif', 'Times New Roman', serif" font-size="83" fill="#000">e</text>
<text x="1567.5" y="774.5" font-family="'Liberation Serif', 'Times New Roman', serif" font-size="83" fill="#000">f</text>
<text x="64" y="1420" font-family="'Liberation Serif', 'Times New Roman', serif" font-size="80" fill="#000">g</text>
<text x="1199" y="1420.2" font-family="'Liberation Serif', 'Times New Roman', serif" font-size="82" fill="#000">h</text>
<text x="62.5" y="1951" font-family="'Liberation Serif', 'Times New Roman', serif" font-size="86" fill="#000">i</text>
<text x="1200" y="1941" font-family="'Liberation Serif', 'Times New Roman', serif" font-size="84" fill="#000">j</text>
</svg></body></html>
